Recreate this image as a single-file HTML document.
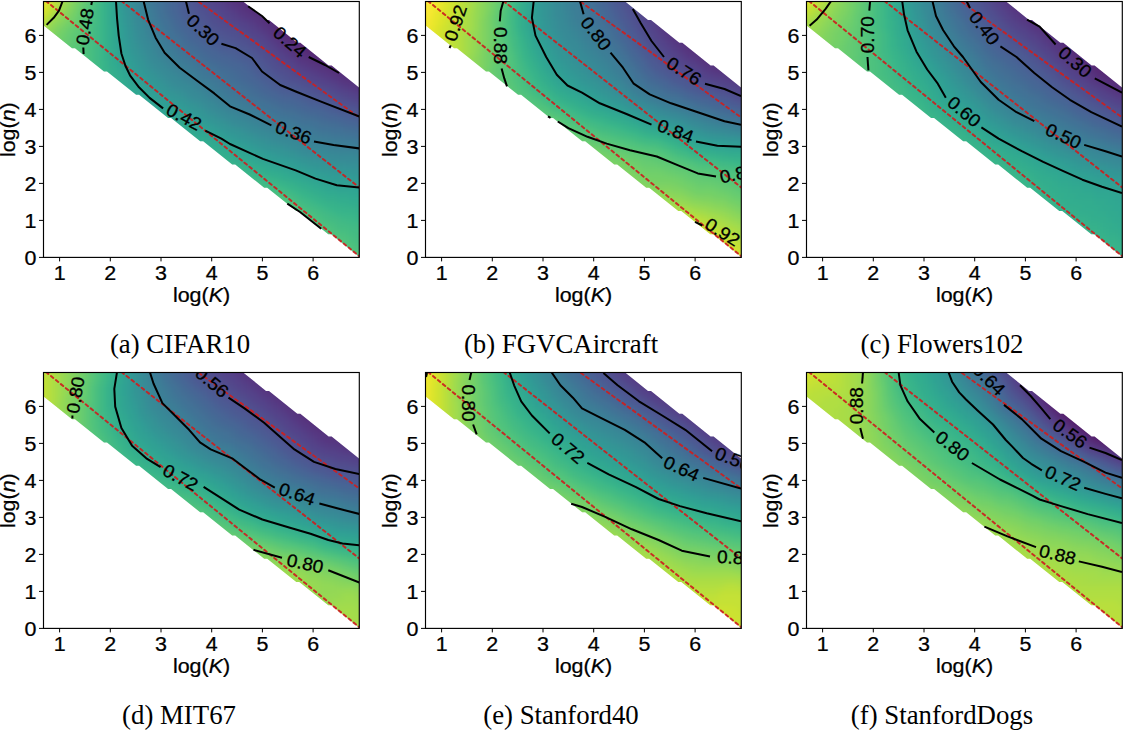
<!DOCTYPE html><html><head><meta charset="utf-8"><style>html,body{margin:0;padding:0;background:#fff;width:1125px;height:730px;overflow:hidden}svg{display:block}text{font-family:"Liberation Sans",sans-serif}.cap{font-family:"Liberation Serif",serif}</style></head><body>
<svg width="1125" height="730" viewBox="0 0 1125 730">
<defs><filter id="bl" x="-5%" y="-5%" width="110%" height="110%" color-interpolation-filters="sRGB"><feGaussianBlur stdDeviation="3.5"/></filter>
<clipPath id="da"><polygon points="43.0,1.0 242.5,1.0 266.0,19.9 269.0,19.9 297.3,42.7 300.3,42.7 328.6,65.5 331.6,65.5 359.0,87.5 359.0,257.0 359.0,256.5 331.3,234.3 328.3,234.3 299.3,211.1 296.3,211.1 267.2,187.8 264.2,187.8 235.2,164.5 232.2,164.5 203.2,141.3 200.2,141.3 171.1,118.0 168.1,118.0 139.1,94.8 136.1,94.8 107.0,71.5 104.0,71.5 75.0,48.2 72.0,48.2 43.0,25.0"/></clipPath>
<clipPath id="ra"><rect x="43" y="1" width="316" height="256"/></clipPath>
<clipPath id="db"><polygon points="425.0,1.0 624.5,1.0 648.0,19.9 651.0,19.9 679.3,42.7 682.3,42.7 710.6,65.5 713.6,65.5 741.0,87.5 741.0,257.0 741.0,256.5 713.3,234.3 710.3,234.3 681.3,211.1 678.3,211.1 649.2,187.8 646.2,187.8 617.2,164.5 614.2,164.5 585.2,141.3 582.2,141.3 553.1,118.0 550.1,118.0 521.1,94.8 518.1,94.8 489.0,71.5 486.0,71.5 457.0,48.2 454.0,48.2 425.0,25.0"/></clipPath>
<clipPath id="rb"><rect x="425" y="1" width="316" height="256"/></clipPath>
<clipPath id="dc"><polygon points="806.0,1.0 1005.5,1.0 1029.0,19.9 1032.0,19.9 1060.3,42.7 1063.3,42.7 1091.6,65.5 1094.6,65.5 1122.0,87.5 1122.0,257.0 1122.0,256.5 1094.3,234.3 1091.3,234.3 1062.3,211.1 1059.3,211.1 1030.2,187.8 1027.2,187.8 998.2,164.5 995.2,164.5 966.2,141.3 963.2,141.3 934.1,118.0 931.1,118.0 902.1,94.8 899.1,94.8 870.0,71.5 867.0,71.5 838.0,48.2 835.0,48.2 806.0,25.0"/></clipPath>
<clipPath id="rc"><rect x="806" y="1" width="316" height="256"/></clipPath>
<clipPath id="dd"><polygon points="43.0,372.0 242.5,372.0 266.0,390.9 269.0,390.9 297.3,413.7 300.3,413.7 328.6,436.5 331.6,436.5 359.0,458.5 359.0,628.0 359.0,627.5 331.3,605.3 328.3,605.3 299.3,582.1 296.3,582.1 267.2,558.8 264.2,558.8 235.2,535.5 232.2,535.5 203.2,512.3 200.2,512.3 171.1,489.0 168.1,489.0 139.1,465.8 136.1,465.8 107.0,442.5 104.0,442.5 75.0,419.2 72.0,419.2 43.0,396.0"/></clipPath>
<clipPath id="rd"><rect x="43" y="372" width="316" height="256"/></clipPath>
<clipPath id="de"><polygon points="425.0,372.0 624.5,372.0 648.0,390.9 651.0,390.9 679.3,413.7 682.3,413.7 710.6,436.5 713.6,436.5 741.0,458.5 741.0,628.0 741.0,627.5 713.3,605.3 710.3,605.3 681.3,582.1 678.3,582.1 649.2,558.8 646.2,558.8 617.2,535.5 614.2,535.5 585.2,512.3 582.2,512.3 553.1,489.0 550.1,489.0 521.1,465.8 518.1,465.8 489.0,442.5 486.0,442.5 457.0,419.2 454.0,419.2 425.0,396.0"/></clipPath>
<clipPath id="re"><rect x="425" y="372" width="316" height="256"/></clipPath>
<clipPath id="df"><polygon points="806.0,372.0 1005.5,372.0 1029.0,390.9 1032.0,390.9 1060.3,413.7 1063.3,413.7 1091.6,436.5 1094.6,436.5 1122.0,458.5 1122.0,628.0 1122.0,627.5 1094.3,605.3 1091.3,605.3 1062.3,582.1 1059.3,582.1 1030.2,558.8 1027.2,558.8 998.2,535.5 995.2,535.5 966.2,512.3 963.2,512.3 934.1,489.0 931.1,489.0 902.1,465.8 899.1,465.8 870.0,442.5 867.0,442.5 838.0,419.2 835.0,419.2 806.0,396.0"/></clipPath>
<clipPath id="rf"><rect x="806" y="372" width="316" height="256"/></clipPath>
</defs><rect width="1125" height="730" fill="#fff"/>
<g clip-path="url(#da)"><g filter="url(#bl)"><path fill="#440154" d="M271 -5h102v6h-102zM277 1h96v6h-96zM283 7h90v6h-90zM289 13h84v6h-84zM295 19h78v6h-78zM301 25h72v6h-72zM313 31h60v6h-60zM319 37h54v6h-54zM331 43h42v6h-42zM337 49h36v6h-36zM349 55h24v6h-24zM361 61h12v6h-12z"/><path fill="#450457" d="M265 -5h6v6h-6zM271 1h6v6h-6zM277 7h6v6h-6zM307 31h6v6h-6zM313 37h6v6h-6zM325 43h6v6h-6zM331 49h6v6h-6zM343 55h6v6h-6zM355 61h6v6h-6z"/><path fill="#46085c" d="M283 13h6v6h-6zM289 19h6v6h-6zM295 25h6v6h-6zM301 31h6v6h-6zM307 37h6v6h-6zM319 43h6v6h-6zM337 55h6v6h-6zM349 61h6v6h-6zM367 67h6v6h-6z"/><path fill="#470d60" d="M259 -5h6v6h-6zM265 1h6v6h-6zM271 7h6v6h-6zM277 13h6v6h-6zM283 19h6v6h-6zM289 25h6v6h-6zM295 31h6v6h-6zM313 43h6v6h-6zM325 49h6v6h-6zM331 55h6v6h-6zM343 61h6v6h-6zM355 67h12v6h-12z"/><path fill="#471063" d="M253 -5h6v6h-6zM259 1h6v6h-6zM265 7h6v6h-6zM301 37h6v6h-6zM307 43h6v6h-6zM319 49h6v6h-6zM337 61h6v6h-6zM349 67h6v6h-6zM367 73h6v6h-6z"/><path fill="#481467" d="M247 -5h6v6h-6zM253 1h6v6h-6zM271 13h6v6h-6zM277 19h6v6h-6zM283 25h6v6h-6zM289 31h6v6h-6zM295 37h6v6h-6zM301 43h6v6h-6zM313 49h6v6h-6zM325 55h6v6h-6zM331 61h6v6h-6zM343 67h6v6h-6zM361 73h6v6h-6z"/><path fill="#48186a" d="M259 7h6v6h-6zM265 13h6v6h-6zM271 19h6v6h-6zM277 25h6v6h-6zM283 31h6v6h-6zM307 49h6v6h-6zM319 55h6v6h-6zM337 67h6v6h-6zM355 73h6v6h-6zM367 79h6v6h-6z"/><path fill="#481b6d" d="M241 -5h6v6h-6zM247 1h6v6h-6zM253 7h6v6h-6zM289 37h6v6h-6zM295 43h6v6h-6zM301 49h6v6h-6zM313 55h6v6h-6zM325 61h6v6h-6zM343 73h12v6h-12zM361 79h6v6h-6z"/><path fill="#481f70" d="M235 -5h6v6h-6zM241 1h6v6h-6zM247 7h6v6h-6zM259 13h6v6h-6zM265 19h6v6h-6zM271 25h6v6h-6zM277 31h6v6h-6zM283 37h6v6h-6zM289 43h6v6h-6zM307 55h6v6h-6zM319 61h6v6h-6zM331 67h6v6h-6zM355 79h6v6h-6z"/><path fill="#482374" d="M229 -5h6v6h-6zM235 1h6v6h-6zM241 7h6v6h-6zM253 13h6v6h-6zM259 19h6v6h-6zM265 25h6v6h-6zM295 49h6v6h-6zM301 55h6v6h-6zM313 61h6v6h-6zM325 67h6v6h-6zM337 73h6v6h-6zM349 79h6v6h-6zM367 85h6v6h-6z"/><path fill="#482576" d="M247 13h6v6h-6zM271 31h6v6h-6zM277 37h6v6h-6zM283 43h6v6h-6zM289 49h6v6h-6zM295 55h6v6h-6zM307 61h6v6h-6zM319 67h6v6h-6zM331 73h6v6h-6zM343 79h6v6h-6zM355 85h12v6h-12z"/><path fill="#482979" d="M223 -5h6v6h-6zM229 1h6v6h-6zM235 7h6v6h-6zM241 13h6v6h-6zM253 19h6v6h-6zM259 25h6v6h-6zM265 31h6v6h-6zM271 37h6v6h-6zM277 43h6v6h-6zM301 61h6v6h-6zM313 67h6v6h-6zM325 73h6v6h-6zM337 79h6v6h-6zM349 85h6v6h-6zM367 91h6v6h-6z"/><path fill="#472d7b" d="M217 -5h6v6h-6zM223 1h6v6h-6zM229 7h6v6h-6zM235 13h6v6h-6zM247 19h6v6h-6zM253 25h6v6h-6zM283 49h6v6h-6zM289 55h6v6h-6zM295 61h6v6h-6zM307 67h6v6h-6zM319 73h6v6h-6zM331 79h6v6h-6zM343 85h6v6h-6zM361 91h6v6h-6z"/><path fill="#46307e" d="M223 7h6v6h-6zM241 19h6v6h-6zM259 31h6v6h-6zM265 37h6v6h-6zM271 43h6v6h-6zM277 49h6v6h-6zM283 55h6v6h-6zM301 67h6v6h-6zM313 73h6v6h-6zM325 79h6v6h-6zM337 85h6v6h-6zM355 91h6v6h-6z"/><path fill="#46337f" d="M211 -5h6v6h-6zM217 1h6v6h-6zM229 13h6v6h-6zM235 19h6v6h-6zM247 25h6v6h-6zM253 31h6v6h-6zM289 61h6v6h-6zM295 67h6v6h-6zM307 73h6v6h-6zM319 79h6v6h-6zM349 91h6v6h-6zM361 97h12v6h-12z"/><path fill="#453781" d="M211 1h6v6h-6zM217 7h6v6h-6zM223 13h6v6h-6zM229 19h6v6h-6zM241 25h6v6h-6zM247 31h6v6h-6zM259 37h6v6h-6zM265 43h6v6h-6zM271 49h6v6h-6zM277 55h6v6h-6zM283 61h6v6h-6zM301 73h6v6h-6zM313 79h6v6h-6zM331 85h6v6h-6zM343 91h6v6h-6zM355 97h6v6h-6z"/><path fill="#443a83" d="M205 -5h6v6h-6zM205 1h6v6h-6zM211 7h6v6h-6zM217 13h6v6h-6zM223 19h6v6h-6zM235 25h6v6h-6zM253 37h6v6h-6zM259 43h6v6h-6zM265 49h6v6h-6zM271 55h6v6h-6zM277 61h6v6h-6zM289 67h6v6h-6zM295 73h6v6h-6zM307 79h6v6h-6zM325 85h6v6h-6zM337 91h6v6h-6zM349 97h6v6h-6zM367 103h6v6h-6z"/><path fill="#433d84" d="M199 -5h6v6h-6zM205 7h6v6h-6zM211 13h6v6h-6zM217 19h6v6h-6zM229 25h6v6h-6zM241 31h6v6h-6zM247 37h6v6h-6zM283 67h6v6h-6zM289 73h6v6h-6zM301 79h6v6h-6zM319 85h6v6h-6zM331 91h6v6h-6zM343 97h6v6h-6zM361 103h6v6h-6z"/><path fill="#424086" d="M199 1h6v6h-6zM211 19h6v6h-6zM223 25h6v6h-6zM235 31h6v6h-6zM253 43h6v6h-6zM259 49h6v6h-6zM265 55h6v6h-6zM271 61h6v6h-6zM277 67h6v6h-6zM313 85h6v6h-6zM325 91h6v6h-6zM337 97h6v6h-6zM355 103h6v6h-6z"/><path fill="#414487" d="M193 -5h6v6h-6zM199 7h6v6h-6zM205 13h6v6h-6zM217 25h6v6h-6zM223 31h12v6h-12zM235 37h12v6h-12zM247 43h6v6h-6zM265 61h6v6h-6zM271 67h6v6h-6zM283 73h6v6h-6zM289 79h12v6h-12zM307 85h6v6h-6zM319 91h6v6h-6zM349 103h6v6h-6zM367 109h6v6h-6z"/><path fill="#404688" d="M193 1h6v6h-6zM193 7h6v6h-6zM199 13h6v6h-6zM205 19h6v6h-6zM211 25h6v6h-6zM217 31h6v6h-6zM229 37h6v6h-6zM241 43h6v6h-6zM253 49h6v6h-6zM259 55h6v6h-6zM277 73h6v6h-6zM283 79h6v6h-6zM301 85h6v6h-6zM313 91h6v6h-6zM331 97h6v6h-6zM343 103h6v6h-6zM361 109h6v6h-6z"/><path fill="#3e4989" d="M187 -5h6v6h-6zM187 1h6v6h-6zM193 13h6v6h-6zM199 19h6v6h-6zM205 25h6v6h-6zM211 31h6v6h-6zM223 37h6v6h-6zM235 43h6v6h-6zM247 49h6v6h-6zM253 55h6v6h-6zM259 61h6v6h-6zM265 67h6v6h-6zM271 73h6v6h-6zM277 79h6v6h-6zM295 85h6v6h-6zM307 91h6v6h-6zM319 97h12v6h-12zM337 103h6v6h-6zM355 109h6v6h-6zM367 115h6v6h-6z"/><path fill="#3d4d8a" d="M187 7h6v6h-6zM187 13h6v6h-6zM193 19h6v6h-6zM199 25h6v6h-6zM205 31h6v6h-6zM217 37h6v6h-6zM223 43h12v6h-12zM241 49h6v6h-6zM253 61h6v6h-6zM259 67h6v6h-6zM265 73h6v6h-6zM283 85h12v6h-12zM301 91h6v6h-6zM313 97h6v6h-6zM331 103h6v6h-6zM343 109h12v6h-12zM361 115h6v6h-6z"/><path fill="#3c4f8a" d="M181 -5h6v6h-6zM181 1h6v6h-6zM181 7h6v6h-6zM193 25h6v6h-6zM199 31h6v6h-6zM211 37h6v6h-6zM217 43h6v6h-6zM235 49h6v6h-6zM241 55h12v6h-12zM253 67h6v6h-6zM259 73h6v6h-6zM271 79h6v6h-6zM277 85h6v6h-6zM295 91h6v6h-6zM307 97h6v6h-6zM325 103h6v6h-6zM337 109h6v6h-6zM355 115h6v6h-6z"/><path fill="#3b528b" d="M175 -5h6v6h-6zM181 13h6v6h-6zM187 19h6v6h-6zM205 37h6v6h-6zM211 43h6v6h-6zM223 49h12v6h-12zM235 55h6v6h-6zM247 61h6v6h-6zM265 79h6v6h-6zM271 85h6v6h-6zM283 91h12v6h-12zM301 97h6v6h-6zM319 103h6v6h-6zM331 109h6v6h-6zM349 115h6v6h-6zM367 121h6v6h-6z"/><path fill="#39558c" d="M175 1h6v6h-6zM175 7h6v6h-6zM181 19h6v6h-6zM187 25h6v6h-6zM193 31h6v6h-6zM199 37h6v6h-6zM205 43h6v6h-6zM217 49h6v6h-6zM229 55h6v6h-6zM241 61h6v6h-6zM247 67h6v6h-6zM253 73h6v6h-6zM259 79h6v6h-6zM265 85h6v6h-6zM277 91h6v6h-6zM295 97h6v6h-6zM307 103h12v6h-12zM325 109h6v6h-6zM343 115h6v6h-6zM361 121h6v6h-6z"/><path fill="#38598c" d="M169 -5h6v6h-6zM175 13h6v6h-6zM181 25h6v6h-6zM187 31h6v6h-6zM193 37h6v6h-6zM199 43h6v6h-6zM211 49h6v6h-6zM217 55h12v6h-12zM229 61h12v6h-12zM241 67h6v6h-6zM247 73h6v6h-6zM253 79h6v6h-6zM259 85h6v6h-6zM271 91h6v6h-6zM283 97h12v6h-12zM301 103h6v6h-6zM319 109h6v6h-6zM337 115h6v6h-6zM355 121h6v6h-6z"/><path fill="#375b8d" d="M169 1h6v6h-6zM169 7h6v6h-6zM175 19h6v6h-6zM187 37h6v6h-6zM205 49h6v6h-6zM211 55h6v6h-6zM223 61h6v6h-6zM235 67h6v6h-6zM241 73h6v6h-6zM247 79h6v6h-6zM265 91h6v6h-6zM277 97h6v6h-6zM295 103h6v6h-6zM307 109h12v6h-12zM325 115h12v6h-12zM343 121h12v6h-12zM367 127h6v6h-6z"/><path fill="#355e8d" d="M163 -5h6v6h-6zM169 13h6v6h-6zM175 25h6v6h-6zM181 31h6v6h-6zM193 43h6v6h-6zM199 49h6v6h-6zM205 55h6v6h-6zM217 61h6v6h-6zM229 67h6v6h-6zM235 73h6v6h-6zM241 79h6v6h-6zM253 85h6v6h-6zM259 91h6v6h-6zM271 97h6v6h-6zM283 103h12v6h-12zM301 109h6v6h-6zM319 115h6v6h-6zM337 121h6v6h-6zM361 127h6v6h-6z"/><path fill="#34618d" d="M163 1h6v6h-6zM163 7h6v6h-6zM169 19h6v6h-6zM175 31h6v6h-6zM181 37h6v6h-6zM187 43h6v6h-6zM193 49h6v6h-6zM199 55h6v6h-6zM211 61h6v6h-6zM217 67h12v6h-12zM229 73h6v6h-6zM235 79h6v6h-6zM247 85h6v6h-6zM253 91h6v6h-6zM265 97h6v6h-6zM277 103h6v6h-6zM295 109h6v6h-6zM313 115h6v6h-6zM325 121h12v6h-12zM349 127h12v6h-12z"/><path fill="#33638d" d="M157 -5h6v6h-6zM163 13h6v6h-6zM169 25h6v6h-6zM181 43h6v6h-6zM187 49h6v6h-6zM205 61h6v6h-6zM223 73h6v6h-6zM229 79h6v6h-6zM241 85h6v6h-6zM247 91h6v6h-6zM259 97h6v6h-6zM271 103h6v6h-6zM283 109h12v6h-12zM301 115h12v6h-12zM319 121h6v6h-6zM343 127h6v6h-6zM367 133h6v6h-6z"/><path fill="#31668e" d="M157 1h6v6h-6zM157 7h6v6h-6zM163 19h6v6h-6zM169 31h6v6h-6zM175 37h6v6h-6zM193 55h6v6h-6zM199 61h6v6h-6zM211 67h6v6h-6zM217 73h6v6h-6zM223 79h6v6h-6zM235 85h6v6h-6zM241 91h6v6h-6zM253 97h6v6h-6zM265 103h6v6h-6zM277 109h6v6h-6zM295 115h6v6h-6zM313 121h6v6h-6zM331 127h12v6h-12zM355 133h12v6h-12z"/><path fill="#30698e" d="M151 -5h6v6h-6zM157 13h6v6h-6zM163 25h6v6h-6zM169 37h6v6h-6zM175 43h6v6h-6zM181 49h6v6h-6zM187 55h6v6h-6zM193 61h6v6h-6zM205 67h6v6h-6zM211 73h6v6h-6zM229 85h6v6h-6zM235 91h6v6h-6zM247 97h6v6h-6zM259 103h6v6h-6zM271 109h6v6h-6zM289 115h6v6h-6zM301 121h12v6h-12zM319 127h12v6h-12zM343 133h12v6h-12z"/><path fill="#2f6b8e" d="M151 1h6v6h-6zM157 19h6v6h-6zM163 31h6v6h-6zM175 49h6v6h-6zM181 55h6v6h-6zM199 67h6v6h-6zM205 73h6v6h-6zM217 79h6v6h-6zM223 85h6v6h-6zM229 91h6v6h-6zM241 97h6v6h-6zM253 103h6v6h-6zM265 109h6v6h-6zM277 115h12v6h-12zM295 121h6v6h-6zM313 127h6v6h-6zM331 133h12v6h-12zM367 139h6v6h-6z"/><path fill="#2e6e8e" d="M151 7h6v6h-6zM151 13h6v6h-6zM157 25h6v6h-6zM163 37h6v6h-6zM169 43h6v6h-6zM187 61h6v6h-6zM193 67h6v6h-6zM199 73h6v6h-6zM211 79h6v6h-6zM217 85h6v6h-6zM223 91h6v6h-6zM235 97h6v6h-6zM247 103h6v6h-6zM259 109h6v6h-6zM271 115h6v6h-6zM289 121h6v6h-6zM301 127h12v6h-12zM319 133h12v6h-12zM355 139h12v6h-12z"/><path fill="#2d718e" d="M145 -5h6v6h-6zM145 1h6v6h-6zM151 19h6v6h-6zM157 31h6v6h-6zM163 43h6v6h-6zM169 49h6v6h-6zM175 55h6v6h-6zM181 61h6v6h-6zM187 67h6v6h-6zM205 79h6v6h-6zM211 85h6v6h-6zM229 97h6v6h-6zM241 103h6v6h-6zM253 109h6v6h-6zM265 115h6v6h-6zM277 121h12v6h-12zM295 127h6v6h-6zM313 133h6v6h-6zM337 139h18v6h-18zM367 145h6v6h-6z"/><path fill="#2c738e" d="M145 7h6v6h-6zM151 25h6v6h-6zM157 37h6v6h-6zM163 49h6v6h-6zM169 55h6v6h-6zM175 61h6v6h-6zM193 73h6v6h-6zM199 79h6v6h-6zM217 91h6v6h-6zM223 97h6v6h-6zM229 103h12v6h-12zM247 109h6v6h-6zM259 115h6v6h-6zM271 121h6v6h-6zM289 127h6v6h-6zM307 133h6v6h-6zM325 139h12v6h-12zM361 145h6v6h-6z"/><path fill="#2b758e" d="M139 -5h6v6h-6zM145 13h6v6h-6zM145 19h6v6h-6zM151 31h6v6h-6zM157 43h6v6h-6zM181 67h6v6h-6zM187 73h6v6h-6zM193 79h6v6h-6zM205 85h6v6h-6zM211 91h6v6h-6zM217 97h6v6h-6zM241 109h6v6h-6zM253 115h6v6h-6zM265 121h6v6h-6zM283 127h6v6h-6zM295 133h12v6h-12zM313 139h12v6h-12zM343 145h18v6h-18z"/><path fill="#2a788e" d="M139 1h6v6h-6zM139 7h6v6h-6zM145 25h6v6h-6zM151 37h6v6h-6zM157 49h6v6h-6zM163 55h6v6h-6zM169 61h6v6h-6zM175 67h6v6h-6zM181 73h6v6h-6zM199 85h6v6h-6zM205 91h6v6h-6zM223 103h6v6h-6zM235 109h6v6h-6zM247 115h6v6h-6zM259 121h6v6h-6zM271 127h12v6h-12zM289 133h6v6h-6zM307 139h6v6h-6zM325 145h18v6h-18zM367 151h6v6h-6z"/><path fill="#297b8e" d="M139 13h6v6h-6zM145 31h6v6h-6zM151 43h6v6h-6zM157 55h6v6h-6zM163 61h6v6h-6zM169 67h6v6h-6zM187 79h6v6h-6zM193 85h6v6h-6zM211 97h6v6h-6zM217 103h6v6h-6zM229 109h6v6h-6zM241 115h6v6h-6zM253 121h6v6h-6zM265 127h6v6h-6zM283 133h6v6h-6zM301 139h6v6h-6zM313 145h12v6h-12zM355 151h12v6h-12z"/><path fill="#287d8e" d="M133 -5h6v6h-6zM139 19h6v6h-6zM145 37h6v6h-6zM151 49h6v6h-6zM175 73h6v6h-6zM181 79h6v6h-6zM199 91h6v6h-6zM205 97h6v6h-6zM223 109h6v6h-6zM235 115h6v6h-6zM247 121h6v6h-6zM259 127h6v6h-6zM277 133h6v6h-6zM295 139h6v6h-6zM307 145h6v6h-6zM331 151h24v6h-24zM367 157h6v6h-6z"/><path fill="#27808e" d="M133 1h6v6h-6zM133 7h6v6h-6zM139 25h6v6h-6zM139 31h6v6h-6zM145 43h6v6h-6zM151 55h6v6h-6zM157 61h6v6h-6zM163 67h6v6h-6zM169 73h6v6h-6zM175 79h6v6h-6zM187 85h6v6h-6zM193 91h6v6h-6zM211 103h6v6h-6zM217 109h6v6h-6zM229 115h6v6h-6zM241 121h6v6h-6zM253 127h6v6h-6zM271 133h6v6h-6zM283 139h12v6h-12zM301 145h6v6h-6zM319 151h12v6h-12zM361 157h6v6h-6z"/><path fill="#26828e" d="M133 13h6v6h-6zM133 19h6v6h-6zM139 37h6v6h-6zM145 49h6v6h-6zM151 61h6v6h-6zM157 67h6v6h-6zM163 73h6v6h-6zM169 79h6v6h-6zM181 85h6v6h-6zM187 91h6v6h-6zM199 97h6v6h-6zM205 103h6v6h-6zM223 115h6v6h-6zM235 121h6v6h-6zM247 127h6v6h-6zM265 133h6v6h-6zM277 139h6v6h-6zM295 145h6v6h-6zM307 151h12v6h-12zM337 157h24v6h-24z"/><path fill="#25848e" d="M133 25h6v6h-6zM139 43h6v6h-6zM145 55h6v6h-6zM175 85h6v6h-6zM193 97h6v6h-6zM211 109h6v6h-6zM229 121h6v6h-6zM259 133h6v6h-6zM271 139h6v6h-6zM289 145h6v6h-6zM301 151h6v6h-6zM325 157h12v6h-12zM361 163h12v6h-12z"/><path fill="#24878e" d="M127 -5h6v6h-6zM127 1h6v6h-6zM127 7h6v6h-6zM133 31h6v6h-6zM133 37h6v6h-6zM139 49h6v6h-6zM145 61h6v6h-6zM151 67h6v6h-6zM157 73h6v6h-6zM163 79h6v6h-6zM169 85h6v6h-6zM181 91h6v6h-6zM187 97h6v6h-6zM199 103h6v6h-6zM205 109h6v6h-6zM217 115h6v6h-6zM241 127h6v6h-6zM253 133h6v6h-6zM265 139h6v6h-6zM283 145h6v6h-6zM295 151h6v6h-6zM313 157h12v6h-12zM343 163h18v6h-18z"/><path fill="#238a8d" d="M127 13h6v6h-6zM127 19h6v6h-6zM133 43h6v6h-6zM139 55h6v6h-6zM145 67h6v6h-6zM151 73h6v6h-6zM157 79h6v6h-6zM163 85h6v6h-6zM175 91h6v6h-6zM193 103h6v6h-6zM211 115h6v6h-6zM223 121h6v6h-6zM235 127h6v6h-6zM247 133h6v6h-6zM259 139h6v6h-6zM271 145h12v6h-12zM289 151h6v6h-6zM307 157h6v6h-6zM325 163h18v6h-18zM367 169h6v6h-6z"/><path fill="#228c8d" d="M127 25h6v6h-6zM127 31h6v6h-6zM133 49h6v6h-6zM139 61h6v6h-6zM169 91h6v6h-6zM181 97h6v6h-6zM187 103h6v6h-6zM199 109h6v6h-6zM205 115h6v6h-6zM217 121h6v6h-6zM229 127h6v6h-6zM241 133h6v6h-6zM253 139h6v6h-6zM265 145h6v6h-6zM283 151h6v6h-6zM301 157h6v6h-6zM319 163h6v6h-6zM349 169h18v6h-18z"/><path fill="#218f8d" d="M121 -5h6v6h-6zM121 1h6v6h-6zM121 7h6v6h-6zM127 37h6v6h-6zM127 43h6v6h-6zM133 55h6v6h-6zM139 67h6v6h-6zM145 73h6v6h-6zM151 79h6v6h-6zM157 85h6v6h-6zM163 91h6v6h-6zM175 97h6v6h-6zM193 109h6v6h-6zM211 121h6v6h-6zM223 127h6v6h-6zM235 133h6v6h-6zM247 139h6v6h-6zM259 145h6v6h-6zM277 151h6v6h-6zM295 157h6v6h-6zM307 163h12v6h-12zM331 169h18v6h-18zM367 175h6v6h-6z"/><path fill="#20928c" d="M121 13h6v6h-6zM121 19h6v6h-6zM127 49h6v6h-6zM133 61h6v6h-6zM139 73h6v6h-6zM145 79h6v6h-6zM151 85h6v6h-6zM157 91h6v6h-6zM169 97h6v6h-6zM181 103h6v6h-6zM199 115h6v6h-6zM217 127h6v6h-6zM229 133h6v6h-6zM241 139h6v6h-6zM253 145h6v6h-6zM271 151h6v6h-6zM289 157h6v6h-6zM301 163h6v6h-6zM319 169h12v6h-12zM355 175h12v6h-12z"/><path fill="#1f948c" d="M121 25h6v6h-6zM121 31h6v6h-6zM121 37h6v6h-6zM127 55h6v6h-6zM133 67h6v6h-6zM145 85h6v6h-6zM163 97h6v6h-6zM175 103h6v6h-6zM187 109h6v6h-6zM193 115h6v6h-6zM205 121h6v6h-6zM223 133h6v6h-6zM235 139h6v6h-6zM265 151h6v6h-6zM277 157h12v6h-12zM295 163h6v6h-6zM313 169h6v6h-6zM331 175h24v6h-24zM367 181h6v6h-6z"/><path fill="#1f968b" d="M115 -5h6v6h-6zM115 1h6v6h-6zM121 43h6v6h-6zM121 49h6v6h-6zM127 61h6v6h-6zM133 73h6v6h-6zM139 79h6v6h-6zM151 91h6v6h-6zM157 97h6v6h-6zM163 103h12v6h-12zM181 109h6v6h-6zM199 121h6v6h-6zM211 127h6v6h-6zM229 139h6v6h-6zM247 145h6v6h-6zM259 151h6v6h-6zM271 157h6v6h-6zM289 163h6v6h-6zM307 169h6v6h-6zM325 175h6v6h-6zM355 181h12v6h-12z"/><path fill="#1f998a" d="M115 7h6v6h-6zM115 13h6v6h-6zM115 19h6v6h-6zM121 55h6v6h-6zM127 67h6v6h-6zM133 79h6v6h-6zM139 85h6v6h-6zM145 91h6v6h-6zM151 97h6v6h-6zM175 109h6v6h-6zM187 115h6v6h-6zM193 121h6v6h-6zM205 127h6v6h-6zM217 133h6v6h-6zM241 145h6v6h-6zM253 151h6v6h-6zM265 157h6v6h-6zM283 163h6v6h-6zM301 169h6v6h-6zM313 175h12v6h-12zM331 181h24v6h-24zM367 187h6v6h-6z"/><path fill="#1e9c89" d="M115 25h6v6h-6zM115 31h6v6h-6zM115 37h6v6h-6zM121 61h6v6h-6zM127 73h6v6h-6zM139 91h6v6h-6zM145 97h6v6h-6zM157 103h6v6h-6zM163 109h12v6h-12zM181 115h6v6h-6zM199 127h6v6h-6zM211 133h6v6h-6zM223 139h6v6h-6zM235 145h6v6h-6zM247 151h6v6h-6zM259 157h6v6h-6zM277 163h6v6h-6zM295 169h6v6h-6zM307 175h6v6h-6zM325 181h6v6h-6zM355 187h12v6h-12z"/><path fill="#1f9e89" d="M115 43h6v6h-6zM115 49h6v6h-6zM115 55h6v6h-6zM121 67h6v6h-6zM127 79h6v6h-6zM133 85h6v6h-6zM151 103h6v6h-6zM157 109h6v6h-6zM169 115h12v6h-12zM187 121h6v6h-6zM193 127h6v6h-6zM205 133h6v6h-6zM217 139h6v6h-6zM229 145h6v6h-6zM241 151h6v6h-6zM253 157h6v6h-6zM271 163h6v6h-6zM289 169h6v6h-6zM301 175h6v6h-6zM319 181h6v6h-6zM337 187h18v6h-18zM367 193h6v6h-6z"/><path fill="#1fa188" d="M109 -5h6v6h-6zM109 1h6v6h-6zM109 7h6v6h-6zM109 13h6v6h-6zM109 19h6v6h-6zM115 61h6v6h-6zM121 73h6v6h-6zM127 85h6v6h-6zM133 91h6v6h-6zM139 97h6v6h-6zM145 103h6v6h-6zM151 109h6v6h-6zM163 115h6v6h-6zM181 121h6v6h-6zM187 127h6v6h-6zM199 133h6v6h-6zM211 139h6v6h-6zM223 145h6v6h-6zM235 151h6v6h-6zM247 157h6v6h-6zM265 163h6v6h-6zM283 169h6v6h-6zM295 175h6v6h-6zM313 181h6v6h-6zM325 187h12v6h-12zM349 193h18v6h-18z"/><path fill="#20a386" d="M109 25h6v6h-6zM109 31h6v6h-6zM109 37h6v6h-6zM109 43h6v6h-6zM115 67h6v6h-6zM121 79h6v6h-6zM133 97h6v6h-6zM139 103h6v6h-6zM157 115h6v6h-6zM169 121h12v6h-12zM193 133h6v6h-6zM205 139h6v6h-6zM217 145h6v6h-6zM229 151h6v6h-6zM241 157h6v6h-6zM259 163h6v6h-6zM271 169h12v6h-12zM289 175h6v6h-6zM307 181h6v6h-6zM319 187h6v6h-6zM337 193h12v6h-12zM361 199h12v6h-12z"/><path fill="#21a585" d="M109 49h6v6h-6zM109 55h6v6h-6zM109 61h6v6h-6zM115 73h6v6h-6zM121 85h6v6h-6zM127 91h6v6h-6zM145 109h6v6h-6zM151 115h6v6h-6zM163 121h6v6h-6zM181 127h6v6h-6zM187 133h6v6h-6zM199 139h6v6h-6zM211 145h6v6h-6zM223 151h6v6h-6zM235 157h6v6h-6zM253 163h6v6h-6zM265 169h6v6h-6zM283 175h6v6h-6zM301 181h6v6h-6zM313 187h6v6h-6zM325 193h12v6h-12zM349 199h12v6h-12zM367 205h6v6h-6z"/><path fill="#22a884" d="M109 67h6v6h-6zM115 79h6v6h-6zM121 91h6v6h-6zM127 97h6v6h-6zM133 103h6v6h-6zM139 109h6v6h-6zM157 121h6v6h-6zM169 127h12v6h-12zM181 133h6v6h-6zM193 139h6v6h-6zM205 145h6v6h-6zM217 151h6v6h-6zM229 157h6v6h-6zM247 163h6v6h-6zM259 169h6v6h-6zM277 175h6v6h-6zM295 181h6v6h-6zM307 187h6v6h-6zM319 193h6v6h-6zM337 199h12v6h-12zM355 205h12v6h-12zM367 211h6v6h-6z"/><path fill="#25ab82" d="M103 -5h6v6h-6zM103 1h6v6h-6zM103 7h6v6h-6zM103 13h6v6h-6zM103 19h6v6h-6zM103 25h6v6h-6zM103 31h6v6h-6zM103 37h6v6h-6zM103 43h6v6h-6zM103 49h6v6h-6zM103 55h6v6h-6zM109 73h6v6h-6zM115 85h6v6h-6zM127 103h6v6h-6zM133 109h6v6h-6zM145 115h6v6h-6zM151 121h6v6h-6zM163 127h6v6h-6zM175 133h6v6h-6zM187 139h6v6h-6zM199 145h6v6h-6zM211 151h6v6h-6zM223 157h6v6h-6zM241 163h6v6h-6zM253 169h6v6h-6zM271 175h6v6h-6zM289 181h6v6h-6zM301 187h6v6h-6zM313 193h6v6h-6zM325 199h12v6h-12zM343 205h12v6h-12zM361 211h6v6h-6z"/><path fill="#26ad81" d="M103 61h6v6h-6zM103 67h6v6h-6zM109 79h6v6h-6zM115 91h6v6h-6zM121 97h6v6h-6zM139 115h6v6h-6zM145 121h6v6h-6zM157 127h6v6h-6zM169 133h6v6h-6zM181 139h6v6h-6zM193 145h6v6h-6zM205 151h6v6h-6zM217 157h6v6h-6zM235 163h6v6h-6zM247 169h6v6h-6zM265 175h6v6h-6zM283 181h6v6h-6zM295 187h6v6h-6zM307 193h6v6h-6zM319 199h6v6h-6zM331 205h12v6h-12zM355 211h6v6h-6zM367 217h6v6h-6z"/><path fill="#29af7f" d="M103 73h6v6h-6zM109 85h6v6h-6zM115 97h6v6h-6zM121 103h6v6h-6zM127 109h6v6h-6zM133 115h6v6h-6zM151 127h6v6h-6zM163 133h6v6h-6zM175 139h6v6h-6zM187 145h6v6h-6zM199 151h6v6h-6zM211 157h6v6h-6zM229 163h6v6h-6zM241 169h6v6h-6zM259 175h6v6h-6zM277 181h6v6h-6zM289 187h6v6h-6zM301 193h6v6h-6zM313 199h6v6h-6zM325 205h6v6h-6zM337 211h18v6h-18zM355 217h12v6h-12zM367 223h6v6h-6z"/><path fill="#2db27d" d="M97 1h6v6h-6zM97 7h6v6h-6zM97 13h6v6h-6zM97 19h6v6h-6zM97 25h6v6h-6zM97 31h6v6h-6zM97 37h6v6h-6zM97 43h6v6h-6zM97 49h6v6h-6zM97 55h6v6h-6zM97 61h6v6h-6zM97 67h6v6h-6zM103 79h6v6h-6zM109 91h6v6h-6zM121 109h6v6h-6zM139 121h6v6h-6zM145 127h6v6h-6zM157 133h6v6h-6zM169 139h6v6h-6zM181 145h6v6h-6zM193 151h6v6h-6zM223 163h6v6h-6zM235 169h6v6h-6zM247 175h12v6h-12zM265 181h12v6h-12zM283 187h6v6h-6zM295 193h6v6h-6zM307 199h6v6h-6zM319 205h6v6h-6zM331 211h6v6h-6zM343 217h12v6h-12zM361 223h6v6h-6zM367 229h6v6h-6z"/><path fill="#31b57b" d="M97 -5h6v6h-6zM97 73h6v6h-6zM103 85h6v6h-6zM109 97h6v6h-6zM115 103h6v6h-6zM127 115h6v6h-6zM133 121h6v6h-6zM139 127h6v6h-6zM151 133h6v6h-6zM163 139h6v6h-6zM175 145h6v6h-6zM187 151h6v6h-6zM199 157h12v6h-12zM217 163h6v6h-6zM229 169h6v6h-6zM241 175h6v6h-6zM259 181h6v6h-6zM277 187h6v6h-6zM301 199h6v6h-6zM313 205h6v6h-6zM325 211h6v6h-6zM337 217h6v6h-6zM349 223h12v6h-12zM361 229h6v6h-6zM367 235h6v6h-6zM367 241h6v6h-6z"/><path fill="#34b679" d="M91 25h6v6h-6zM91 31h6v6h-6zM91 37h6v6h-6zM91 43h6v6h-6zM91 49h6v6h-6zM91 55h6v6h-6zM91 61h6v6h-6zM97 79h6v6h-6zM97 85h6v6h-6zM103 91h6v6h-6zM109 103h6v6h-6zM115 109h6v6h-6zM121 115h6v6h-6zM127 121h6v6h-6zM145 133h6v6h-6zM157 139h6v6h-6zM169 145h6v6h-6zM181 151h6v6h-6zM193 157h6v6h-6zM211 163h6v6h-6zM223 169h6v6h-6zM235 175h6v6h-6zM253 181h6v6h-6zM271 187h6v6h-6zM289 193h6v6h-6zM295 199h6v6h-6zM307 205h6v6h-6zM319 211h6v6h-6zM325 217h12v6h-12zM337 223h12v6h-12zM349 229h12v6h-12zM355 235h12v6h-12zM361 241h6v6h-6zM367 247h6v6h-6z"/><path fill="#38b977" d="M91 7h6v6h-6zM91 13h6v6h-6zM91 19h6v6h-6zM91 67h6v6h-6zM91 73h6v6h-6zM97 91h6v6h-6zM103 97h6v6h-6zM133 127h6v6h-6zM139 133h6v6h-6zM151 139h6v6h-6zM163 145h6v6h-6zM175 151h6v6h-6zM187 157h6v6h-6zM205 163h6v6h-6zM217 169h6v6h-6zM229 175h6v6h-6zM247 181h6v6h-6zM265 187h6v6h-6zM283 193h6v6h-6zM301 205h6v6h-6zM313 211h6v6h-6zM319 217h6v6h-6zM331 223h6v6h-6zM337 229h12v6h-12zM349 235h6v6h-6zM355 241h6v6h-6zM361 247h6v6h-6zM367 253h6v6h-6z"/><path fill="#3dbc74" d="M91 -5h6v6h-6zM91 1h6v6h-6zM85 37h6v6h-6zM85 43h6v6h-6zM85 49h6v6h-6zM85 55h6v6h-6zM85 61h6v6h-6zM85 67h6v6h-6zM91 79h6v6h-6zM91 85h6v6h-6zM103 103h6v6h-6zM109 109h6v6h-6zM115 115h6v6h-6zM121 121h6v6h-6zM127 127h6v6h-6zM145 139h6v6h-6zM157 145h6v6h-6zM169 151h6v6h-6zM181 157h6v6h-6zM193 163h12v6h-12zM211 169h6v6h-6zM223 175h6v6h-6zM235 181h12v6h-12zM253 187h12v6h-12zM271 193h12v6h-12zM289 199h6v6h-6zM295 205h6v6h-6zM307 211h6v6h-6zM313 217h6v6h-6zM319 223h12v6h-12zM331 229h6v6h-6zM343 235h6v6h-6zM349 241h6v6h-6zM355 247h6v6h-6zM361 253h6v6h-6zM367 259h6v6h-6z"/><path fill="#40bd72" d="M85 19h6v6h-6zM85 25h6v6h-6zM85 31h6v6h-6zM79 49h6v6h-6zM85 73h6v6h-6zM85 79h6v6h-6zM91 91h6v6h-6zM97 97h6v6h-6zM103 109h6v6h-6zM109 115h6v6h-6zM115 121h6v6h-6zM121 127h6v6h-6zM133 133h6v6h-6zM139 139h6v6h-6zM151 145h6v6h-6zM163 151h6v6h-6zM175 157h6v6h-6zM187 163h6v6h-6zM205 169h6v6h-6zM217 175h6v6h-6zM229 181h6v6h-6zM247 187h6v6h-6zM265 193h6v6h-6zM283 199h6v6h-6zM301 211h6v6h-6zM307 217h6v6h-6zM325 229h6v6h-6zM331 235h12v6h-12zM343 241h6v6h-6zM349 247h6v6h-6zM355 253h6v6h-6zM361 259h6v6h-6zM367 265h6v6h-6z"/><path fill="#46c06f" d="M85 7h6v6h-6zM85 13h6v6h-6zM79 31h6v6h-6zM79 37h6v6h-6zM79 43h6v6h-6zM79 55h6v6h-6zM79 61h6v6h-6zM79 67h6v6h-6zM85 85h6v6h-6zM91 97h6v6h-6zM97 103h6v6h-6zM127 133h6v6h-6zM133 139h6v6h-6zM145 145h6v6h-6zM157 151h6v6h-6zM169 157h6v6h-6zM181 163h6v6h-6zM193 169h12v6h-12zM211 175h6v6h-6zM223 181h6v6h-6zM241 187h6v6h-6zM259 193h6v6h-6zM277 199h6v6h-6zM289 205h6v6h-6zM295 211h6v6h-6zM301 217h6v6h-6zM313 223h6v6h-6zM319 229h6v6h-6zM325 235h6v6h-6zM337 241h6v6h-6zM343 247h6v6h-6zM349 253h6v6h-6zM355 259h6v6h-6zM361 265h6v6h-6z"/><path fill="#4cc26c" d="M85 -5h6v6h-6zM85 1h6v6h-6zM79 25h6v6h-6zM73 37h6v6h-6zM73 43h6v6h-6zM73 49h6v6h-6zM73 55h6v6h-6zM73 61h6v6h-6zM79 73h6v6h-6zM79 79h6v6h-6zM85 91h6v6h-6zM97 109h6v6h-6zM103 115h6v6h-6zM109 121h6v6h-6zM115 127h6v6h-6zM121 133h6v6h-6zM139 145h6v6h-6zM151 151h6v6h-6zM163 157h6v6h-6zM175 163h6v6h-6zM187 169h6v6h-6zM205 175h6v6h-6zM217 181h6v6h-6zM229 187h12v6h-12zM247 193h12v6h-12zM265 199h12v6h-12zM283 205h6v6h-6zM289 211h6v6h-6zM307 223h6v6h-6zM313 229h6v6h-6zM319 235h6v6h-6zM325 241h12v6h-12zM337 247h6v6h-6zM343 253h6v6h-6zM349 259h6v6h-6zM355 265h6v6h-6z"/><path fill="#50c46a" d="M79 13h6v6h-6zM79 19h6v6h-6zM73 31h6v6h-6zM67 43h6v6h-6zM67 49h6v6h-6zM73 67h6v6h-6zM73 73h6v6h-6zM79 85h6v6h-6zM85 97h6v6h-6zM91 103h6v6h-6zM97 115h6v6h-6zM103 121h6v6h-6zM109 127h6v6h-6zM127 139h6v6h-6zM133 145h6v6h-6zM145 151h6v6h-6zM157 157h6v6h-6zM169 163h6v6h-6zM181 169h6v6h-6zM193 175h12v6h-12zM211 181h6v6h-6zM223 187h6v6h-6zM241 193h6v6h-6zM259 199h6v6h-6zM271 205h12v6h-12zM283 211h6v6h-6zM295 217h6v6h-6zM301 223h6v6h-6zM307 229h6v6h-6zM313 235h6v6h-6zM319 241h6v6h-6zM331 247h6v6h-6zM337 253h6v6h-6zM343 259h6v6h-6zM349 265h6v6h-6z"/><path fill="#56c667" d="M79 7h6v6h-6zM73 25h6v6h-6zM67 31h6v6h-6zM67 37h6v6h-6zM67 55h6v6h-6zM67 61h6v6h-6zM73 79h6v6h-6zM79 91h6v6h-6zM85 103h6v6h-6zM91 109h6v6h-6zM115 133h6v6h-6zM121 139h6v6h-6zM127 145h6v6h-6zM139 151h6v6h-6zM151 157h6v6h-6zM163 163h6v6h-6zM175 169h6v6h-6zM187 175h6v6h-6zM205 181h6v6h-6zM217 187h6v6h-6zM235 193h6v6h-6zM247 199h12v6h-12zM265 205h6v6h-6zM277 211h6v6h-6zM289 217h6v6h-6zM295 223h6v6h-6zM301 229h6v6h-6zM307 235h6v6h-6zM325 247h6v6h-6zM331 253h6v6h-6zM337 259h6v6h-6zM343 265h6v6h-6z"/><path fill="#5cc863" d="M79 1h6v6h-6zM73 19h6v6h-6zM67 25h6v6h-6zM61 37h6v6h-6zM61 43h6v6h-6zM61 49h6v6h-6zM61 55h6v6h-6zM67 67h6v6h-6zM67 73h6v6h-6zM73 85h6v6h-6zM79 97h6v6h-6zM91 115h6v6h-6zM97 121h6v6h-6zM103 127h6v6h-6zM109 133h6v6h-6zM115 139h6v6h-6zM133 151h6v6h-6zM145 157h6v6h-6zM157 163h6v6h-6zM169 169h6v6h-6zM181 175h6v6h-6zM193 181h12v6h-12zM211 187h6v6h-6zM223 193h12v6h-12zM241 199h6v6h-6zM259 205h6v6h-6zM271 211h6v6h-6zM283 217h6v6h-6zM289 223h6v6h-6zM295 229h6v6h-6zM313 241h6v6h-6zM319 247h6v6h-6zM325 253h6v6h-6zM331 259h6v6h-6zM337 265h6v6h-6z"/><path fill="#63cb5f" d="M79 -5h6v6h-6zM73 13h6v6h-6zM61 31h6v6h-6zM61 61h6v6h-6zM61 67h6v6h-6zM67 79h6v6h-6zM73 91h6v6h-6zM79 103h6v6h-6zM85 109h6v6h-6zM97 127h6v6h-6zM103 133h6v6h-6zM121 145h6v6h-6zM127 151h6v6h-6zM139 157h6v6h-6zM151 163h6v6h-6zM163 169h6v6h-6zM175 175h6v6h-6zM187 181h6v6h-6zM205 187h6v6h-6zM217 193h6v6h-6zM235 199h6v6h-6zM247 205h12v6h-12zM265 211h6v6h-6zM277 217h6v6h-6zM283 223h6v6h-6zM301 235h6v6h-6zM307 241h6v6h-6zM313 247h6v6h-6zM319 253h6v6h-6zM325 259h6v6h-6zM331 265h6v6h-6z"/><path fill="#67cc5c" d="M73 7h6v6h-6zM67 19h6v6h-6zM61 25h6v6h-6zM55 31h6v6h-6zM55 37h6v6h-6zM55 43h6v6h-6zM55 49h6v6h-6zM55 55h6v6h-6zM61 73h6v6h-6zM67 85h6v6h-6zM73 97h6v6h-6zM79 109h6v6h-6zM85 115h6v6h-6zM91 121h6v6h-6zM109 139h6v6h-6zM115 145h6v6h-6zM133 157h6v6h-6zM145 163h6v6h-6zM157 169h6v6h-6zM169 175h6v6h-6zM181 181h6v6h-6zM193 187h12v6h-12zM211 193h6v6h-6zM223 199h12v6h-12zM241 205h6v6h-6zM253 211h12v6h-12zM271 217h6v6h-6zM277 223h6v6h-6zM289 229h6v6h-6zM295 235h6v6h-6zM301 241h6v6h-6zM307 247h6v6h-6zM313 253h6v6h-6zM319 259h6v6h-6zM325 265h6v6h-6z"/><path fill="#6ece58" d="M73 1h6v6h-6zM67 13h6v6h-6zM55 61h6v6h-6zM55 67h6v6h-6zM61 79h6v6h-6zM67 91h6v6h-6zM73 103h6v6h-6zM85 121h6v6h-6zM91 127h6v6h-6zM97 133h6v6h-6zM103 139h6v6h-6zM109 145h6v6h-6zM121 151h6v6h-6zM127 157h6v6h-6zM139 163h6v6h-6zM151 169h6v6h-6zM163 175h6v6h-6zM175 181h6v6h-6zM187 187h6v6h-6zM199 193h12v6h-12zM217 199h6v6h-6zM229 205h12v6h-12zM247 211h6v6h-6zM259 217h12v6h-12zM271 223h6v6h-6zM283 229h6v6h-6zM289 235h6v6h-6zM295 241h6v6h-6zM301 247h6v6h-6zM307 253h6v6h-6zM313 259h6v6h-6zM319 265h6v6h-6z"/><path fill="#75d054" d="M73 -5h6v6h-6zM61 19h6v6h-6zM55 25h6v6h-6zM49 37h6v6h-6zM49 43h6v6h-6zM49 49h6v6h-6zM55 73h6v6h-6zM61 85h6v6h-6zM67 97h6v6h-6zM73 109h6v6h-6zM79 115h6v6h-6zM115 151h6v6h-6zM121 157h6v6h-6zM133 163h6v6h-6zM145 169h6v6h-6zM157 175h6v6h-6zM169 181h6v6h-6zM181 187h6v6h-6zM193 193h6v6h-6zM211 199h6v6h-6zM223 205h6v6h-6zM241 211h6v6h-6zM253 217h6v6h-6zM265 223h6v6h-6zM277 229h6v6h-6zM283 235h6v6h-6zM289 241h6v6h-6zM295 247h6v6h-6zM301 253h6v6h-6zM307 259h6v6h-6zM313 265h6v6h-6z"/><path fill="#7ad151" d="M67 7h6v6h-6zM49 31h6v6h-6zM49 55h6v6h-6zM49 61h6v6h-6zM55 79h6v6h-6zM61 91h6v6h-6zM67 103h6v6h-6zM79 121h6v6h-6zM85 127h6v6h-6zM91 133h6v6h-6zM97 139h6v6h-6zM103 145h6v6h-6zM109 151h6v6h-6zM127 163h6v6h-6zM139 169h6v6h-6zM151 175h6v6h-6zM163 181h6v6h-6zM175 187h6v6h-6zM187 193h6v6h-6zM199 199h12v6h-12zM217 205h6v6h-6zM229 211h12v6h-12zM247 217h6v6h-6zM259 223h6v6h-6zM271 229h6v6h-6zM277 235h6v6h-6zM283 241h6v6h-6zM289 247h6v6h-6z"/><path fill="#81d34d" d="M67 1h6v6h-6zM61 13h6v6h-6zM55 19h6v6h-6zM49 25h6v6h-6zM49 67h6v6h-6zM55 85h6v6h-6zM61 97h6v6h-6zM67 109h6v6h-6zM73 115h6v6h-6zM85 133h6v6h-6zM91 139h6v6h-6zM97 145h6v6h-6zM115 157h6v6h-6zM121 163h6v6h-6zM133 169h6v6h-6zM145 175h6v6h-6zM157 181h6v6h-6zM169 187h6v6h-6zM181 193h6v6h-6zM193 199h6v6h-6zM205 205h12v6h-12zM223 211h6v6h-6zM235 217h12v6h-12zM253 223h6v6h-6zM265 229h6v6h-6zM271 235h6v6h-6zM277 241h6v6h-6zM295 253h6v6h-6zM301 259h6v6h-6zM307 265h6v6h-6z"/><path fill="#89d548" d="M67 -5h6v6h-6zM61 7h6v6h-6zM43 37h6v6h-6zM43 43h6v6h-6zM43 49h6v6h-6zM43 55h6v6h-6zM49 73h6v6h-6zM49 79h6v6h-6zM55 91h6v6h-6zM61 103h6v6h-6zM73 121h6v6h-6zM79 127h6v6h-6zM103 151h6v6h-6zM109 157h6v6h-6zM127 169h6v6h-6zM139 175h6v6h-6zM151 181h6v6h-6zM163 187h6v6h-6zM175 193h6v6h-6zM187 199h6v6h-6zM199 205h6v6h-6zM217 211h6v6h-6zM229 217h6v6h-6zM241 223h12v6h-12zM253 229h12v6h-12zM265 235h6v6h-6zM271 241h6v6h-6zM283 247h6v6h-6zM289 253h6v6h-6zM295 259h6v6h-6zM301 265h6v6h-6z"/><path fill="#8ed645" d="M55 13h6v6h-6zM49 19h6v6h-6zM43 31h6v6h-6zM43 61h6v6h-6zM43 67h6v6h-6zM49 85h6v6h-6zM55 97h6v6h-6zM61 109h6v6h-6zM67 115h6v6h-6zM73 127h6v6h-6zM79 133h6v6h-6zM85 139h6v6h-6zM91 145h6v6h-6zM97 151h6v6h-6zM103 157h6v6h-6zM115 163h6v6h-6zM121 169h6v6h-6zM133 175h6v6h-6zM145 181h6v6h-6zM151 187h12v6h-12zM169 193h6v6h-6zM181 199h6v6h-6zM193 205h6v6h-6zM205 211h12v6h-12zM223 217h6v6h-6zM235 223h6v6h-6zM247 229h6v6h-6zM259 235h6v6h-6zM265 241h6v6h-6zM277 247h6v6h-6zM283 253h6v6h-6zM289 259h6v6h-6zM295 265h6v6h-6z"/><path fill="#95d840" d="M61 1h6v6h-6zM43 25h6v6h-6zM43 73h6v6h-6zM49 91h6v6h-6zM55 103h6v6h-6zM67 121h6v6h-6zM109 163h6v6h-6zM115 169h6v6h-6zM127 175h6v6h-6zM139 181h6v6h-6zM145 187h6v6h-6zM157 193h12v6h-12zM175 199h6v6h-6zM187 205h6v6h-6zM199 211h6v6h-6zM211 217h12v6h-12zM229 223h6v6h-6zM241 229h6v6h-6zM253 235h6v6h-6zM259 241h6v6h-6zM271 247h6v6h-6zM277 253h6v6h-6zM283 259h6v6h-6zM289 265h6v6h-6z"/><path fill="#9dd93b" d="M61 -5h6v6h-6zM37 43h6v6h-6zM37 49h6v6h-6zM37 55h6v6h-6zM43 79h6v6h-6zM49 97h6v6h-6zM55 109h6v6h-6zM61 115h6v6h-6zM67 127h6v6h-6zM73 133h6v6h-6zM79 139h6v6h-6zM85 145h6v6h-6zM91 151h6v6h-6zM97 157h6v6h-6zM103 163h6v6h-6zM121 175h6v6h-6zM133 181h6v6h-6zM139 187h6v6h-6zM151 193h6v6h-6zM163 199h12v6h-12zM181 205h6v6h-6zM193 211h6v6h-6zM205 217h6v6h-6zM217 223h12v6h-12zM229 229h12v6h-12zM241 235h12v6h-12zM253 241h6v6h-6zM265 247h6v6h-6zM271 253h6v6h-6zM277 259h6v6h-6zM283 265h6v6h-6z"/><path fill="#a2da37" d="M55 7h6v6h-6zM37 37h6v6h-6zM37 61h6v6h-6zM37 67h6v6h-6zM43 85h6v6h-6zM49 103h6v6h-6zM61 121h6v6h-6zM73 139h6v6h-6zM79 145h6v6h-6zM85 151h6v6h-6zM91 157h6v6h-6zM109 169h6v6h-6zM115 175h6v6h-6zM127 181h6v6h-6zM133 187h6v6h-6zM145 193h6v6h-6zM157 199h6v6h-6zM169 205h12v6h-12zM187 211h6v6h-6zM199 217h6v6h-6zM211 223h6v6h-6zM223 229h6v6h-6zM235 235h6v6h-6zM247 241h6v6h-6zM259 247h6v6h-6zM265 253h6v6h-6zM271 259h6v6h-6zM277 265h6v6h-6z"/><path fill="#aadc32" d="M55 1h6v6h-6zM49 13h6v6h-6zM43 19h6v6h-6zM37 31h6v6h-6zM37 73h6v6h-6zM37 79h6v6h-6zM43 91h6v6h-6zM55 115h6v6h-6zM61 127h6v6h-6zM67 133h6v6h-6zM97 163h6v6h-6zM103 169h6v6h-6zM109 175h6v6h-6zM121 181h6v6h-6zM139 193h6v6h-6zM151 199h6v6h-6zM163 205h6v6h-6zM175 211h12v6h-12zM187 217h12v6h-12zM205 223h6v6h-6zM217 229h6v6h-6zM229 235h6v6h-6zM241 241h6v6h-6zM253 247h6v6h-6zM259 253h6v6h-6zM265 259h6v6h-6z"/><path fill="#b2dd2d" d="M55 -5h6v6h-6zM37 85h6v6h-6zM43 97h6v6h-6zM49 109h6v6h-6zM55 121h6v6h-6zM67 139h6v6h-6zM73 145h6v6h-6zM79 151h6v6h-6zM85 157h6v6h-6zM91 163h6v6h-6zM97 169h6v6h-6zM115 181h6v6h-6zM127 187h6v6h-6zM133 193h6v6h-6zM145 199h6v6h-6zM157 205h6v6h-6zM169 211h6v6h-6zM181 217h6v6h-6zM193 223h12v6h-12zM211 229h6v6h-6zM223 235h6v6h-6zM235 241h6v6h-6zM241 247h12v6h-12zM253 253h6v6h-6zM259 259h6v6h-6zM271 265h6v6h-6z"/><path fill="#bade28" d="M49 7h6v6h-6zM37 25h6v6h-6zM37 91h6v6h-6zM43 103h6v6h-6zM49 115h6v6h-6zM55 127h6v6h-6zM61 133h6v6h-6zM103 175h6v6h-6zM109 181h6v6h-6zM121 187h6v6h-6zM127 193h6v6h-6zM139 199h6v6h-6zM151 205h6v6h-6zM163 211h6v6h-6zM175 217h6v6h-6zM187 223h6v6h-6zM199 229h12v6h-12zM211 235h12v6h-12zM223 241h12v6h-12zM235 247h6v6h-6zM247 253h6v6h-6zM253 259h6v6h-6zM265 265h6v6h-6z"/><path fill="#c0df25" d="M49 1h6v6h-6zM43 13h6v6h-6zM37 97h6v6h-6zM43 109h6v6h-6zM49 121h6v6h-6zM61 139h6v6h-6zM67 145h6v6h-6zM73 151h6v6h-6zM79 157h6v6h-6zM85 163h6v6h-6zM91 169h6v6h-6zM97 175h6v6h-6zM115 187h6v6h-6zM133 199h6v6h-6zM145 205h6v6h-6zM157 211h6v6h-6zM169 217h6v6h-6zM181 223h6v6h-6zM193 229h6v6h-6zM205 235h6v6h-6zM217 241h6v6h-6zM229 247h6v6h-6zM241 253h6v6h-6zM247 259h6v6h-6zM259 265h6v6h-6z"/><path fill="#c8e020" d="M49 -5h6v6h-6zM37 103h6v6h-6zM43 115h6v6h-6zM49 127h6v6h-6zM55 133h6v6h-6zM67 151h6v6h-6zM73 157h6v6h-6zM79 163h6v6h-6zM85 169h6v6h-6zM103 181h6v6h-6zM109 187h6v6h-6zM121 193h6v6h-6zM127 199h6v6h-6zM139 205h6v6h-6zM151 211h6v6h-6zM163 217h6v6h-6zM175 223h6v6h-6zM187 229h6v6h-6zM199 235h6v6h-6zM211 241h6v6h-6zM223 247h6v6h-6zM235 253h6v6h-6zM241 259h6v6h-6zM253 265h6v6h-6z"/><path fill="#d0e11c" d="M43 7h6v6h-6zM37 19h6v6h-6zM37 109h6v6h-6zM43 121h6v6h-6zM55 139h6v6h-6zM61 145h6v6h-6zM91 175h6v6h-6zM97 181h6v6h-6zM103 187h6v6h-6zM115 193h6v6h-6zM121 199h6v6h-6zM133 205h6v6h-6zM145 211h6v6h-6zM157 217h6v6h-6zM169 223h6v6h-6zM181 229h6v6h-6zM193 235h6v6h-6zM205 241h6v6h-6zM217 247h6v6h-6zM223 253h12v6h-12zM235 259h6v6h-6zM247 265h6v6h-6z"/><path fill="#d5e21a" d="M37 115h6v6h-6zM49 133h6v6h-6zM61 151h6v6h-6zM67 157h6v6h-6zM73 163h6v6h-6zM79 169h6v6h-6zM85 175h6v6h-6zM91 181h6v6h-6zM109 193h6v6h-6zM127 205h6v6h-6zM139 211h6v6h-6zM151 217h6v6h-6zM163 223h6v6h-6zM175 229h6v6h-6zM187 235h6v6h-6zM199 241h6v6h-6zM205 247h12v6h-12zM217 253h6v6h-6zM229 259h6v6h-6zM241 265h6v6h-6z"/><path fill="#dde318" d="M43 1h6v6h-6zM37 13h6v6h-6zM37 121h6v6h-6zM43 127h6v6h-6zM49 139h6v6h-6zM55 145h6v6h-6zM97 187h6v6h-6zM103 193h6v6h-6zM115 199h6v6h-6zM121 205h6v6h-6zM133 211h6v6h-6zM145 217h6v6h-6zM151 223h12v6h-12zM163 229h12v6h-12zM175 235h12v6h-12zM187 241h12v6h-12zM199 247h6v6h-6zM211 253h6v6h-6zM223 259h6v6h-6zM229 265h12v6h-12z"/><path fill="#e5e419" d="M43 -5h6v6h-6zM43 133h6v6h-6zM55 151h6v6h-6zM61 157h6v6h-6zM67 163h6v6h-6zM73 169h6v6h-6zM79 175h6v6h-6zM85 181h6v6h-6zM91 187h6v6h-6zM109 199h6v6h-6zM115 205h6v6h-6zM127 211h6v6h-6zM139 217h6v6h-6zM145 223h6v6h-6zM157 229h6v6h-6zM169 235h6v6h-6zM181 241h6v6h-6zM193 247h6v6h-6zM205 253h6v6h-6zM217 259h6v6h-6zM223 265h6v6h-6z"/><path fill="#eae51a" d="M37 7h6v6h-6zM37 127h6v6h-6zM43 139h6v6h-6zM49 145h6v6h-6zM61 163h6v6h-6zM67 169h6v6h-6zM73 175h6v6h-6zM79 181h6v6h-6zM97 193h6v6h-6zM103 199h6v6h-6zM121 211h6v6h-6zM133 217h6v6h-6zM139 223h6v6h-6zM151 229h6v6h-6zM163 235h6v6h-6zM175 241h6v6h-6zM187 247h6v6h-6zM199 253h6v6h-6zM211 259h6v6h-6zM217 265h6v6h-6z"/><path fill="#f1e51d" d="M37 1h6v6h-6zM37 133h6v6h-6zM49 151h6v6h-6zM55 157h6v6h-6zM85 187h6v6h-6zM91 193h6v6h-6zM97 199h6v6h-6zM109 205h6v6h-6zM115 211h6v6h-6zM127 217h6v6h-6zM133 223h6v6h-6zM145 229h6v6h-6zM157 235h6v6h-6zM169 241h6v6h-6zM181 247h6v6h-6zM193 253h6v6h-6zM199 259h12v6h-12zM211 265h6v6h-6z"/><path fill="#f8e621" d="M37 -5h6v6h-6zM37 139h6v6h-6zM43 145h6v6h-6zM55 163h6v6h-6zM61 169h6v6h-6zM67 175h6v6h-6zM73 181h6v6h-6zM79 187h6v6h-6zM85 193h6v6h-6zM103 205h6v6h-6zM109 211h6v6h-6zM121 217h6v6h-6zM139 229h6v6h-6zM151 235h6v6h-6zM163 241h6v6h-6zM175 247h6v6h-6zM181 253h12v6h-12zM193 259h6v6h-6zM205 265h6v6h-6z"/><path fill="#fde725" d="M37 145h6v6h-6zM37 151h12v6h-12zM37 157h18v6h-18zM37 163h18v6h-18zM37 169h24v6h-24zM37 175h30v6h-30zM37 181h36v6h-36zM37 187h42v6h-42zM37 193h48v6h-48zM37 199h60v6h-60zM37 205h66v6h-66zM37 211h72v6h-72zM37 217h84v6h-84zM37 223h96v6h-96zM37 229h102v6h-102zM37 235h114v6h-114zM37 241h126v6h-126zM37 247h138v6h-138zM37 253h144v6h-144zM37 259h156v6h-156zM37 265h168v6h-168z"/></g><rect x="43" y="1" width="316" height="256" fill="#fff" opacity="0.08"/></g>
<g clip-path="url(#ra)"><line x1="46.0" y1="1.0" x2="359.0" y2="256.0" stroke="#cc2020" stroke-width="2" stroke-dasharray="3.0 3.4" stroke-linecap="round" opacity="0.92"/><line x1="121.5" y1="1.0" x2="360.0" y2="188.0" stroke="#cc2020" stroke-width="2" stroke-dasharray="3.0 3.4" stroke-linecap="round" opacity="0.92"/><line x1="199.0" y1="2.0" x2="360.0" y2="118.0" stroke="#cc2020" stroke-width="2" stroke-dasharray="3.0 3.4" stroke-linecap="round" opacity="0.92"/><polyline points="62.6,1.2 59.0,10.7 53.7,17.8 46.6,24.9" fill="none" stroke="#000" stroke-width="2" stroke-linejoin="round" stroke-linecap="butt"/><polyline points="92.0,1.2 91.3,5.0" fill="none" stroke="#000" stroke-width="2" stroke-linejoin="round" stroke-linecap="butt"/><polyline points="83.3,47.5 83.6,54.0" fill="none" stroke="#000" stroke-width="2" stroke-linejoin="round" stroke-linecap="butt"/><polyline points="116.0,1.2 117.0,17.8 118.7,35.6 121.4,53.5 125.5,66.0 130.0,75.3 139.0,87.3 149.6,97.9 163.1,108.4" fill="none" stroke="#000" stroke-width="2" stroke-linejoin="round" stroke-linecap="butt"/><polyline points="205.3,130.7 221.4,138.7 230.0,144.0 262.9,158.9 295.7,170.4 315.5,178.6 336.8,185.2 360.0,187.7" fill="none" stroke="#000" stroke-width="2" stroke-linejoin="round" stroke-linecap="butt"/><polyline points="287.3,203.7 300.0,212.0 321.2,228.7" fill="none" stroke="#000" stroke-width="2" stroke-linejoin="round" stroke-linecap="butt"/><polyline points="143.6,1.2 148.1,19.6 155.6,37.7 164.6,52.7 179.7,67.8 197.8,81.3 214.3,93.4 230.0,106.3 249.7,114.5 269.4,124.4 271.4,125.3" fill="none" stroke="#000" stroke-width="2" stroke-linejoin="round" stroke-linecap="butt"/><polyline points="314.0,141.4 333.6,145.0 360.0,148.5" fill="none" stroke="#000" stroke-width="2" stroke-linejoin="round" stroke-linecap="butt"/><polyline points="185.9,1.2 189.0,13.7" fill="none" stroke="#000" stroke-width="2" stroke-linejoin="round" stroke-linecap="butt"/><polyline points="221.4,43.7 235.6,48.1 252.0,58.0 262.0,71.5 280.2,85.0 295.7,91.5 320.4,101.4 360.0,116.8" fill="none" stroke="#000" stroke-width="2" stroke-linejoin="round" stroke-linecap="butt"/><polyline points="248.1,6.2 262.0,16.0 269.5,23.2" fill="none" stroke="#000" stroke-width="2" stroke-linejoin="round" stroke-linecap="butt"/><polyline points="308.7,57.0 325.0,65.0 339.0,73.0" fill="none" stroke="#000" stroke-width="2" stroke-linejoin="round" stroke-linecap="butt"/><text x="0" y="0" font-size="18" text-anchor="middle" dominant-baseline="central" stroke="#000" stroke-width="0.3" transform="translate(84.9 26.7) rotate(-81) scale(1.06 1)">0.48</text><text x="0" y="0" font-size="18" text-anchor="middle" dominant-baseline="central" stroke="#000" stroke-width="0.3" transform="translate(184 117) rotate(28) scale(1.06 1)">0.42</text><text x="0" y="0" font-size="18" text-anchor="middle" dominant-baseline="central" stroke="#000" stroke-width="0.3" transform="translate(293.5 132.3) rotate(20) scale(1.06 1)">0.36</text><text x="0" y="0" font-size="18" text-anchor="middle" dominant-baseline="central" stroke="#000" stroke-width="0.3" transform="translate(203 30) rotate(43) scale(1.06 1)">0.30</text><text x="0" y="0" font-size="18" text-anchor="middle" dominant-baseline="central" stroke="#000" stroke-width="0.3" transform="translate(290 41.9) rotate(41) scale(1.06 1)">0.24</text></g>
<rect x="43.5" y="1.5" width="315.8" height="255.9" fill="none" stroke="#000" stroke-width="1.15"/>
<line x1="59.6" y1="257.4" x2="59.6" y2="261.4" stroke="#000" stroke-width="1"/><text x="0" y="0" font-size="19.5" text-anchor="middle" stroke="#000" stroke-width="0.25" transform="translate(59.6 280.4) scale(1.1 1)">1</text><line x1="110.3" y1="257.4" x2="110.3" y2="261.4" stroke="#000" stroke-width="1"/><text x="0" y="0" font-size="19.5" text-anchor="middle" stroke="#000" stroke-width="0.25" transform="translate(110.3 280.4) scale(1.1 1)">2</text><line x1="161.0" y1="257.4" x2="161.0" y2="261.4" stroke="#000" stroke-width="1"/><text x="0" y="0" font-size="19.5" text-anchor="middle" stroke="#000" stroke-width="0.25" transform="translate(161.0 280.4) scale(1.1 1)">3</text><line x1="211.7" y1="257.4" x2="211.7" y2="261.4" stroke="#000" stroke-width="1"/><text x="0" y="0" font-size="19.5" text-anchor="middle" stroke="#000" stroke-width="0.25" transform="translate(211.7 280.4) scale(1.1 1)">4</text><line x1="262.4" y1="257.4" x2="262.4" y2="261.4" stroke="#000" stroke-width="1"/><text x="0" y="0" font-size="19.5" text-anchor="middle" stroke="#000" stroke-width="0.25" transform="translate(262.4 280.4) scale(1.1 1)">5</text><line x1="313.1" y1="257.4" x2="313.1" y2="261.4" stroke="#000" stroke-width="1"/><text x="0" y="0" font-size="19.5" text-anchor="middle" stroke="#000" stroke-width="0.25" transform="translate(313.1 280.4) scale(1.1 1)">6</text><line x1="39" y1="257.4" x2="43" y2="257.4" stroke="#000" stroke-width="1"/><text x="0" y="0" font-size="19.5" text-anchor="end" stroke="#000" stroke-width="0.25" transform="translate(36.4 264.8) scale(1.1 1)">0</text><line x1="39" y1="220.4" x2="43" y2="220.4" stroke="#000" stroke-width="1"/><text x="0" y="0" font-size="19.5" text-anchor="end" stroke="#000" stroke-width="0.25" transform="translate(36.4 227.8) scale(1.1 1)">1</text><line x1="39" y1="183.4" x2="43" y2="183.4" stroke="#000" stroke-width="1"/><text x="0" y="0" font-size="19.5" text-anchor="end" stroke="#000" stroke-width="0.25" transform="translate(36.4 190.8) scale(1.1 1)">2</text><line x1="39" y1="146.4" x2="43" y2="146.4" stroke="#000" stroke-width="1"/><text x="0" y="0" font-size="19.5" text-anchor="end" stroke="#000" stroke-width="0.25" transform="translate(36.4 153.8) scale(1.1 1)">3</text><line x1="39" y1="109.4" x2="43" y2="109.4" stroke="#000" stroke-width="1"/><text x="0" y="0" font-size="19.5" text-anchor="end" stroke="#000" stroke-width="0.25" transform="translate(36.4 116.8) scale(1.1 1)">4</text><line x1="39" y1="72.4" x2="43" y2="72.4" stroke="#000" stroke-width="1"/><text x="0" y="0" font-size="19.5" text-anchor="end" stroke="#000" stroke-width="0.25" transform="translate(36.4 79.8) scale(1.1 1)">5</text><line x1="39" y1="35.4" x2="43" y2="35.4" stroke="#000" stroke-width="1"/><text x="0" y="0" font-size="19.5" text-anchor="end" stroke="#000" stroke-width="0.25" transform="translate(36.4 42.8) scale(1.1 1)">6</text><text x="0" y="0" font-size="19.5" text-anchor="middle" stroke="#000" stroke-width="0.25" transform="translate(201.5 302.0) scale(1.1 1)">log(<tspan font-style="italic">K</tspan>)</text><text x="0" y="0" font-size="19.5" text-anchor="middle" stroke="#000" stroke-width="0.25" transform="translate(14.5 129.7) rotate(-90) scale(1.1 1)">log(<tspan font-style="italic">n</tspan>)</text><text class="cap" x="180" y="353" font-size="26.8" text-anchor="middle">(a) CIFAR10</text>
<g clip-path="url(#db)"><g filter="url(#bl)"><path fill="#440154" d="M677 -5h78v6h-78zM683 1h72v6h-72zM683 7h72v6h-72zM689 13h66v6h-66zM695 19h60v6h-60zM701 25h54v6h-54zM707 31h48v6h-48zM713 37h42v6h-42zM725 43h30v6h-30zM737 49h18v6h-18zM749 55h6v6h-6z"/><path fill="#450457" d="M677 1h6v6h-6zM689 19h6v6h-6zM695 25h6v6h-6zM701 31h6v6h-6zM719 43h6v6h-6zM731 49h6v6h-6zM743 55h6v6h-6z"/><path fill="#46085c" d="M671 -5h6v6h-6zM677 7h6v6h-6zM683 13h6v6h-6zM707 37h6v6h-6zM713 43h6v6h-6zM725 49h6v6h-6zM737 55h6v6h-6zM749 61h6v6h-6z"/><path fill="#470d60" d="M665 -5h6v6h-6zM671 1h6v6h-6zM677 13h6v6h-6zM683 19h6v6h-6zM689 25h6v6h-6zM695 31h6v6h-6zM701 37h6v6h-6zM707 43h6v6h-6zM719 49h6v6h-6zM731 55h6v6h-6zM743 61h6v6h-6z"/><path fill="#471063" d="M665 1h6v6h-6zM671 7h6v6h-6zM677 19h6v6h-6zM683 25h6v6h-6zM689 31h6v6h-6zM695 37h6v6h-6zM713 49h6v6h-6zM725 55h6v6h-6zM737 61h6v6h-6zM749 67h6v6h-6z"/><path fill="#481467" d="M659 -5h6v6h-6zM671 13h6v6h-6zM701 43h6v6h-6zM707 49h6v6h-6zM719 55h6v6h-6zM731 61h6v6h-6zM743 67h6v6h-6z"/><path fill="#48186a" d="M659 1h6v6h-6zM665 7h6v6h-6zM671 19h6v6h-6zM677 25h6v6h-6zM683 31h6v6h-6zM689 37h6v6h-6zM695 43h6v6h-6zM701 49h6v6h-6zM713 55h6v6h-6zM725 61h6v6h-6zM737 67h6v6h-6z"/><path fill="#481b6d" d="M653 -5h6v6h-6zM659 7h6v6h-6zM665 13h6v6h-6zM671 25h6v6h-6zM677 31h6v6h-6zM683 37h6v6h-6zM689 43h6v6h-6zM707 55h6v6h-6zM719 61h6v6h-6zM731 67h6v6h-6zM743 73h12v6h-12z"/><path fill="#481f70" d="M653 1h6v6h-6zM665 19h6v6h-6zM695 49h6v6h-6zM701 55h6v6h-6zM713 61h6v6h-6zM725 67h6v6h-6zM737 73h6v6h-6z"/><path fill="#482374" d="M647 -5h6v6h-6zM653 7h6v6h-6zM659 13h6v6h-6zM665 25h6v6h-6zM671 31h6v6h-6zM677 37h6v6h-6zM683 43h6v6h-6zM689 49h6v6h-6zM707 61h6v6h-6zM719 67h6v6h-6zM749 79h6v6h-6z"/><path fill="#482576" d="M647 1h6v6h-6zM659 19h6v6h-6zM665 31h6v6h-6zM671 37h6v6h-6zM677 43h6v6h-6zM683 49h6v6h-6zM695 55h6v6h-6zM701 61h6v6h-6zM713 67h6v6h-6zM731 73h6v6h-6zM743 79h6v6h-6z"/><path fill="#482979" d="M641 -5h6v6h-6zM647 7h6v6h-6zM653 13h6v6h-6zM659 25h6v6h-6zM689 55h6v6h-6zM707 67h6v6h-6zM725 73h6v6h-6zM737 79h6v6h-6z"/><path fill="#472d7b" d="M641 1h6v6h-6zM653 19h6v6h-6zM659 31h6v6h-6zM665 37h6v6h-6zM671 43h6v6h-6zM677 49h6v6h-6zM683 55h6v6h-6zM695 61h6v6h-6zM701 67h6v6h-6zM713 73h12v6h-12zM731 79h6v6h-6zM749 85h6v6h-6z"/><path fill="#46307e" d="M635 -5h6v6h-6zM641 7h6v6h-6zM647 13h6v6h-6zM653 25h6v6h-6zM665 43h6v6h-6zM671 49h6v6h-6zM689 61h6v6h-6zM707 73h6v6h-6zM725 79h6v6h-6zM743 85h6v6h-6z"/><path fill="#46337f" d="M635 1h6v6h-6zM647 19h6v6h-6zM653 31h6v6h-6zM659 37h6v6h-6zM677 55h6v6h-6zM683 61h6v6h-6zM695 67h6v6h-6zM701 73h6v6h-6zM719 79h6v6h-6zM737 85h6v6h-6zM749 91h6v6h-6z"/><path fill="#453781" d="M641 13h6v6h-6zM647 25h6v6h-6zM653 37h6v6h-6zM659 43h6v6h-6zM665 49h6v6h-6zM671 55h6v6h-6zM689 67h6v6h-6zM713 79h6v6h-6zM731 85h6v6h-6zM743 91h6v6h-6z"/><path fill="#443a83" d="M629 -5h6v6h-6zM635 7h6v6h-6zM641 19h6v6h-6zM647 31h6v6h-6zM677 61h6v6h-6zM683 67h6v6h-6zM695 73h6v6h-6zM707 79h6v6h-6zM725 85h6v6h-6zM737 91h6v6h-6z"/><path fill="#433d84" d="M629 1h6v6h-6zM635 13h6v6h-6zM641 25h6v6h-6zM647 37h6v6h-6zM653 43h6v6h-6zM659 49h6v6h-6zM665 55h6v6h-6zM671 61h6v6h-6zM689 73h6v6h-6zM701 79h6v6h-6zM719 85h6v6h-6z"/><path fill="#424086" d="M623 -5h6v6h-6zM629 7h6v6h-6zM635 19h6v6h-6zM641 31h6v6h-6zM653 49h6v6h-6zM659 55h6v6h-6zM665 61h6v6h-6zM677 67h6v6h-6zM695 79h6v6h-6zM713 85h6v6h-6zM731 91h6v6h-6zM743 97h12v6h-12z"/><path fill="#414487" d="M623 1h6v6h-6zM629 13h6v6h-6zM635 25h6v6h-6zM647 43h6v6h-6zM671 67h6v6h-6zM683 73h6v6h-6zM701 85h12v6h-12zM725 91h6v6h-6zM737 97h6v6h-6z"/><path fill="#404688" d="M617 -5h6v6h-6zM623 7h6v6h-6zM629 19h6v6h-6zM635 31h6v6h-6zM641 37h6v6h-6zM647 49h6v6h-6zM653 55h6v6h-6zM659 61h6v6h-6zM665 67h6v6h-6zM677 73h6v6h-6zM689 79h6v6h-6zM719 91h6v6h-6zM731 97h6v6h-6z"/><path fill="#3e4989" d="M617 1h6v6h-6zM623 13h6v6h-6zM629 25h6v6h-6zM641 43h6v6h-6zM671 73h6v6h-6zM683 79h6v6h-6zM695 85h6v6h-6zM713 91h6v6h-6zM749 103h6v6h-6z"/><path fill="#3d4d8a" d="M611 -5h6v6h-6zM617 7h6v6h-6zM623 19h6v6h-6zM635 37h6v6h-6zM641 49h6v6h-6zM647 55h6v6h-6zM653 61h6v6h-6zM659 67h6v6h-6zM677 79h6v6h-6zM689 85h6v6h-6zM707 91h6v6h-6zM725 97h6v6h-6zM743 103h6v6h-6z"/><path fill="#3c4f8a" d="M611 1h6v6h-6zM617 13h6v6h-6zM623 25h6v6h-6zM629 31h6v6h-6zM635 43h6v6h-6zM647 61h6v6h-6zM653 67h6v6h-6zM665 73h6v6h-6zM671 79h6v6h-6zM683 85h6v6h-6zM701 91h6v6h-6zM719 97h6v6h-6zM737 103h6v6h-6z"/><path fill="#3b528b" d="M605 -5h6v6h-6zM611 7h6v6h-6zM617 19h6v6h-6zM629 37h6v6h-6zM641 55h6v6h-6zM659 73h6v6h-6zM695 91h6v6h-6zM713 97h6v6h-6zM731 103h6v6h-6z"/><path fill="#39558c" d="M605 1h6v6h-6zM611 13h6v6h-6zM623 31h6v6h-6zM629 43h6v6h-6zM635 49h6v6h-6zM647 67h6v6h-6zM653 73h6v6h-6zM665 79h6v6h-6zM677 85h6v6h-6zM689 91h6v6h-6zM707 97h6v6h-6zM725 103h6v6h-6zM743 109h12v6h-12z"/><path fill="#38598c" d="M599 -5h6v6h-6zM605 7h6v6h-6zM611 19h6v6h-6zM617 25h6v6h-6zM623 37h6v6h-6zM635 55h6v6h-6zM641 61h6v6h-6zM659 79h6v6h-6zM671 85h6v6h-6zM683 91h6v6h-6zM701 97h6v6h-6zM719 103h6v6h-6zM737 109h6v6h-6z"/><path fill="#375b8d" d="M599 1h6v6h-6zM605 13h6v6h-6zM617 31h6v6h-6zM629 49h6v6h-6zM641 67h6v6h-6zM647 73h6v6h-6zM665 85h6v6h-6zM695 97h6v6h-6zM713 103h6v6h-6zM731 109h6v6h-6z"/><path fill="#355e8d" d="M599 7h6v6h-6zM605 19h6v6h-6zM611 25h6v6h-6zM617 37h6v6h-6zM623 43h6v6h-6zM629 55h6v6h-6zM635 61h6v6h-6zM653 79h6v6h-6zM677 91h6v6h-6zM689 97h6v6h-6zM707 103h6v6h-6zM725 109h6v6h-6zM749 115h6v6h-6z"/><path fill="#34618d" d="M593 -5h6v6h-6zM593 1h6v6h-6zM599 13h6v6h-6zM611 31h6v6h-6zM623 49h6v6h-6zM635 67h6v6h-6zM641 73h6v6h-6zM647 79h6v6h-6zM659 85h6v6h-6zM671 91h6v6h-6zM683 97h6v6h-6zM701 103h6v6h-6zM719 109h6v6h-6zM743 115h6v6h-6z"/><path fill="#33638d" d="M593 7h6v6h-6zM599 19h6v6h-6zM605 25h6v6h-6zM611 37h6v6h-6zM617 43h6v6h-6zM629 61h6v6h-6zM653 85h6v6h-6zM665 91h6v6h-6zM695 103h6v6h-6zM713 109h6v6h-6zM737 115h6v6h-6z"/><path fill="#31668e" d="M587 -5h6v6h-6zM587 1h6v6h-6zM593 13h6v6h-6zM605 31h6v6h-6zM617 49h6v6h-6zM623 55h6v6h-6zM635 73h6v6h-6zM641 79h6v6h-6zM647 85h6v6h-6zM659 91h6v6h-6zM677 97h6v6h-6zM731 115h6v6h-6z"/><path fill="#30698e" d="M587 7h6v6h-6zM593 19h6v6h-6zM599 25h6v6h-6zM605 37h6v6h-6zM611 43h6v6h-6zM623 61h6v6h-6zM629 67h6v6h-6zM671 97h6v6h-6zM689 103h6v6h-6zM707 109h6v6h-6zM725 115h6v6h-6z"/><path fill="#2f6b8e" d="M581 -5h6v6h-6zM581 1h6v6h-6zM587 13h6v6h-6zM593 25h6v6h-6zM599 31h6v6h-6zM611 49h6v6h-6zM617 55h6v6h-6zM629 73h6v6h-6zM635 79h6v6h-6zM641 85h6v6h-6zM653 91h6v6h-6zM665 97h6v6h-6zM683 103h6v6h-6zM701 109h6v6h-6zM719 115h6v6h-6zM743 121h12v6h-12z"/><path fill="#2e6e8e" d="M581 7h6v6h-6zM581 13h6v6h-6zM587 19h6v6h-6zM593 31h6v6h-6zM599 37h6v6h-6zM605 43h6v6h-6zM617 61h6v6h-6zM623 67h6v6h-6zM629 79h6v6h-6zM647 91h6v6h-6zM659 97h6v6h-6zM677 103h6v6h-6zM695 109h6v6h-6zM713 115h6v6h-6zM737 121h6v6h-6z"/><path fill="#2d718e" d="M575 -5h6v6h-6zM575 1h6v6h-6zM581 19h6v6h-6zM587 25h6v6h-6zM593 37h6v6h-6zM599 43h6v6h-6zM605 49h6v6h-6zM611 55h6v6h-6zM623 73h6v6h-6zM635 85h6v6h-6zM671 103h6v6h-6zM689 109h6v6h-6zM707 115h6v6h-6zM731 121h6v6h-6z"/><path fill="#2c738e" d="M575 7h6v6h-6zM575 13h6v6h-6zM581 25h6v6h-6zM587 31h6v6h-6zM599 49h6v6h-6zM605 55h6v6h-6zM611 61h6v6h-6zM617 67h6v6h-6zM629 85h6v6h-6zM641 91h6v6h-6zM653 97h6v6h-6zM701 115h6v6h-6zM725 121h6v6h-6z"/><path fill="#2b758e" d="M569 -5h6v6h-6zM569 1h6v6h-6zM569 7h6v6h-6zM575 19h6v6h-6zM581 31h6v6h-6zM587 37h6v6h-6zM593 43h6v6h-6zM611 67h6v6h-6zM617 73h6v6h-6zM623 79h6v6h-6zM635 91h6v6h-6zM647 97h6v6h-6zM665 103h6v6h-6zM683 109h6v6h-6zM719 121h6v6h-6zM749 127h6v6h-6z"/><path fill="#2a788e" d="M569 13h6v6h-6zM569 19h6v6h-6zM575 25h6v6h-6zM581 37h6v6h-6zM587 43h6v6h-6zM593 49h6v6h-6zM599 55h6v6h-6zM605 61h6v6h-6zM659 103h6v6h-6zM677 109h6v6h-6zM695 115h6v6h-6zM713 121h6v6h-6zM737 127h12v6h-12z"/><path fill="#297b8e" d="M563 -5h6v6h-6zM563 1h6v6h-6zM563 7h6v6h-6zM569 25h6v6h-6zM575 31h6v6h-6zM581 43h6v6h-6zM587 49h6v6h-6zM593 55h6v6h-6zM599 61h6v6h-6zM605 67h6v6h-6zM611 73h6v6h-6zM617 79h6v6h-6zM623 85h6v6h-6zM629 91h6v6h-6zM641 97h6v6h-6zM653 103h6v6h-6zM671 109h6v6h-6zM689 115h6v6h-6zM707 121h6v6h-6zM731 127h6v6h-6z"/><path fill="#287d8e" d="M563 13h6v6h-6zM563 19h6v6h-6zM569 31h6v6h-6zM575 37h6v6h-6zM581 49h6v6h-6zM587 55h6v6h-6zM593 61h6v6h-6zM599 67h6v6h-6zM605 73h6v6h-6zM611 79h6v6h-6zM635 97h6v6h-6zM665 109h6v6h-6zM683 115h6v6h-6zM701 121h6v6h-6zM725 127h6v6h-6z"/><path fill="#27808e" d="M557 -5h6v6h-6zM557 1h6v6h-6zM557 7h6v6h-6zM557 13h6v6h-6zM563 25h6v6h-6zM569 37h6v6h-6zM575 43h6v6h-6zM617 85h6v6h-6zM623 91h6v6h-6zM647 103h6v6h-6zM659 109h6v6h-6zM695 121h6v6h-6zM713 127h12v6h-12z"/><path fill="#26828e" d="M557 19h6v6h-6zM557 25h6v6h-6zM563 31h6v6h-6zM563 37h6v6h-6zM569 43h6v6h-6zM575 49h6v6h-6zM581 55h6v6h-6zM587 61h6v6h-6zM593 67h6v6h-6zM599 73h6v6h-6zM605 79h6v6h-6zM611 85h6v6h-6zM629 97h6v6h-6zM641 103h6v6h-6zM677 115h6v6h-6zM689 121h6v6h-6zM707 127h6v6h-6zM749 133h6v6h-6z"/><path fill="#25848e" d="M551 -5h6v6h-6zM551 1h6v6h-6zM551 7h6v6h-6zM551 13h6v6h-6zM557 31h6v6h-6zM563 43h6v6h-6zM569 49h6v6h-6zM575 55h6v6h-6zM581 61h6v6h-6zM587 67h6v6h-6zM593 73h6v6h-6zM599 79h6v6h-6zM617 91h6v6h-6zM653 109h6v6h-6zM671 115h6v6h-6zM701 127h6v6h-6zM737 133h12v6h-12z"/><path fill="#24878e" d="M551 19h6v6h-6zM551 25h6v6h-6zM557 37h6v6h-6zM569 55h6v6h-6zM575 61h6v6h-6zM581 67h6v6h-6zM587 73h6v6h-6zM605 85h6v6h-6zM611 91h6v6h-6zM623 97h6v6h-6zM635 103h6v6h-6zM647 109h6v6h-6zM665 115h6v6h-6zM683 121h6v6h-6zM725 133h12v6h-12z"/><path fill="#238a8d" d="M545 -5h6v6h-6zM545 1h6v6h-6zM545 7h6v6h-6zM545 13h6v6h-6zM545 19h6v6h-6zM551 31h6v6h-6zM557 43h6v6h-6zM563 49h6v6h-6zM569 61h6v6h-6zM575 67h6v6h-6zM593 79h6v6h-6zM599 85h6v6h-6zM629 103h6v6h-6zM659 115h6v6h-6zM695 127h6v6h-6zM713 133h12v6h-12z"/><path fill="#228c8d" d="M545 25h6v6h-6zM551 37h6v6h-6zM557 49h6v6h-6zM563 55h6v6h-6zM581 73h6v6h-6zM587 79h6v6h-6zM605 91h6v6h-6zM617 97h6v6h-6zM641 109h6v6h-6zM653 115h6v6h-6zM677 121h6v6h-6zM689 127h6v6h-6zM707 133h6v6h-6zM749 139h6v6h-6z"/><path fill="#218f8d" d="M539 1h6v6h-6zM539 7h6v6h-6zM539 13h6v6h-6zM545 31h6v6h-6zM551 43h6v6h-6zM557 55h6v6h-6zM563 61h6v6h-6zM569 67h6v6h-6zM575 73h6v6h-6zM581 79h6v6h-6zM593 85h6v6h-6zM599 91h6v6h-6zM611 97h6v6h-6zM623 103h6v6h-6zM635 109h6v6h-6zM671 121h6v6h-6zM701 133h6v6h-6zM743 139h6v6h-6z"/><path fill="#20928c" d="M539 -5h6v6h-6zM539 19h6v6h-6zM539 25h6v6h-6zM545 37h6v6h-6zM551 49h6v6h-6zM557 61h6v6h-6zM563 67h6v6h-6zM569 73h6v6h-6zM575 79h6v6h-6zM587 85h6v6h-6zM605 97h6v6h-6zM647 115h6v6h-6zM665 121h6v6h-6zM683 127h6v6h-6zM695 133h6v6h-6zM725 139h18v6h-18z"/><path fill="#1f948c" d="M539 31h6v6h-6zM545 43h6v6h-6zM551 55h6v6h-6zM563 73h6v6h-6zM581 85h6v6h-6zM593 91h6v6h-6zM617 103h6v6h-6zM629 109h6v6h-6zM641 115h6v6h-6zM659 121h6v6h-6zM677 127h6v6h-6zM689 133h6v6h-6zM713 139h12v6h-12z"/><path fill="#1f968b" d="M533 -5h6v6h-6zM533 1h6v6h-6zM533 7h6v6h-6zM533 13h6v6h-6zM533 19h6v6h-6zM533 25h6v6h-6zM539 37h6v6h-6zM545 49h6v6h-6zM551 61h6v6h-6zM557 67h6v6h-6zM569 79h6v6h-6zM575 85h6v6h-6zM587 91h6v6h-6zM599 97h6v6h-6zM611 103h6v6h-6zM623 109h6v6h-6zM653 121h6v6h-6zM707 139h6v6h-6zM749 145h6v6h-6z"/><path fill="#1f998a" d="M533 31h6v6h-6zM539 43h6v6h-6zM545 55h6v6h-6zM551 67h6v6h-6zM557 73h6v6h-6zM563 79h6v6h-6zM569 85h6v6h-6zM581 91h6v6h-6zM593 97h6v6h-6zM605 103h6v6h-6zM635 115h6v6h-6zM647 121h6v6h-6zM671 127h6v6h-6zM683 133h6v6h-6zM695 139h12v6h-12zM743 145h6v6h-6z"/><path fill="#1e9c89" d="M527 13h6v6h-6zM533 37h6v6h-6zM539 49h6v6h-6zM545 61h6v6h-6zM557 79h6v6h-6zM587 97h6v6h-6zM599 103h6v6h-6zM617 109h6v6h-6zM629 115h6v6h-6zM665 127h6v6h-6zM731 145h12v6h-12z"/><path fill="#1f9e89" d="M527 -5h6v6h-6zM527 1h6v6h-6zM527 7h6v6h-6zM527 19h6v6h-6zM527 25h6v6h-6zM533 43h6v6h-6zM539 55h6v6h-6zM545 67h6v6h-6zM551 73h6v6h-6zM563 85h6v6h-6zM575 91h6v6h-6zM593 103h6v6h-6zM611 109h6v6h-6zM641 121h6v6h-6zM659 127h6v6h-6zM677 133h6v6h-6zM689 139h6v6h-6zM713 145h18v6h-18z"/><path fill="#1fa188" d="M527 31h6v6h-6zM533 49h6v6h-6zM539 61h6v6h-6zM551 79h6v6h-6zM557 85h6v6h-6zM569 91h6v6h-6zM581 97h6v6h-6zM605 109h6v6h-6zM623 115h6v6h-6zM635 121h6v6h-6zM653 127h6v6h-6zM707 145h6v6h-6zM749 151h6v6h-6z"/><path fill="#20a386" d="M527 37h6v6h-6zM533 55h6v6h-6zM539 67h6v6h-6zM545 73h6v6h-6zM563 91h6v6h-6zM575 97h6v6h-6zM587 103h6v6h-6zM599 109h6v6h-6zM617 115h6v6h-6zM647 127h6v6h-6zM671 133h6v6h-6zM683 139h6v6h-6zM695 145h12v6h-12zM743 151h6v6h-6z"/><path fill="#21a585" d="M521 1h6v6h-6zM521 7h6v6h-6zM521 13h6v6h-6zM521 19h6v6h-6zM521 25h6v6h-6zM527 43h6v6h-6zM545 79h6v6h-6zM551 85h6v6h-6zM557 91h6v6h-6zM569 97h6v6h-6zM581 103h6v6h-6zM593 109h6v6h-6zM611 115h6v6h-6zM629 121h6v6h-6zM641 127h6v6h-6zM665 133h6v6h-6zM677 139h6v6h-6zM725 151h18v6h-18zM749 157h6v6h-6z"/><path fill="#22a884" d="M521 -5h6v6h-6zM521 31h6v6h-6zM527 49h6v6h-6zM533 61h6v6h-6zM539 73h6v6h-6zM563 97h6v6h-6zM575 103h6v6h-6zM587 109h6v6h-6zM605 115h6v6h-6zM623 121h6v6h-6zM659 133h6v6h-6zM689 145h6v6h-6zM713 151h12v6h-12z"/><path fill="#25ab82" d="M521 37h6v6h-6zM527 55h6v6h-6zM533 67h6v6h-6zM539 79h6v6h-6zM545 85h6v6h-6zM551 91h6v6h-6zM599 115h6v6h-6zM617 121h6v6h-6zM635 127h6v6h-6zM653 133h6v6h-6zM671 139h6v6h-6zM683 145h6v6h-6zM701 151h12v6h-12zM743 157h6v6h-6z"/><path fill="#26ad81" d="M515 7h6v6h-6zM515 13h6v6h-6zM515 19h6v6h-6zM515 25h6v6h-6zM521 43h6v6h-6zM527 61h6v6h-6zM533 73h6v6h-6zM557 97h6v6h-6zM569 103h6v6h-6zM581 109h6v6h-6zM593 115h6v6h-6zM611 121h6v6h-6zM629 127h6v6h-6zM647 133h6v6h-6zM665 139h6v6h-6zM695 151h6v6h-6zM731 157h12v6h-12zM749 163h6v6h-6z"/><path fill="#29af7f" d="M515 -5h6v6h-6zM515 1h6v6h-6zM515 31h6v6h-6zM521 49h6v6h-6zM521 55h6v6h-6zM527 67h6v6h-6zM533 79h6v6h-6zM539 85h6v6h-6zM545 91h6v6h-6zM551 97h6v6h-6zM563 103h6v6h-6zM575 109h6v6h-6zM587 115h6v6h-6zM605 121h6v6h-6zM623 127h6v6h-6zM641 133h6v6h-6zM677 145h6v6h-6zM689 151h6v6h-6zM719 157h12v6h-12zM743 163h6v6h-6z"/><path fill="#2db27d" d="M515 37h6v6h-6zM515 43h6v6h-6zM521 61h6v6h-6zM527 73h6v6h-6zM533 85h6v6h-6zM539 91h6v6h-6zM557 103h6v6h-6zM569 109h6v6h-6zM581 115h6v6h-6zM599 121h6v6h-6zM617 127h6v6h-6zM635 133h6v6h-6zM659 139h6v6h-6zM671 145h6v6h-6zM707 157h12v6h-12zM737 163h6v6h-6zM749 169h6v6h-6z"/><path fill="#31b57b" d="M509 13h6v6h-6zM509 19h6v6h-6zM515 49h6v6h-6zM521 67h6v6h-6zM527 79h6v6h-6zM545 97h6v6h-6zM575 115h6v6h-6zM593 121h6v6h-6zM611 127h6v6h-6zM629 133h6v6h-6zM647 139h12v6h-12zM683 151h6v6h-6zM701 157h6v6h-6zM731 163h6v6h-6z"/><path fill="#34b679" d="M509 1h6v6h-6zM509 7h6v6h-6zM509 25h6v6h-6zM509 31h6v6h-6zM515 55h6v6h-6zM521 73h6v6h-6zM527 85h6v6h-6zM533 91h6v6h-6zM551 103h6v6h-6zM563 109h6v6h-6zM587 121h6v6h-6zM599 127h12v6h-12zM623 133h6v6h-6zM641 139h6v6h-6zM665 145h6v6h-6zM677 151h6v6h-6zM695 157h6v6h-6zM719 163h12v6h-12zM743 169h6v6h-6zM749 175h6v6h-6z"/><path fill="#38b977" d="M509 -5h6v6h-6zM509 37h6v6h-6zM509 43h6v6h-6zM515 61h6v6h-6zM515 67h6v6h-6zM521 79h6v6h-6zM539 97h6v6h-6zM545 103h6v6h-6zM557 109h6v6h-6zM569 115h6v6h-6zM581 121h6v6h-6zM593 127h6v6h-6zM611 133h12v6h-12zM635 139h6v6h-6zM659 145h6v6h-6zM671 151h6v6h-6zM689 157h6v6h-6zM713 163h6v6h-6zM737 169h6v6h-6z"/><path fill="#3dbc74" d="M503 19h6v6h-6zM509 49h6v6h-6zM515 73h6v6h-6zM515 79h6v6h-6zM521 85h6v6h-6zM527 91h6v6h-6zM533 97h6v6h-6zM551 109h6v6h-6zM563 115h6v6h-6zM575 121h6v6h-6zM587 127h6v6h-6zM605 133h6v6h-6zM629 139h6v6h-6zM653 145h6v6h-6zM683 157h6v6h-6zM701 163h12v6h-12zM725 169h12v6h-12zM743 175h6v6h-6zM749 181h6v6h-6z"/><path fill="#40bd72" d="M503 7h6v6h-6zM503 13h6v6h-6zM503 25h6v6h-6zM503 31h6v6h-6zM503 37h6v6h-6zM509 55h6v6h-6zM509 61h6v6h-6zM509 67h6v6h-6zM515 85h6v6h-6zM521 91h6v6h-6zM527 97h6v6h-6zM539 103h6v6h-6zM569 121h6v6h-6zM581 127h6v6h-6zM599 133h6v6h-6zM617 139h12v6h-12zM641 145h12v6h-12zM665 151h6v6h-6zM677 157h6v6h-6zM695 163h6v6h-6zM719 169h6v6h-6zM737 175h6v6h-6zM743 181h6v6h-6z"/><path fill="#46c06f" d="M503 -5h6v6h-6zM503 1h6v6h-6zM503 43h6v6h-6zM503 49h6v6h-6zM509 73h6v6h-6zM509 79h6v6h-6zM515 91h6v6h-6zM533 103h6v6h-6zM545 109h6v6h-6zM557 115h6v6h-6zM563 121h6v6h-6zM575 127h6v6h-6zM593 133h6v6h-6zM611 139h6v6h-6zM629 145h12v6h-12zM659 151h6v6h-6zM671 157h6v6h-6zM689 163h6v6h-6zM707 169h12v6h-12zM725 175h12v6h-12zM737 181h6v6h-6zM749 187h6v6h-6z"/><path fill="#4cc26c" d="M497 19h6v6h-6zM503 55h6v6h-6zM503 61h6v6h-6zM503 67h6v6h-6zM503 73h6v6h-6zM503 79h6v6h-6zM509 85h6v6h-6zM521 97h6v6h-6zM527 103h6v6h-6zM539 109h6v6h-6zM551 115h6v6h-6zM587 133h6v6h-6zM599 139h12v6h-12zM623 145h6v6h-6zM647 151h12v6h-12zM665 157h6v6h-6zM677 163h12v6h-12zM695 169h12v6h-12zM719 175h6v6h-6zM731 181h6v6h-6zM743 187h6v6h-6z"/><path fill="#50c46a" d="M497 7h6v6h-6zM497 13h6v6h-6zM497 25h6v6h-6zM497 31h6v6h-6zM497 37h6v6h-6zM497 43h6v6h-6zM497 49h6v6h-6zM497 55h6v6h-6zM497 61h6v6h-6zM497 67h6v6h-6zM497 73h6v6h-6zM503 85h6v6h-6zM509 91h6v6h-6zM515 97h6v6h-6zM521 103h6v6h-6zM533 109h6v6h-6zM545 115h6v6h-6zM557 121h6v6h-6zM569 127h6v6h-6zM581 133h6v6h-6zM593 139h6v6h-6zM611 145h12v6h-12zM635 151h12v6h-12zM653 157h12v6h-12zM671 163h6v6h-6zM689 169h6v6h-6zM701 175h18v6h-18zM725 181h6v6h-6zM737 187h6v6h-6zM749 193h6v6h-6z"/><path fill="#56c667" d="M497 -5h6v6h-6zM497 1h6v6h-6zM491 67h6v6h-6zM497 79h6v6h-6zM497 85h6v6h-6zM503 91h6v6h-6zM509 97h6v6h-6zM515 103h6v6h-6zM527 109h6v6h-6zM539 115h6v6h-6zM551 121h6v6h-6zM563 127h6v6h-6zM575 133h6v6h-6zM587 139h6v6h-6zM605 145h6v6h-6zM623 151h12v6h-12zM641 157h12v6h-12zM659 163h12v6h-12zM677 169h12v6h-12zM689 175h12v6h-12zM713 181h12v6h-12zM731 187h6v6h-6zM743 193h6v6h-6zM749 199h6v6h-6z"/><path fill="#5cc863" d="M491 13h6v6h-6zM491 19h6v6h-6zM491 25h6v6h-6zM491 31h6v6h-6zM491 37h6v6h-6zM491 43h6v6h-6zM491 49h6v6h-6zM491 55h6v6h-6zM491 61h6v6h-6zM491 73h6v6h-6zM491 79h6v6h-6zM497 91h6v6h-6zM503 97h6v6h-6zM521 109h6v6h-6zM533 115h6v6h-6zM545 121h6v6h-6zM557 127h6v6h-6zM569 133h6v6h-6zM581 139h6v6h-6zM599 145h6v6h-6zM611 151h12v6h-12zM629 157h12v6h-12zM641 163h18v6h-18zM665 169h12v6h-12zM683 175h6v6h-6zM695 181h18v6h-18zM719 187h12v6h-12zM731 193h12v6h-12zM743 199h6v6h-6z"/><path fill="#63cb5f" d="M491 1h6v6h-6zM491 7h6v6h-6zM485 67h6v6h-6zM491 85h6v6h-6zM509 103h6v6h-6zM515 109h6v6h-6zM527 115h6v6h-6zM539 121h6v6h-6zM551 127h6v6h-6zM563 133h6v6h-6zM575 139h6v6h-6zM587 145h12v6h-12zM605 151h6v6h-6zM623 157h6v6h-6zM635 163h6v6h-6zM641 169h24v6h-24zM671 175h12v6h-12zM683 181h12v6h-12zM695 187h24v6h-24zM725 193h6v6h-6zM737 199h6v6h-6zM749 205h6v6h-6z"/><path fill="#67cc5c" d="M491 -5h6v6h-6zM485 49h6v6h-6zM485 55h6v6h-6zM485 61h6v6h-6zM485 73h6v6h-6zM485 79h6v6h-6zM491 91h6v6h-6zM497 97h6v6h-6zM503 103h6v6h-6zM509 109h6v6h-6zM521 115h6v6h-6zM533 121h6v6h-6zM545 127h6v6h-6zM557 133h6v6h-6zM569 139h6v6h-6zM581 145h6v6h-6zM599 151h6v6h-6zM611 157h12v6h-12zM629 163h6v6h-6zM635 169h6v6h-6zM647 175h24v6h-24zM677 181h6v6h-6zM689 187h6v6h-6zM713 193h12v6h-12zM731 199h6v6h-6zM743 205h6v6h-6z"/><path fill="#6ece58" d="M485 13h6v6h-6zM485 19h6v6h-6zM485 25h6v6h-6zM485 31h6v6h-6zM485 37h6v6h-6zM485 43h6v6h-6zM485 85h6v6h-6zM491 97h6v6h-6zM497 103h6v6h-6zM515 115h6v6h-6zM527 121h6v6h-6zM539 127h6v6h-6zM551 133h6v6h-6zM563 139h6v6h-6zM575 145h6v6h-6zM593 151h6v6h-6zM605 157h6v6h-6zM617 163h12v6h-12zM629 169h6v6h-6zM641 175h6v6h-6zM653 181h24v6h-24zM683 187h6v6h-6zM695 193h18v6h-18zM725 199h6v6h-6zM737 205h6v6h-6zM749 211h6v6h-6z"/><path fill="#75d054" d="M485 -5h6v6h-6zM485 1h6v6h-6zM485 7h6v6h-6zM479 49h6v6h-6zM479 55h6v6h-6zM479 61h6v6h-6zM479 67h6v6h-6zM479 73h6v6h-6zM479 79h6v6h-6zM485 91h6v6h-6zM503 109h6v6h-6zM509 115h6v6h-6zM521 121h6v6h-6zM533 127h6v6h-6zM545 133h6v6h-6zM557 139h6v6h-6zM569 145h6v6h-6zM581 151h12v6h-12zM599 157h6v6h-6zM611 163h6v6h-6zM623 169h6v6h-6zM635 175h6v6h-6zM641 181h12v6h-12zM671 187h12v6h-12zM689 193h6v6h-6zM713 199h12v6h-12zM731 205h6v6h-6zM743 211h6v6h-6z"/><path fill="#7ad151" d="M479 19h6v6h-6zM479 25h6v6h-6zM479 31h6v6h-6zM479 37h6v6h-6zM479 43h6v6h-6zM479 85h6v6h-6zM485 97h6v6h-6zM491 103h6v6h-6zM497 109h6v6h-6zM503 115h6v6h-6zM515 121h6v6h-6zM527 127h6v6h-6zM539 133h6v6h-6zM551 139h6v6h-6zM563 145h6v6h-6zM575 151h6v6h-6zM593 157h6v6h-6zM605 163h6v6h-6zM617 169h6v6h-6zM629 175h6v6h-6zM635 181h6v6h-6zM653 187h18v6h-18zM683 193h6v6h-6zM701 199h12v6h-12zM725 205h6v6h-6zM737 211h6v6h-6zM749 217h6v6h-6z"/><path fill="#81d34d" d="M479 1h6v6h-6zM479 7h6v6h-6zM479 13h6v6h-6zM473 55h6v6h-6zM473 61h6v6h-6zM473 67h6v6h-6zM473 73h6v6h-6zM473 79h6v6h-6zM479 91h6v6h-6zM485 103h6v6h-6zM491 109h6v6h-6zM509 121h6v6h-6zM521 127h6v6h-6zM533 133h6v6h-6zM545 139h6v6h-6zM557 145h6v6h-6zM569 151h6v6h-6zM581 157h12v6h-12zM599 163h6v6h-6zM611 169h6v6h-6zM623 175h6v6h-6zM629 181h6v6h-6zM641 187h12v6h-12zM671 193h12v6h-12zM689 199h12v6h-12zM713 205h12v6h-12zM731 211h6v6h-6zM743 217h6v6h-6z"/><path fill="#89d548" d="M479 -5h6v6h-6zM473 31h6v6h-6zM473 37h6v6h-6zM473 43h6v6h-6zM473 49h6v6h-6zM473 85h6v6h-6zM473 91h6v6h-6zM479 97h6v6h-6zM497 115h6v6h-6zM503 121h6v6h-6zM515 127h6v6h-6zM527 133h6v6h-6zM539 139h6v6h-6zM551 145h6v6h-6zM563 151h6v6h-6zM575 157h6v6h-6zM587 163h12v6h-12zM605 169h6v6h-6zM617 175h6v6h-6zM623 181h6v6h-6zM635 187h6v6h-6zM653 193h18v6h-18zM683 199h6v6h-6zM707 205h6v6h-6zM725 211h6v6h-6zM737 217h6v6h-6zM749 223h6v6h-6z"/><path fill="#8ed645" d="M473 7h6v6h-6zM473 13h6v6h-6zM473 19h6v6h-6zM473 25h6v6h-6zM467 55h6v6h-6zM467 61h6v6h-6zM467 67h6v6h-6zM467 73h6v6h-6zM467 79h6v6h-6zM473 97h6v6h-6zM479 103h6v6h-6zM485 109h6v6h-6zM491 115h6v6h-6zM497 121h6v6h-6zM509 127h6v6h-6zM521 133h6v6h-6zM533 139h6v6h-6zM545 145h6v6h-6zM557 151h6v6h-6zM569 157h6v6h-6zM581 163h6v6h-6zM593 169h12v6h-12zM605 175h12v6h-12zM617 181h6v6h-6zM629 187h6v6h-6zM641 193h12v6h-12zM671 199h12v6h-12zM695 205h12v6h-12zM719 211h6v6h-6zM731 217h6v6h-6zM743 223h6v6h-6zM749 229h6v6h-6z"/><path fill="#95d840" d="M473 -5h6v6h-6zM473 1h6v6h-6zM467 31h6v6h-6zM467 37h6v6h-6zM467 43h6v6h-6zM467 49h6v6h-6zM467 85h6v6h-6zM467 91h6v6h-6zM479 109h6v6h-6zM485 115h6v6h-6zM503 127h6v6h-6zM515 133h6v6h-6zM527 139h6v6h-6zM539 145h6v6h-6zM551 151h6v6h-6zM563 157h6v6h-6zM575 163h6v6h-6zM587 169h6v6h-6zM599 175h6v6h-6zM611 181h6v6h-6zM623 187h6v6h-6zM635 193h6v6h-6zM659 199h12v6h-12zM689 205h6v6h-6zM707 211h12v6h-12zM725 217h6v6h-6zM737 223h6v6h-6zM743 229h6v6h-6z"/><path fill="#9dd93b" d="M467 13h6v6h-6zM467 19h6v6h-6zM467 25h6v6h-6zM461 55h6v6h-6zM461 61h6v6h-6zM461 67h6v6h-6zM461 73h6v6h-6zM461 79h6v6h-6zM467 97h6v6h-6zM473 103h6v6h-6zM491 121h6v6h-6zM497 127h6v6h-6zM509 133h6v6h-6zM521 139h6v6h-6zM533 145h6v6h-6zM545 151h6v6h-6zM557 157h6v6h-6zM569 163h6v6h-6zM581 169h6v6h-6zM593 175h6v6h-6zM605 181h6v6h-6zM617 187h6v6h-6zM629 193h6v6h-6zM647 199h12v6h-12zM677 205h12v6h-12zM701 211h6v6h-6zM719 217h6v6h-6zM731 223h6v6h-6zM749 235h6v6h-6z"/><path fill="#a2da37" d="M467 -5h6v6h-6zM467 1h6v6h-6zM467 7h6v6h-6zM461 31h6v6h-6zM461 37h6v6h-6zM461 43h6v6h-6zM461 49h6v6h-6zM461 85h6v6h-6zM461 91h6v6h-6zM467 103h6v6h-6zM473 109h6v6h-6zM479 115h6v6h-6zM485 121h6v6h-6zM491 127h6v6h-6zM503 133h6v6h-6zM515 139h6v6h-6zM527 145h6v6h-6zM539 151h6v6h-6zM551 157h6v6h-6zM563 163h6v6h-6zM575 169h6v6h-6zM587 175h6v6h-6zM599 181h6v6h-6zM611 187h6v6h-6zM623 193h6v6h-6zM635 199h12v6h-12zM659 205h18v6h-18zM695 211h6v6h-6zM713 217h6v6h-6zM725 223h6v6h-6zM737 229h6v6h-6zM743 235h6v6h-6z"/><path fill="#aadc32" d="M461 13h6v6h-6zM461 19h6v6h-6zM461 25h6v6h-6zM455 55h6v6h-6zM455 61h6v6h-6zM455 67h6v6h-6zM455 73h6v6h-6zM455 79h6v6h-6zM461 97h6v6h-6zM473 115h6v6h-6zM479 121h6v6h-6zM497 133h6v6h-6zM509 139h6v6h-6zM521 145h6v6h-6zM533 151h6v6h-6zM545 157h6v6h-6zM557 163h6v6h-6zM569 169h6v6h-6zM581 175h6v6h-6zM593 181h6v6h-6zM605 187h6v6h-6zM617 193h6v6h-6zM629 199h6v6h-6zM647 205h12v6h-12zM683 211h12v6h-12zM707 217h6v6h-6zM719 223h6v6h-6zM731 229h6v6h-6zM737 235h6v6h-6zM749 241h6v6h-6z"/><path fill="#b2dd2d" d="M461 -5h6v6h-6zM461 1h6v6h-6zM461 7h6v6h-6zM455 25h6v6h-6zM455 31h6v6h-6zM455 37h6v6h-6zM455 43h6v6h-6zM455 49h6v6h-6zM455 85h6v6h-6zM455 91h6v6h-6zM461 103h6v6h-6zM467 109h6v6h-6zM485 127h6v6h-6zM491 133h6v6h-6zM503 139h6v6h-6zM515 145h6v6h-6zM527 151h6v6h-6zM539 157h6v6h-6zM551 163h6v6h-6zM563 169h6v6h-6zM575 175h6v6h-6zM587 181h6v6h-6zM599 187h6v6h-6zM611 193h6v6h-6zM623 199h6v6h-6zM635 205h12v6h-12zM665 211h18v6h-18zM701 217h6v6h-6zM713 223h6v6h-6zM725 229h6v6h-6zM731 235h6v6h-6zM743 241h6v6h-6zM749 247h6v6h-6z"/><path fill="#bade28" d="M455 13h6v6h-6zM455 19h6v6h-6zM449 37h6v6h-6zM449 43h6v6h-6zM449 49h6v6h-6zM449 55h6v6h-6zM449 61h6v6h-6zM449 67h6v6h-6zM449 73h6v6h-6zM449 79h6v6h-6zM455 97h6v6h-6zM461 109h6v6h-6zM467 115h6v6h-6zM473 121h6v6h-6zM479 127h6v6h-6zM485 133h6v6h-6zM497 139h6v6h-6zM509 145h6v6h-6zM515 151h12v6h-12zM533 157h6v6h-6zM545 163h6v6h-6zM557 169h6v6h-6zM569 175h6v6h-6zM581 181h6v6h-6zM593 187h6v6h-6zM605 193h6v6h-6zM617 199h6v6h-6zM629 205h6v6h-6zM647 211h18v6h-18zM689 217h12v6h-12zM701 223h12v6h-12zM719 229h6v6h-6zM725 235h6v6h-6zM737 241h6v6h-6z"/><path fill="#c0df25" d="M455 -5h6v6h-6zM455 1h6v6h-6zM455 7h6v6h-6zM449 19h6v6h-6zM449 25h6v6h-6zM449 31h6v6h-6zM443 37h6v6h-6zM443 43h6v6h-6zM443 49h6v6h-6zM443 55h6v6h-6zM443 61h6v6h-6zM443 67h6v6h-6zM449 85h6v6h-6zM449 91h6v6h-6zM455 103h6v6h-6zM467 121h6v6h-6zM473 127h6v6h-6zM491 139h6v6h-6zM503 145h6v6h-6zM509 151h6v6h-6zM521 157h12v6h-12zM533 163h12v6h-12zM551 169h6v6h-6zM563 175h6v6h-6zM575 181h6v6h-6zM587 187h6v6h-6zM599 193h6v6h-6zM611 199h6v6h-6zM623 205h6v6h-6zM641 211h6v6h-6zM665 217h24v6h-24zM695 223h6v6h-6zM707 229h12v6h-12zM731 241h6v6h-6zM743 247h6v6h-6zM749 253h6v6h-6z"/><path fill="#c8e020" d="M449 7h6v6h-6zM449 13h6v6h-6zM443 25h6v6h-6zM443 31h6v6h-6zM443 73h6v6h-6zM443 79h6v6h-6zM449 97h6v6h-6zM455 109h6v6h-6zM461 115h6v6h-6zM479 133h6v6h-6zM485 139h6v6h-6zM497 145h6v6h-6zM503 151h6v6h-6zM515 157h6v6h-6zM527 163h6v6h-6zM539 169h12v6h-12zM551 175h12v6h-12zM569 181h6v6h-6zM581 187h6v6h-6zM593 193h6v6h-6zM605 199h6v6h-6zM617 205h6v6h-6zM629 211h12v6h-12zM653 217h12v6h-12zM689 223h6v6h-6zM701 229h6v6h-6zM713 235h12v6h-12zM725 241h6v6h-6zM737 247h6v6h-6zM743 253h6v6h-6z"/><path fill="#d0e11c" d="M449 -5h6v6h-6zM449 1h6v6h-6zM443 19h6v6h-6zM437 31h6v6h-6zM437 37h6v6h-6zM437 43h6v6h-6zM437 49h6v6h-6zM437 55h6v6h-6zM437 61h6v6h-6zM437 67h6v6h-6zM443 85h6v6h-6zM443 91h6v6h-6zM449 103h6v6h-6zM455 115h6v6h-6zM461 121h6v6h-6zM467 127h6v6h-6zM473 133h6v6h-6zM479 139h6v6h-6zM491 145h6v6h-6zM497 151h6v6h-6zM509 157h6v6h-6zM521 163h6v6h-6zM533 169h6v6h-6zM545 175h6v6h-6zM557 181h12v6h-12zM569 187h12v6h-12zM581 193h12v6h-12zM593 199h12v6h-12zM605 205h12v6h-12zM623 211h6v6h-6zM641 217h12v6h-12zM671 223h18v6h-18zM695 229h6v6h-6zM707 235h6v6h-6zM719 241h6v6h-6zM731 247h6v6h-6zM737 253h6v6h-6zM749 259h6v6h-6z"/><path fill="#d5e21a" d="M443 7h6v6h-6zM443 13h6v6h-6zM437 25h6v6h-6zM431 49h6v6h-6zM437 73h6v6h-6zM437 79h6v6h-6zM437 85h6v6h-6zM443 97h6v6h-6zM449 109h6v6h-6zM485 145h6v6h-6zM503 157h6v6h-6zM515 163h6v6h-6zM527 169h6v6h-6zM539 175h6v6h-6zM551 181h6v6h-6zM563 187h6v6h-6zM575 193h6v6h-6zM587 199h6v6h-6zM599 205h6v6h-6zM617 211h6v6h-6zM629 217h12v6h-12zM653 223h18v6h-18zM683 229h12v6h-12zM701 235h6v6h-6zM713 241h6v6h-6zM725 247h6v6h-6zM731 253h6v6h-6zM743 259h6v6h-6zM749 265h6v6h-6z"/><path fill="#dde318" d="M443 -5h6v6h-6zM443 1h6v6h-6zM437 13h6v6h-6zM437 19h6v6h-6zM431 31h6v6h-6zM431 37h6v6h-6zM431 43h6v6h-6zM431 55h6v6h-6zM431 61h6v6h-6zM431 67h6v6h-6zM431 73h6v6h-6zM437 91h6v6h-6zM443 103h6v6h-6zM449 115h6v6h-6zM455 121h6v6h-6zM461 127h6v6h-6zM467 133h6v6h-6zM473 139h6v6h-6zM479 145h6v6h-6zM491 151h6v6h-6zM497 157h6v6h-6zM509 163h6v6h-6zM521 169h6v6h-6zM533 175h6v6h-6zM545 181h6v6h-6zM557 187h6v6h-6zM569 193h6v6h-6zM581 199h6v6h-6zM593 205h6v6h-6zM605 211h12v6h-12zM623 217h6v6h-6zM641 223h12v6h-12zM671 229h12v6h-12zM689 235h12v6h-12zM707 241h6v6h-6zM719 247h6v6h-6zM725 253h6v6h-6zM737 259h6v6h-6z"/><path fill="#e5e419" d="M437 7h6v6h-6zM431 25h6v6h-6zM425 43h6v6h-6zM425 49h6v6h-6zM425 55h6v6h-6zM431 79h6v6h-6zM431 85h6v6h-6zM437 97h6v6h-6zM443 109h6v6h-6zM455 127h6v6h-6zM461 133h6v6h-6zM467 139h6v6h-6zM473 145h6v6h-6zM485 151h6v6h-6zM491 157h6v6h-6zM503 163h6v6h-6zM515 169h6v6h-6zM527 175h6v6h-6zM539 181h6v6h-6zM551 187h6v6h-6zM563 193h6v6h-6zM575 199h6v6h-6zM587 205h6v6h-6zM599 211h6v6h-6zM617 217h6v6h-6zM629 223h12v6h-12zM653 229h18v6h-18zM683 235h6v6h-6zM695 241h12v6h-12zM713 247h6v6h-6zM719 253h6v6h-6zM731 259h6v6h-6zM743 265h6v6h-6z"/><path fill="#eae51a" d="M437 -5h6v6h-6zM437 1h6v6h-6zM431 13h6v6h-6zM431 19h6v6h-6zM425 31h6v6h-6zM425 37h6v6h-6zM425 61h6v6h-6zM425 67h6v6h-6zM425 73h6v6h-6zM431 91h6v6h-6zM437 103h6v6h-6zM443 115h6v6h-6zM449 121h6v6h-6zM479 151h6v6h-6zM497 163h6v6h-6zM509 169h6v6h-6zM521 175h6v6h-6zM533 181h6v6h-6zM545 187h6v6h-6zM557 193h6v6h-6zM569 199h6v6h-6zM581 205h6v6h-6zM593 211h6v6h-6zM605 217h12v6h-12zM623 223h6v6h-6zM641 229h12v6h-12zM671 235h12v6h-12zM689 241h6v6h-6zM701 247h12v6h-12zM713 253h6v6h-6zM725 259h6v6h-6zM737 265h6v6h-6z"/><path fill="#f1e51d" d="M431 1h6v6h-6zM431 7h6v6h-6zM425 19h6v6h-6zM425 25h6v6h-6zM419 49h6v6h-6zM419 55h6v6h-6zM425 79h6v6h-6zM425 85h6v6h-6zM431 97h6v6h-6zM437 109h6v6h-6zM443 121h6v6h-6zM449 127h6v6h-6zM455 133h6v6h-6zM461 139h6v6h-6zM467 145h6v6h-6zM473 151h6v6h-6zM485 157h6v6h-6zM491 163h6v6h-6zM503 169h6v6h-6zM515 175h6v6h-6zM527 181h6v6h-6zM539 187h6v6h-6zM551 193h6v6h-6zM563 199h6v6h-6zM575 205h6v6h-6zM587 211h6v6h-6zM599 217h6v6h-6zM617 223h6v6h-6zM629 229h12v6h-12zM653 235h18v6h-18zM677 241h12v6h-12zM695 247h6v6h-6zM707 253h6v6h-6zM719 259h6v6h-6zM731 265h6v6h-6z"/><path fill="#f8e621" d="M431 -5h6v6h-6zM425 13h6v6h-6zM419 31h6v6h-6zM419 37h6v6h-6zM419 43h6v6h-6zM419 61h6v6h-6zM419 67h6v6h-6zM419 73h6v6h-6zM425 91h6v6h-6zM431 103h6v6h-6zM437 115h6v6h-6zM449 133h6v6h-6zM455 139h6v6h-6zM461 145h6v6h-6zM479 157h6v6h-6zM485 163h6v6h-6zM497 169h6v6h-6zM509 175h6v6h-6zM521 181h6v6h-6zM533 187h6v6h-6zM545 193h6v6h-6zM557 199h6v6h-6zM569 205h6v6h-6zM581 211h6v6h-6zM593 217h6v6h-6zM605 223h12v6h-12zM623 229h6v6h-6zM641 235h12v6h-12zM665 241h12v6h-12zM689 247h6v6h-6zM701 253h6v6h-6zM713 259h6v6h-6zM725 265h6v6h-6z"/><path fill="#fde725" d="M419 -5h12v6h-12zM419 1h12v6h-12zM419 7h12v6h-12zM419 13h6v6h-6zM419 19h6v6h-6zM419 25h6v6h-6zM419 79h6v6h-6zM419 85h6v6h-6zM419 91h6v6h-6zM419 97h12v6h-12zM419 103h12v6h-12zM419 109h18v6h-18zM419 115h18v6h-18zM419 121h24v6h-24zM419 127h30v6h-30zM419 133h30v6h-30zM419 139h36v6h-36zM419 145h42v6h-42zM419 151h54v6h-54zM419 157h60v6h-60zM419 163h66v6h-66zM419 169h78v6h-78zM419 175h90v6h-90zM419 181h102v6h-102zM419 187h114v6h-114zM419 193h126v6h-126zM419 199h138v6h-138zM419 205h150v6h-150zM419 211h162v6h-162zM419 217h174v6h-174zM419 223h186v6h-186zM419 229h204v6h-204zM419 235h222v6h-222zM419 241h246v6h-246zM419 247h270v6h-270zM419 253h282v6h-282zM419 259h294v6h-294zM419 265h306v6h-306z"/></g><rect x="425" y="1" width="316" height="256" fill="#fff" opacity="0.08"/></g>
<g clip-path="url(#rb)"><line x1="428.0" y1="1.0" x2="741.0" y2="256.0" stroke="#cc2020" stroke-width="2" stroke-dasharray="3.0 3.4" stroke-linecap="round" opacity="0.92"/><line x1="503.5" y1="1.0" x2="742.0" y2="188.0" stroke="#cc2020" stroke-width="2" stroke-dasharray="3.0 3.4" stroke-linecap="round" opacity="0.92"/><line x1="581.0" y1="2.0" x2="742.0" y2="118.0" stroke="#cc2020" stroke-width="2" stroke-dasharray="3.0 3.4" stroke-linecap="round" opacity="0.92"/><polyline points="450.8,45.4 449.5,48.0" fill="none" stroke="#000" stroke-width="2" stroke-linejoin="round" stroke-linecap="butt"/><polyline points="503.4,1.2 500.7,10.7 499.8,21.4" fill="none" stroke="#000" stroke-width="2" stroke-linejoin="round" stroke-linecap="butt"/><polyline points="501.6,68.6 504.3,78.4 507.0,86.4" fill="none" stroke="#000" stroke-width="2" stroke-linejoin="round" stroke-linecap="butt"/><polyline points="533.7,1.2 531.9,17.8 535.5,35.6 546.2,57.0 556.8,74.8 567.5,85.5 582.0,92.7 599.8,103.3 626.5,114.0 651.5,124.7" fill="none" stroke="#000" stroke-width="2" stroke-linejoin="round" stroke-linecap="butt"/><polyline points="696.0,141.4 717.4,145.8 741.0,146.7" fill="none" stroke="#000" stroke-width="2" stroke-linejoin="round" stroke-linecap="butt"/><polyline points="580.0,1.2 583.6,14.3" fill="none" stroke="#000" stroke-width="2" stroke-linejoin="round" stroke-linecap="butt"/><polyline points="610.5,52.6 623.0,67.7 633.7,83.7 649.7,94.4 671.1,103.3 697.8,112.2 724.5,121.2 741.0,124.7" fill="none" stroke="#000" stroke-width="2" stroke-linejoin="round" stroke-linecap="butt"/><polyline points="632.8,8.9 640.8,23.2 651.5,41.0 664.0,57.0" fill="none" stroke="#000" stroke-width="2" stroke-linejoin="round" stroke-linecap="butt"/><polyline points="705.0,83.7 724.5,89.0 741.0,96.2" fill="none" stroke="#000" stroke-width="2" stroke-linejoin="round" stroke-linecap="butt"/><polyline points="548.0,116.3 550.5,117.8" fill="none" stroke="#000" stroke-width="2" stroke-linejoin="round" stroke-linecap="butt"/><polyline points="557.8,121.5 568.4,128.2 587.5,136.8 606.7,143.6 630.0,150.3 656.8,156.5 678.2,165.4 697.8,173.4 716.0,176.5" fill="none" stroke="#000" stroke-width="2" stroke-linejoin="round" stroke-linecap="butt"/><polyline points="695.0,221.8 702.3,225.5" fill="none" stroke="#000" stroke-width="2" stroke-linejoin="round" stroke-linecap="butt"/><text x="0" y="0" font-size="18" text-anchor="middle" dominant-baseline="central" stroke="#000" stroke-width="0.3" transform="translate(455.5 23) rotate(-72) scale(1.06 1)">0.92</text><text x="0" y="0" font-size="18" text-anchor="middle" dominant-baseline="central" stroke="#000" stroke-width="0.3" transform="translate(500.7 45.5) rotate(90) scale(1.06 1)">0.88</text><text x="0" y="0" font-size="18" text-anchor="middle" dominant-baseline="central" stroke="#000" stroke-width="0.3" transform="translate(675.5 131) rotate(21) scale(1.06 1)">0.84</text><text x="0" y="0" font-size="18" text-anchor="middle" dominant-baseline="central" stroke="#000" stroke-width="0.3" transform="translate(596 33.5) rotate(52) scale(1.06 1)">0.80</text><text x="0" y="0" font-size="18" text-anchor="middle" dominant-baseline="central" stroke="#000" stroke-width="0.3" transform="translate(684 71) rotate(33) scale(1.06 1)">0.76</text><text x="0" y="0" font-size="18" text-anchor="middle" dominant-baseline="central" stroke="#000" stroke-width="0.3" transform="translate(738 173.5) rotate(-12) scale(1.06 1)">0.88</text><text x="0" y="0" font-size="18" text-anchor="middle" dominant-baseline="central" stroke="#000" stroke-width="0.3" transform="translate(722.5 232) rotate(32) scale(1.06 1)">0.92</text></g>
<rect x="425.5" y="1.5" width="315.8" height="255.9" fill="none" stroke="#000" stroke-width="1.15"/>
<line x1="441.6" y1="257.4" x2="441.6" y2="261.4" stroke="#000" stroke-width="1"/><text x="0" y="0" font-size="19.5" text-anchor="middle" stroke="#000" stroke-width="0.25" transform="translate(441.6 280.4) scale(1.1 1)">1</text><line x1="492.3" y1="257.4" x2="492.3" y2="261.4" stroke="#000" stroke-width="1"/><text x="0" y="0" font-size="19.5" text-anchor="middle" stroke="#000" stroke-width="0.25" transform="translate(492.3 280.4) scale(1.1 1)">2</text><line x1="543.0" y1="257.4" x2="543.0" y2="261.4" stroke="#000" stroke-width="1"/><text x="0" y="0" font-size="19.5" text-anchor="middle" stroke="#000" stroke-width="0.25" transform="translate(543.0 280.4) scale(1.1 1)">3</text><line x1="593.7" y1="257.4" x2="593.7" y2="261.4" stroke="#000" stroke-width="1"/><text x="0" y="0" font-size="19.5" text-anchor="middle" stroke="#000" stroke-width="0.25" transform="translate(593.7 280.4) scale(1.1 1)">4</text><line x1="644.4" y1="257.4" x2="644.4" y2="261.4" stroke="#000" stroke-width="1"/><text x="0" y="0" font-size="19.5" text-anchor="middle" stroke="#000" stroke-width="0.25" transform="translate(644.4 280.4) scale(1.1 1)">5</text><line x1="695.1" y1="257.4" x2="695.1" y2="261.4" stroke="#000" stroke-width="1"/><text x="0" y="0" font-size="19.5" text-anchor="middle" stroke="#000" stroke-width="0.25" transform="translate(695.1 280.4) scale(1.1 1)">6</text><line x1="421" y1="257.4" x2="425" y2="257.4" stroke="#000" stroke-width="1"/><text x="0" y="0" font-size="19.5" text-anchor="end" stroke="#000" stroke-width="0.25" transform="translate(418.4 264.8) scale(1.1 1)">0</text><line x1="421" y1="220.4" x2="425" y2="220.4" stroke="#000" stroke-width="1"/><text x="0" y="0" font-size="19.5" text-anchor="end" stroke="#000" stroke-width="0.25" transform="translate(418.4 227.8) scale(1.1 1)">1</text><line x1="421" y1="183.4" x2="425" y2="183.4" stroke="#000" stroke-width="1"/><text x="0" y="0" font-size="19.5" text-anchor="end" stroke="#000" stroke-width="0.25" transform="translate(418.4 190.8) scale(1.1 1)">2</text><line x1="421" y1="146.4" x2="425" y2="146.4" stroke="#000" stroke-width="1"/><text x="0" y="0" font-size="19.5" text-anchor="end" stroke="#000" stroke-width="0.25" transform="translate(418.4 153.8) scale(1.1 1)">3</text><line x1="421" y1="109.4" x2="425" y2="109.4" stroke="#000" stroke-width="1"/><text x="0" y="0" font-size="19.5" text-anchor="end" stroke="#000" stroke-width="0.25" transform="translate(418.4 116.8) scale(1.1 1)">4</text><line x1="421" y1="72.4" x2="425" y2="72.4" stroke="#000" stroke-width="1"/><text x="0" y="0" font-size="19.5" text-anchor="end" stroke="#000" stroke-width="0.25" transform="translate(418.4 79.8) scale(1.1 1)">5</text><line x1="421" y1="35.4" x2="425" y2="35.4" stroke="#000" stroke-width="1"/><text x="0" y="0" font-size="19.5" text-anchor="end" stroke="#000" stroke-width="0.25" transform="translate(418.4 42.8) scale(1.1 1)">6</text><text x="0" y="0" font-size="19.5" text-anchor="middle" stroke="#000" stroke-width="0.25" transform="translate(583.5 302.0) scale(1.1 1)">log(<tspan font-style="italic">K</tspan>)</text><text x="0" y="0" font-size="19.5" text-anchor="middle" stroke="#000" stroke-width="0.25" transform="translate(396.5 129.7) rotate(-90) scale(1.1 1)">log(<tspan font-style="italic">n</tspan>)</text><text class="cap" x="561" y="353" font-size="26.8" text-anchor="middle">(b) FGVCAircraft</text>
<g clip-path="url(#dc)"><g filter="url(#bl)"><path fill="#440154" d="M1046 -5h90v6h-90zM1052 1h84v6h-84zM1058 7h78v6h-78zM1064 13h72v6h-72zM1070 19h66v6h-66zM1076 25h60v6h-60zM1082 31h54v6h-54zM1088 37h48v6h-48zM1094 43h42v6h-42zM1100 49h36v6h-36zM1106 55h30v6h-30zM1118 61h18v6h-18zM1130 67h6v6h-6z"/><path fill="#450457" d="M1040 -5h6v6h-6zM1046 1h6v6h-6zM1052 7h6v6h-6zM1058 13h6v6h-6zM1064 19h6v6h-6zM1070 25h6v6h-6zM1076 31h6v6h-6zM1082 37h6v6h-6zM1088 43h6v6h-6zM1094 49h6v6h-6zM1100 55h6v6h-6zM1112 61h6v6h-6zM1124 67h6v6h-6z"/><path fill="#46085c" d="M1034 -5h6v6h-6zM1040 1h6v6h-6zM1046 7h6v6h-6zM1058 19h6v6h-6zM1064 25h6v6h-6zM1070 31h6v6h-6zM1076 37h6v6h-6zM1082 43h6v6h-6zM1106 61h6v6h-6zM1118 67h6v6h-6zM1130 73h6v6h-6z"/><path fill="#470d60" d="M1052 13h6v6h-6zM1088 49h6v6h-6zM1094 55h6v6h-6zM1100 61h6v6h-6zM1112 67h6v6h-6zM1124 73h6v6h-6z"/><path fill="#471063" d="M1028 -5h6v6h-6zM1034 1h6v6h-6zM1040 7h6v6h-6zM1046 13h6v6h-6zM1052 19h6v6h-6zM1058 25h6v6h-6zM1064 31h6v6h-6zM1070 37h6v6h-6zM1076 43h6v6h-6zM1082 49h6v6h-6zM1088 55h6v6h-6zM1106 67h6v6h-6zM1118 73h6v6h-6zM1130 79h6v6h-6z"/><path fill="#481467" d="M1022 -5h6v6h-6zM1028 1h6v6h-6zM1034 7h6v6h-6zM1058 31h6v6h-6zM1064 37h6v6h-6zM1070 43h6v6h-6zM1094 61h6v6h-6zM1100 67h6v6h-6zM1112 73h6v6h-6zM1124 79h6v6h-6z"/><path fill="#48186a" d="M1022 1h6v6h-6zM1028 7h6v6h-6zM1040 13h6v6h-6zM1046 19h6v6h-6zM1052 25h6v6h-6zM1076 49h6v6h-6zM1082 55h6v6h-6zM1088 61h6v6h-6zM1094 67h6v6h-6zM1106 73h6v6h-6zM1118 79h6v6h-6zM1130 85h6v6h-6z"/><path fill="#481b6d" d="M1016 -5h6v6h-6zM1034 13h6v6h-6zM1040 19h6v6h-6zM1046 25h6v6h-6zM1052 31h6v6h-6zM1058 37h6v6h-6zM1064 43h6v6h-6zM1070 49h6v6h-6zM1076 55h6v6h-6zM1100 73h6v6h-6zM1112 79h6v6h-6zM1124 85h6v6h-6z"/><path fill="#481f70" d="M1010 -5h6v6h-6zM1016 1h6v6h-6zM1022 7h6v6h-6zM1028 13h6v6h-6zM1082 61h6v6h-6zM1088 67h6v6h-6zM1094 73h6v6h-6zM1106 79h6v6h-6zM1118 85h6v6h-6zM1130 91h6v6h-6z"/><path fill="#482374" d="M1010 1h6v6h-6zM1016 7h6v6h-6zM1022 13h6v6h-6zM1034 19h6v6h-6zM1040 25h6v6h-6zM1046 31h6v6h-6zM1052 37h6v6h-6zM1058 43h6v6h-6zM1064 49h6v6h-6zM1070 55h6v6h-6zM1076 61h6v6h-6zM1082 67h6v6h-6zM1100 79h6v6h-6zM1112 85h6v6h-6zM1124 91h6v6h-6z"/><path fill="#482576" d="M1004 -5h6v6h-6zM1028 19h6v6h-6zM1034 25h6v6h-6zM1040 31h6v6h-6zM1046 37h6v6h-6zM1052 43h6v6h-6zM1058 49h6v6h-6zM1088 73h6v6h-6zM1094 79h6v6h-6zM1106 85h6v6h-6zM1118 91h6v6h-6zM1130 97h6v6h-6z"/><path fill="#482979" d="M1004 1h6v6h-6zM1010 7h6v6h-6zM1016 13h6v6h-6zM1022 19h6v6h-6zM1028 25h6v6h-6zM1064 55h6v6h-6zM1070 61h6v6h-6zM1076 67h6v6h-6zM1082 73h6v6h-6zM1112 91h6v6h-6z"/><path fill="#472d7b" d="M998 -5h6v6h-6zM1004 7h6v6h-6zM1010 13h6v6h-6zM1016 19h6v6h-6zM1034 31h6v6h-6zM1040 37h6v6h-6zM1046 43h6v6h-6zM1052 49h6v6h-6zM1058 55h6v6h-6zM1064 61h6v6h-6zM1088 79h6v6h-6zM1100 85h6v6h-6zM1124 97h6v6h-6z"/><path fill="#46307e" d="M998 1h6v6h-6zM1022 25h6v6h-6zM1028 31h6v6h-6zM1070 67h6v6h-6zM1076 73h6v6h-6zM1094 85h6v6h-6zM1106 91h6v6h-6zM1118 97h6v6h-6zM1130 103h6v6h-6z"/><path fill="#46337f" d="M992 -5h6v6h-6zM998 7h6v6h-6zM1004 13h6v6h-6zM1010 19h6v6h-6zM1016 25h6v6h-6zM1034 37h6v6h-6zM1040 43h6v6h-6zM1046 49h6v6h-6zM1052 55h6v6h-6zM1058 61h6v6h-6zM1064 67h6v6h-6zM1082 79h6v6h-6zM1088 85h6v6h-6zM1100 91h6v6h-6zM1112 97h6v6h-6zM1124 103h6v6h-6z"/><path fill="#453781" d="M992 1h6v6h-6zM1004 19h6v6h-6zM1022 31h6v6h-6zM1028 37h6v6h-6zM1034 43h6v6h-6zM1040 49h6v6h-6zM1070 73h6v6h-6zM1076 79h6v6h-6zM1094 91h6v6h-6zM1106 97h6v6h-6zM1118 103h6v6h-6zM1130 109h6v6h-6z"/><path fill="#443a83" d="M986 -5h6v6h-6zM992 7h6v6h-6zM998 13h6v6h-6zM1010 25h6v6h-6zM1016 31h6v6h-6zM1022 37h6v6h-6zM1046 55h6v6h-6zM1052 61h6v6h-6zM1058 67h6v6h-6zM1064 73h6v6h-6zM1082 85h6v6h-6zM1100 97h6v6h-6zM1112 103h6v6h-6z"/><path fill="#433d84" d="M986 1h6v6h-6zM998 19h6v6h-6zM1004 25h6v6h-6zM1010 31h6v6h-6zM1028 43h6v6h-6zM1034 49h6v6h-6zM1040 55h6v6h-6zM1046 61h6v6h-6zM1070 79h6v6h-6zM1076 85h6v6h-6zM1088 91h6v6h-6zM1124 109h6v6h-6z"/><path fill="#424086" d="M980 -5h6v6h-6zM986 7h6v6h-6zM992 13h6v6h-6zM1016 37h6v6h-6zM1022 43h6v6h-6zM1052 67h6v6h-6zM1058 73h6v6h-6zM1064 79h6v6h-6zM1082 91h6v6h-6zM1094 97h6v6h-6zM1106 103h6v6h-6zM1118 109h6v6h-6zM1130 115h6v6h-6z"/><path fill="#414487" d="M980 1h6v6h-6zM986 13h6v6h-6zM992 19h6v6h-6zM998 25h6v6h-6zM1004 31h6v6h-6zM1010 37h6v6h-6zM1028 49h6v6h-6zM1034 55h6v6h-6zM1040 61h6v6h-6zM1046 67h6v6h-6zM1070 85h6v6h-6zM1088 97h6v6h-6zM1100 103h6v6h-6zM1112 109h6v6h-6zM1124 115h6v6h-6z"/><path fill="#404688" d="M974 -5h6v6h-6zM980 7h6v6h-6zM998 31h6v6h-6zM1016 43h6v6h-6zM1022 49h6v6h-6zM1028 55h6v6h-6zM1052 73h6v6h-6zM1058 79h6v6h-6zM1064 85h6v6h-6zM1076 91h6v6h-6zM1082 97h6v6h-6zM1094 103h6v6h-6zM1106 109h6v6h-6zM1118 115h6v6h-6z"/><path fill="#3e4989" d="M974 1h6v6h-6zM980 13h6v6h-6zM986 19h6v6h-6zM992 25h6v6h-6zM1004 37h6v6h-6zM1010 43h6v6h-6zM1034 61h6v6h-6zM1040 67h6v6h-6zM1046 73h6v6h-6zM1052 79h6v6h-6zM1070 91h6v6h-6zM1088 103h6v6h-6zM1100 109h6v6h-6zM1130 121h6v6h-6z"/><path fill="#3d4d8a" d="M968 -5h6v6h-6zM974 7h6v6h-6zM986 25h6v6h-6zM992 31h6v6h-6zM998 37h6v6h-6zM1004 43h6v6h-6zM1016 49h6v6h-6zM1022 55h6v6h-6zM1028 61h6v6h-6zM1034 67h6v6h-6zM1058 85h6v6h-6zM1076 97h6v6h-6zM1112 115h6v6h-6zM1124 121h6v6h-6z"/><path fill="#3c4f8a" d="M968 1h6v6h-6zM974 13h6v6h-6zM980 19h6v6h-6zM1010 49h6v6h-6zM1016 55h6v6h-6zM1040 73h6v6h-6zM1046 79h6v6h-6zM1052 85h6v6h-6zM1064 91h6v6h-6zM1070 97h6v6h-6zM1082 103h6v6h-6zM1094 109h6v6h-6zM1106 115h6v6h-6zM1118 121h6v6h-6zM1130 127h6v6h-6z"/><path fill="#3b528b" d="M962 -5h6v6h-6zM968 7h6v6h-6zM980 25h6v6h-6zM986 31h6v6h-6zM992 37h6v6h-6zM998 43h6v6h-6zM1004 49h6v6h-6zM1022 61h6v6h-6zM1028 67h6v6h-6zM1034 73h6v6h-6zM1040 79h6v6h-6zM1058 91h6v6h-6zM1076 103h6v6h-6zM1088 109h6v6h-6zM1100 115h6v6h-6zM1112 121h6v6h-6zM1124 127h6v6h-6z"/><path fill="#39558c" d="M962 1h6v6h-6zM968 13h6v6h-6zM974 19h6v6h-6zM986 37h6v6h-6zM992 43h6v6h-6zM998 49h6v6h-6zM1010 55h6v6h-6zM1016 61h6v6h-6zM1022 67h6v6h-6zM1028 73h6v6h-6zM1046 85h6v6h-6zM1052 91h6v6h-6zM1064 97h6v6h-6zM1070 103h6v6h-6zM1082 109h6v6h-6zM1094 115h6v6h-6zM1106 121h6v6h-6z"/><path fill="#38598c" d="M956 -5h6v6h-6zM962 7h6v6h-6zM974 25h6v6h-6zM980 31h6v6h-6zM1004 55h6v6h-6zM1010 61h6v6h-6zM1016 67h6v6h-6zM1034 79h6v6h-6zM1040 85h6v6h-6zM1046 91h6v6h-6zM1058 97h6v6h-6zM1076 109h6v6h-6zM1088 115h6v6h-6zM1100 121h6v6h-6zM1118 127h6v6h-6zM1130 133h6v6h-6z"/><path fill="#375b8d" d="M956 1h6v6h-6zM962 13h6v6h-6zM968 19h6v6h-6zM980 37h6v6h-6zM986 43h6v6h-6zM992 49h6v6h-6zM998 55h6v6h-6zM1004 61h6v6h-6zM1022 73h6v6h-6zM1028 79h6v6h-6zM1034 85h6v6h-6zM1052 97h6v6h-6zM1064 103h6v6h-6zM1070 109h6v6h-6zM1082 115h6v6h-6zM1094 121h6v6h-6zM1112 127h6v6h-6zM1124 133h6v6h-6z"/><path fill="#355e8d" d="M956 7h6v6h-6zM968 25h6v6h-6zM974 31h6v6h-6zM986 49h6v6h-6zM992 55h6v6h-6zM1010 67h6v6h-6zM1016 73h6v6h-6zM1022 79h6v6h-6zM1028 85h6v6h-6zM1040 91h6v6h-6zM1046 97h6v6h-6zM1058 103h6v6h-6zM1076 115h6v6h-6zM1088 121h6v6h-6zM1106 127h6v6h-6zM1118 133h6v6h-6z"/><path fill="#34618d" d="M950 -5h6v6h-6zM950 1h6v6h-6zM956 13h6v6h-6zM962 19h6v6h-6zM968 31h6v6h-6zM974 37h6v6h-6zM980 43h6v6h-6zM998 61h6v6h-6zM1004 67h6v6h-6zM1010 73h6v6h-6zM1016 79h6v6h-6zM1034 91h6v6h-6zM1040 97h6v6h-6zM1052 103h6v6h-6zM1064 109h6v6h-6zM1100 127h6v6h-6zM1112 133h6v6h-6zM1130 139h6v6h-6z"/><path fill="#33638d" d="M950 7h6v6h-6zM962 25h6v6h-6zM980 49h6v6h-6zM986 55h6v6h-6zM992 61h6v6h-6zM998 67h6v6h-6zM1004 73h6v6h-6zM1010 79h6v6h-6zM1022 85h6v6h-6zM1028 91h6v6h-6zM1046 103h6v6h-6zM1058 109h6v6h-6zM1070 115h6v6h-6zM1082 121h6v6h-6zM1094 127h6v6h-6zM1106 133h6v6h-6zM1124 139h6v6h-6z"/><path fill="#31668e" d="M944 -5h6v6h-6zM956 19h6v6h-6zM962 31h6v6h-6zM968 37h6v6h-6zM974 43h6v6h-6zM986 61h6v6h-6zM992 67h6v6h-6zM998 73h6v6h-6zM1016 85h6v6h-6zM1022 91h6v6h-6zM1034 97h6v6h-6zM1040 103h6v6h-6zM1052 109h6v6h-6zM1064 115h6v6h-6zM1076 121h6v6h-6zM1088 127h6v6h-6zM1100 133h6v6h-6zM1118 139h6v6h-6z"/><path fill="#30698e" d="M944 1h6v6h-6zM950 13h6v6h-6zM956 25h6v6h-6zM974 49h6v6h-6zM980 55h6v6h-6zM1004 79h6v6h-6zM1010 85h6v6h-6zM1016 91h6v6h-6zM1028 97h6v6h-6zM1034 103h6v6h-6zM1046 109h6v6h-6zM1058 115h6v6h-6zM1070 121h6v6h-6zM1082 127h6v6h-6zM1094 133h6v6h-6zM1112 139h6v6h-6zM1130 145h6v6h-6z"/><path fill="#2f6b8e" d="M944 7h6v6h-6zM950 19h6v6h-6zM956 31h6v6h-6zM962 37h6v6h-6zM968 43h6v6h-6zM980 61h6v6h-6zM986 67h6v6h-6zM992 73h6v6h-6zM998 79h6v6h-6zM1004 85h6v6h-6zM1010 91h6v6h-6zM1022 97h6v6h-6zM1028 103h6v6h-6zM1040 109h6v6h-6zM1052 115h6v6h-6zM1064 121h6v6h-6zM1076 127h6v6h-6zM1088 133h6v6h-6zM1106 139h6v6h-6zM1124 145h6v6h-6z"/><path fill="#2e6e8e" d="M938 -5h6v6h-6zM944 13h6v6h-6zM950 25h6v6h-6zM962 43h6v6h-6zM968 49h6v6h-6zM974 55h6v6h-6zM986 73h6v6h-6zM992 79h6v6h-6zM998 85h6v6h-6zM1016 97h6v6h-6zM1022 103h6v6h-6zM1034 109h6v6h-6zM1046 115h6v6h-6zM1058 121h6v6h-6zM1070 127h6v6h-6zM1082 133h6v6h-6zM1100 139h6v6h-6zM1118 145h6v6h-6z"/><path fill="#2d718e" d="M938 1h6v6h-6zM938 7h6v6h-6zM944 19h6v6h-6zM950 31h6v6h-6zM956 37h6v6h-6zM974 61h6v6h-6zM980 67h6v6h-6zM1004 91h6v6h-6zM1010 97h6v6h-6zM1028 109h6v6h-6zM1040 115h6v6h-6zM1052 121h6v6h-6zM1064 127h6v6h-6zM1076 133h6v6h-6zM1094 139h6v6h-6zM1112 145h6v6h-6zM1130 151h6v6h-6z"/><path fill="#2c738e" d="M938 13h6v6h-6zM944 25h6v6h-6zM956 43h6v6h-6zM962 49h6v6h-6zM968 55h6v6h-6zM974 67h6v6h-6zM980 73h6v6h-6zM986 79h6v6h-6zM992 85h6v6h-6zM998 91h6v6h-6zM1004 97h6v6h-6zM1016 103h6v6h-6zM1022 109h6v6h-6zM1034 115h6v6h-6zM1046 121h6v6h-6zM1058 127h6v6h-6zM1070 133h6v6h-6zM1088 139h6v6h-6zM1106 145h6v6h-6zM1124 151h6v6h-6z"/><path fill="#2b758e" d="M932 -5h6v6h-6zM932 1h6v6h-6zM938 19h6v6h-6zM950 37h6v6h-6zM968 61h6v6h-6zM980 79h6v6h-6zM986 85h6v6h-6zM992 91h6v6h-6zM1010 103h6v6h-6zM1016 109h6v6h-6zM1028 115h6v6h-6zM1040 121h6v6h-6zM1052 127h6v6h-6zM1064 133h6v6h-6zM1082 139h6v6h-6zM1100 145h6v6h-6zM1118 151h6v6h-6z"/><path fill="#2a788e" d="M932 7h6v6h-6zM932 13h6v6h-6zM938 25h6v6h-6zM944 31h6v6h-6zM950 43h6v6h-6zM956 49h6v6h-6zM962 55h6v6h-6zM968 67h6v6h-6zM974 73h6v6h-6zM998 97h6v6h-6zM1004 103h6v6h-6zM1046 127h6v6h-6zM1058 133h6v6h-6zM1076 139h6v6h-6zM1094 145h6v6h-6zM1112 151h6v6h-6zM1130 157h6v6h-6z"/><path fill="#297b8e" d="M926 -5h6v6h-6zM944 37h6v6h-6zM962 61h6v6h-6zM974 79h6v6h-6zM980 85h6v6h-6zM986 91h6v6h-6zM992 97h6v6h-6zM1010 109h6v6h-6zM1022 115h6v6h-6zM1034 121h6v6h-6zM1070 139h6v6h-6zM1082 145h12v6h-12zM1106 151h6v6h-6zM1124 157h6v6h-6z"/><path fill="#287d8e" d="M926 1h6v6h-6zM932 19h6v6h-6zM938 31h6v6h-6zM944 43h6v6h-6zM950 49h6v6h-6zM956 55h6v6h-6zM962 67h6v6h-6zM968 73h6v6h-6zM998 103h6v6h-6zM1004 109h6v6h-6zM1016 115h6v6h-6zM1028 121h6v6h-6zM1040 127h6v6h-6zM1052 133h6v6h-6zM1064 139h6v6h-6zM1076 145h6v6h-6zM1094 151h12v6h-12zM1118 157h6v6h-6z"/><path fill="#27808e" d="M926 7h6v6h-6zM926 13h6v6h-6zM932 25h6v6h-6zM938 37h6v6h-6zM950 55h6v6h-6zM956 61h6v6h-6zM968 79h6v6h-6zM974 85h6v6h-6zM980 91h6v6h-6zM986 97h6v6h-6zM992 103h6v6h-6zM1010 115h6v6h-6zM1022 121h6v6h-6zM1034 127h6v6h-6zM1046 133h6v6h-6zM1058 139h6v6h-6zM1070 145h6v6h-6zM1088 151h6v6h-6zM1112 157h6v6h-6zM1130 163h6v6h-6z"/><path fill="#26828e" d="M920 -5h6v6h-6zM926 19h6v6h-6zM932 31h6v6h-6zM944 49h6v6h-6zM956 67h6v6h-6zM962 73h6v6h-6zM998 109h6v6h-6zM1004 115h6v6h-6zM1016 121h6v6h-6zM1028 127h6v6h-6zM1040 133h6v6h-6zM1052 139h6v6h-6zM1064 145h6v6h-6zM1082 151h6v6h-6zM1100 157h12v6h-12zM1124 163h6v6h-6z"/><path fill="#25848e" d="M920 1h6v6h-6zM920 7h6v6h-6zM926 25h6v6h-6zM932 37h6v6h-6zM938 43h6v6h-6zM944 55h6v6h-6zM950 61h6v6h-6zM962 79h6v6h-6zM968 85h6v6h-6zM974 91h6v6h-6zM980 97h6v6h-6zM986 103h6v6h-6zM992 109h6v6h-6zM1010 121h6v6h-6zM1022 127h6v6h-6zM1034 133h6v6h-6zM1046 139h6v6h-6zM1076 151h6v6h-6zM1094 157h6v6h-6zM1112 163h12v6h-12zM1130 169h6v6h-6z"/><path fill="#24878e" d="M920 13h6v6h-6zM926 31h6v6h-6zM938 49h6v6h-6zM950 67h6v6h-6zM956 73h6v6h-6zM998 115h6v6h-6zM1058 145h6v6h-6zM1070 151h6v6h-6zM1088 157h6v6h-6zM1106 163h6v6h-6zM1124 169h6v6h-6z"/><path fill="#238a8d" d="M914 -5h6v6h-6zM914 1h6v6h-6zM920 19h6v6h-6zM932 43h6v6h-6zM938 55h6v6h-6zM944 61h6v6h-6zM956 79h6v6h-6zM962 85h6v6h-6zM968 91h6v6h-6zM974 97h6v6h-6zM980 103h6v6h-6zM986 109h6v6h-6zM1004 121h6v6h-6zM1016 127h6v6h-6zM1028 133h6v6h-6zM1040 139h6v6h-6zM1052 145h6v6h-6zM1064 151h6v6h-6zM1082 157h6v6h-6zM1100 163h6v6h-6zM1118 169h6v6h-6z"/><path fill="#228c8d" d="M914 7h6v6h-6zM920 25h6v6h-6zM926 37h6v6h-6zM932 49h6v6h-6zM944 67h6v6h-6zM950 73h6v6h-6zM992 115h6v6h-6zM998 121h6v6h-6zM1010 127h6v6h-6zM1022 133h6v6h-6zM1034 139h6v6h-6zM1046 145h6v6h-6zM1058 151h6v6h-6zM1076 157h6v6h-6zM1094 163h6v6h-6zM1112 169h6v6h-6zM1130 175h6v6h-6z"/><path fill="#218f8d" d="M914 13h6v6h-6zM914 19h6v6h-6zM920 31h6v6h-6zM926 43h6v6h-6zM932 55h6v6h-6zM938 61h6v6h-6zM950 79h6v6h-6zM956 85h6v6h-6zM962 91h6v6h-6zM968 97h6v6h-6zM974 103h6v6h-6zM980 109h6v6h-6zM986 115h6v6h-6zM1004 127h6v6h-6zM1016 133h6v6h-6zM1028 139h6v6h-6zM1040 145h6v6h-6zM1052 151h6v6h-6zM1070 157h6v6h-6zM1082 163h12v6h-12zM1106 169h6v6h-6zM1124 175h6v6h-6z"/><path fill="#20928c" d="M908 -5h6v6h-6zM908 1h6v6h-6zM914 25h6v6h-6zM920 37h6v6h-6zM926 49h6v6h-6zM938 67h6v6h-6zM944 73h6v6h-6zM956 91h6v6h-6zM962 97h6v6h-6zM992 121h6v6h-6zM1010 133h6v6h-6zM1022 139h6v6h-6zM1034 145h6v6h-6zM1046 151h6v6h-6zM1064 157h6v6h-6zM1076 163h6v6h-6zM1094 169h12v6h-12zM1112 175h12v6h-12zM1130 181h6v6h-6z"/><path fill="#1f948c" d="M908 7h6v6h-6zM908 13h6v6h-6zM914 31h6v6h-6zM920 43h6v6h-6zM926 55h6v6h-6zM932 61h6v6h-6zM944 79h6v6h-6zM950 85h6v6h-6zM968 103h6v6h-6zM974 109h6v6h-6zM980 115h6v6h-6zM986 121h6v6h-6zM998 127h6v6h-6zM1016 139h6v6h-6zM1028 145h6v6h-6zM1040 151h6v6h-6zM1058 157h6v6h-6zM1070 163h6v6h-6zM1088 169h6v6h-6zM1106 175h6v6h-6zM1124 181h6v6h-6zM1130 187h6v6h-6z"/><path fill="#1f968b" d="M908 19h6v6h-6zM914 37h6v6h-6zM920 49h6v6h-6zM932 67h6v6h-6zM938 73h6v6h-6zM944 85h6v6h-6zM950 91h6v6h-6zM956 97h6v6h-6zM962 103h6v6h-6zM992 127h6v6h-6zM1004 133h6v6h-6zM1052 157h6v6h-6zM1064 163h6v6h-6zM1076 169h12v6h-12zM1094 175h12v6h-12zM1112 181h12v6h-12z"/><path fill="#1f998a" d="M902 -5h6v6h-6zM902 1h6v6h-6zM908 25h6v6h-6zM914 43h6v6h-6zM920 55h6v6h-6zM926 61h6v6h-6zM932 73h6v6h-6zM938 79h6v6h-6zM944 91h6v6h-6zM950 97h6v6h-6zM968 109h6v6h-6zM974 115h6v6h-6zM980 121h6v6h-6zM986 127h6v6h-6zM998 133h6v6h-6zM1010 139h6v6h-6zM1022 145h6v6h-6zM1034 151h6v6h-6zM1046 157h6v6h-6zM1058 163h6v6h-6zM1070 169h6v6h-6zM1088 175h6v6h-6zM1100 181h12v6h-12zM1124 187h6v6h-6zM1130 193h6v6h-6z"/><path fill="#1e9c89" d="M902 7h6v6h-6zM902 13h6v6h-6zM908 31h6v6h-6zM914 49h6v6h-6zM926 67h6v6h-6zM938 85h6v6h-6zM956 103h6v6h-6zM962 109h6v6h-6zM968 115h6v6h-6zM974 121h6v6h-6zM992 133h6v6h-6zM1004 139h6v6h-6zM1016 145h6v6h-6zM1028 151h6v6h-6zM1040 157h6v6h-6zM1052 163h6v6h-6zM1064 169h6v6h-6zM1076 175h12v6h-12zM1094 181h6v6h-6zM1112 187h12v6h-12zM1124 193h6v6h-6zM1130 199h6v6h-6zM1130 205h6v6h-6z"/><path fill="#1f9e89" d="M902 19h6v6h-6zM902 25h6v6h-6zM908 37h6v6h-6zM908 43h6v6h-6zM914 55h6v6h-6zM920 61h6v6h-6zM926 73h6v6h-6zM932 79h6v6h-6zM938 91h6v6h-6zM944 97h6v6h-6zM950 103h6v6h-6zM980 127h6v6h-6zM986 133h6v6h-6zM998 139h6v6h-6zM1010 145h6v6h-6zM1022 151h6v6h-6zM1034 157h6v6h-6zM1046 163h6v6h-6zM1058 169h6v6h-6zM1070 175h6v6h-6zM1082 181h12v6h-12zM1094 187h18v6h-18zM1112 193h12v6h-12zM1118 199h12v6h-12zM1124 205h6v6h-6zM1124 211h12v6h-12zM1130 217h6v6h-6z"/><path fill="#1fa188" d="M896 -5h6v6h-6zM896 1h6v6h-6zM896 7h6v6h-6zM902 31h6v6h-6zM908 49h6v6h-6zM914 61h6v6h-6zM920 67h6v6h-6zM926 79h6v6h-6zM932 85h6v6h-6zM938 97h6v6h-6zM944 103h6v6h-6zM956 109h6v6h-6zM962 115h6v6h-6zM968 121h6v6h-6zM974 127h6v6h-6zM992 139h6v6h-6zM1004 145h6v6h-6zM1016 151h6v6h-6zM1028 157h6v6h-6zM1034 163h12v6h-12zM1046 169h12v6h-12zM1058 175h12v6h-12zM1070 181h12v6h-12zM1082 187h12v6h-12zM1094 193h18v6h-18zM1106 199h12v6h-12zM1112 205h12v6h-12zM1118 211h6v6h-6zM1124 217h6v6h-6zM1130 223h6v6h-6z"/><path fill="#20a386" d="M896 13h6v6h-6zM896 19h6v6h-6zM902 37h6v6h-6zM902 43h6v6h-6zM908 55h6v6h-6zM914 67h6v6h-6zM920 73h6v6h-6zM926 85h6v6h-6zM932 91h6v6h-6zM938 103h6v6h-6zM950 109h6v6h-6zM956 115h6v6h-6zM962 121h6v6h-6zM980 133h6v6h-6zM986 139h6v6h-6zM998 145h6v6h-6zM1010 151h6v6h-6zM1022 157h6v6h-6zM1028 163h6v6h-6zM1040 169h6v6h-6zM1052 175h6v6h-6zM1058 181h12v6h-12zM1070 187h12v6h-12zM1076 193h18v6h-18zM1094 199h12v6h-12zM1100 205h12v6h-12zM1106 211h12v6h-12zM1112 217h12v6h-12zM1118 223h12v6h-12zM1130 229h6v6h-6z"/><path fill="#21a585" d="M890 -5h6v6h-6zM896 25h6v6h-6zM896 31h6v6h-6zM902 49h6v6h-6zM908 61h6v6h-6zM914 73h6v6h-6zM920 79h6v6h-6zM926 91h6v6h-6zM932 97h6v6h-6zM944 109h6v6h-6zM950 115h6v6h-6zM968 127h6v6h-6zM974 133h6v6h-6zM992 145h6v6h-6zM1004 151h6v6h-6zM1010 157h12v6h-12zM1022 163h6v6h-6zM1034 169h6v6h-6zM1040 175h12v6h-12zM1052 181h6v6h-6zM1058 187h12v6h-12zM1064 193h12v6h-12zM1070 199h24v6h-24zM1082 205h18v6h-18zM1094 211h12v6h-12zM1106 217h6v6h-6zM1112 223h6v6h-6zM1118 229h12v6h-12zM1124 235h12v6h-12z"/><path fill="#22a884" d="M890 1h6v6h-6zM890 7h6v6h-6zM890 13h6v6h-6zM896 37h6v6h-6zM896 43h6v6h-6zM902 55h6v6h-6zM908 67h6v6h-6zM914 79h6v6h-6zM920 85h6v6h-6zM926 97h6v6h-6zM932 103h6v6h-6zM938 109h6v6h-6zM944 115h6v6h-6zM956 121h6v6h-6zM962 127h6v6h-6zM968 133h6v6h-6zM980 139h6v6h-6zM986 145h6v6h-6zM998 151h6v6h-6zM1004 157h6v6h-6zM1016 163h6v6h-6zM1028 169h6v6h-6zM1034 175h6v6h-6zM1040 181h12v6h-12zM1046 187h12v6h-12zM1052 193h12v6h-12zM1058 199h12v6h-12zM1064 205h18v6h-18zM1076 211h18v6h-18zM1088 217h18v6h-18zM1100 223h12v6h-12zM1106 229h12v6h-12zM1118 235h6v6h-6zM1124 241h12v6h-12z"/><path fill="#25ab82" d="M890 19h6v6h-6zM890 25h6v6h-6zM890 31h6v6h-6zM896 49h6v6h-6zM902 61h6v6h-6zM902 67h6v6h-6zM908 73h6v6h-6zM908 79h6v6h-6zM914 85h6v6h-6zM920 91h6v6h-6zM926 103h6v6h-6zM932 109h6v6h-6zM938 115h6v6h-6zM950 121h6v6h-6zM956 127h6v6h-6zM962 133h6v6h-6zM974 139h6v6h-6zM980 145h6v6h-6zM992 151h6v6h-6zM998 157h6v6h-6zM1010 163h6v6h-6zM1022 169h6v6h-6zM1028 175h6v6h-6zM1034 181h6v6h-6zM1040 187h6v6h-6zM1046 193h6v6h-6zM1052 199h6v6h-6zM1052 205h12v6h-12zM1058 211h18v6h-18zM1070 217h18v6h-18zM1088 223h12v6h-12zM1094 229h12v6h-12zM1106 235h12v6h-12zM1118 241h6v6h-6zM1124 247h12v6h-12z"/><path fill="#26ad81" d="M884 -5h6v6h-6zM884 1h6v6h-6zM890 37h6v6h-6zM890 43h6v6h-6zM896 55h6v6h-6zM896 61h6v6h-6zM902 73h6v6h-6zM908 85h6v6h-6zM914 91h6v6h-6zM920 97h6v6h-6zM926 109h6v6h-6zM944 121h6v6h-6zM950 127h6v6h-6zM968 139h6v6h-6zM974 145h6v6h-6zM986 151h6v6h-6zM992 157h6v6h-6zM1004 163h6v6h-6zM1010 169h12v6h-12zM1022 175h6v6h-6zM1028 181h6v6h-6zM1034 187h6v6h-6zM1040 193h6v6h-6zM1046 199h6v6h-6zM1046 205h6v6h-6zM1052 211h6v6h-6zM1058 217h12v6h-12zM1070 223h18v6h-18zM1082 229h12v6h-12zM1094 235h12v6h-12zM1106 241h12v6h-12zM1118 247h6v6h-6zM1124 253h12v6h-12zM1130 259h6v6h-6z"/><path fill="#29af7f" d="M884 7h6v6h-6zM884 13h6v6h-6zM884 19h6v6h-6zM884 25h6v6h-6zM890 49h6v6h-6zM890 55h6v6h-6zM896 67h6v6h-6zM896 73h6v6h-6zM902 79h6v6h-6zM908 91h6v6h-6zM914 97h6v6h-6zM920 103h6v6h-6zM932 115h6v6h-6zM938 121h6v6h-6zM944 127h6v6h-6zM956 133h6v6h-6zM962 139h6v6h-6zM968 145h6v6h-6zM980 151h6v6h-6zM986 157h6v6h-6zM998 163h6v6h-6zM1004 169h6v6h-6zM1016 175h6v6h-6zM1022 181h6v6h-6zM1028 187h6v6h-6zM1034 193h6v6h-6zM1040 199h6v6h-6zM1040 205h6v6h-6zM1046 211h6v6h-6zM1052 217h6v6h-6zM1058 223h12v6h-12zM1070 229h12v6h-12zM1082 235h12v6h-12zM1094 241h12v6h-12zM1106 247h12v6h-12zM1118 253h6v6h-6zM1124 259h6v6h-6zM1130 265h6v6h-6z"/><path fill="#2db27d" d="M884 31h6v6h-6zM884 37h6v6h-6zM884 43h6v6h-6zM884 49h6v6h-6zM890 61h6v6h-6zM890 67h6v6h-6zM896 79h6v6h-6zM902 85h6v6h-6zM902 91h6v6h-6zM908 97h6v6h-6zM914 103h6v6h-6zM920 109h6v6h-6zM926 115h6v6h-6zM932 121h6v6h-6zM938 127h6v6h-6zM950 133h6v6h-6zM956 139h6v6h-6zM962 145h6v6h-6zM974 151h6v6h-6zM980 157h6v6h-6zM992 163h6v6h-6zM998 169h6v6h-6zM1010 175h6v6h-6zM1016 181h6v6h-6zM1022 187h6v6h-6zM1028 193h6v6h-6zM1028 199h12v6h-12zM1034 205h6v6h-6zM1040 211h6v6h-6zM1046 217h6v6h-6zM1052 223h6v6h-6zM1058 229h12v6h-12zM1070 235h12v6h-12zM1082 241h12v6h-12zM1094 247h12v6h-12zM1106 253h12v6h-12zM1118 259h6v6h-6zM1124 265h6v6h-6z"/><path fill="#31b57b" d="M878 -5h6v6h-6zM878 1h6v6h-6zM878 7h6v6h-6zM878 13h6v6h-6zM878 19h6v6h-6zM878 25h6v6h-6zM884 55h6v6h-6zM884 61h6v6h-6zM890 73h6v6h-6zM890 79h6v6h-6zM896 85h6v6h-6zM902 97h6v6h-6zM908 103h6v6h-6zM914 109h6v6h-6zM920 115h6v6h-6zM926 121h6v6h-6zM932 127h6v6h-6zM944 133h6v6h-6zM950 139h6v6h-6zM956 145h6v6h-6zM968 151h6v6h-6zM974 157h6v6h-6zM986 163h6v6h-6zM992 169h6v6h-6zM998 175h12v6h-12zM1010 181h6v6h-6zM1016 187h6v6h-6zM1022 193h6v6h-6zM1022 199h6v6h-6zM1028 205h6v6h-6zM1034 211h6v6h-6zM1040 217h6v6h-6zM1046 223h6v6h-6zM1052 229h6v6h-6zM1058 235h12v6h-12zM1070 241h12v6h-12zM1082 247h12v6h-12zM1094 253h12v6h-12zM1106 259h12v6h-12zM1112 265h12v6h-12z"/><path fill="#34b679" d="M878 31h6v6h-6zM878 37h6v6h-6zM878 43h6v6h-6zM878 49h6v6h-6zM878 55h6v6h-6zM884 67h6v6h-6zM884 73h6v6h-6zM890 85h6v6h-6zM896 91h6v6h-6zM896 97h6v6h-6zM902 103h6v6h-6zM908 109h6v6h-6zM914 115h6v6h-6zM920 121h6v6h-6zM926 127h6v6h-6zM938 133h6v6h-6zM944 139h6v6h-6zM950 145h6v6h-6zM962 151h6v6h-6zM968 157h6v6h-6zM980 163h6v6h-6zM986 169h6v6h-6zM992 175h6v6h-6zM998 181h12v6h-12zM1010 187h6v6h-6zM1016 193h6v6h-6zM1016 199h6v6h-6zM1022 205h6v6h-6zM1028 211h6v6h-6zM1034 217h6v6h-6zM1040 223h6v6h-6zM1046 229h6v6h-6zM1052 235h6v6h-6zM1058 241h12v6h-12zM1070 247h12v6h-12zM1082 253h12v6h-12zM1094 259h12v6h-12zM1106 265h6v6h-6z"/><path fill="#38b977" d="M872 1h6v6h-6zM872 7h6v6h-6zM872 13h6v6h-6zM872 19h6v6h-6zM872 25h6v6h-6zM878 61h6v6h-6zM878 67h6v6h-6zM878 73h6v6h-6zM884 79h6v6h-6zM884 85h6v6h-6zM890 91h6v6h-6zM896 103h6v6h-6zM902 109h6v6h-6zM908 115h6v6h-6zM914 121h6v6h-6zM920 127h6v6h-6zM932 133h6v6h-6zM938 139h6v6h-6zM944 145h6v6h-6zM956 151h6v6h-6zM962 157h6v6h-6zM968 163h12v6h-12zM980 169h6v6h-6zM986 175h6v6h-6zM992 181h6v6h-6zM998 187h12v6h-12zM1010 193h6v6h-6zM1010 199h6v6h-6zM1016 205h6v6h-6zM1022 211h6v6h-6zM1028 217h6v6h-6zM1034 223h6v6h-6zM1040 229h6v6h-6zM1046 235h6v6h-6zM1052 241h6v6h-6zM1058 247h12v6h-12zM1070 253h12v6h-12zM1082 259h12v6h-12zM1094 265h12v6h-12z"/><path fill="#3dbc74" d="M872 -5h6v6h-6zM872 31h6v6h-6zM872 37h6v6h-6zM872 43h6v6h-6zM872 49h6v6h-6zM872 55h6v6h-6zM872 61h6v6h-6zM872 67h6v6h-6zM872 73h6v6h-6zM878 79h6v6h-6zM878 85h6v6h-6zM884 91h6v6h-6zM890 97h6v6h-6zM890 103h6v6h-6zM896 109h6v6h-6zM902 115h6v6h-6zM908 121h6v6h-6zM914 127h6v6h-6zM920 133h12v6h-12zM932 139h6v6h-6zM938 145h6v6h-6zM950 151h6v6h-6zM956 157h6v6h-6zM962 163h6v6h-6zM974 169h6v6h-6zM980 175h6v6h-6zM986 181h6v6h-6zM992 187h6v6h-6zM998 193h12v6h-12zM1004 199h6v6h-6zM1010 205h6v6h-6zM1016 211h6v6h-6zM1022 217h6v6h-6zM1028 223h6v6h-6zM1034 229h6v6h-6zM1040 235h6v6h-6zM1046 241h6v6h-6zM1052 247h6v6h-6zM1064 253h6v6h-6zM1070 259h12v6h-12zM1082 265h12v6h-12z"/><path fill="#40bd72" d="M866 19h6v6h-6zM866 25h6v6h-6zM866 31h6v6h-6zM866 37h6v6h-6zM866 43h6v6h-6zM866 49h6v6h-6zM866 55h6v6h-6zM866 61h6v6h-6zM866 67h6v6h-6zM872 79h6v6h-6zM878 91h6v6h-6zM884 97h6v6h-6zM890 109h6v6h-6zM896 115h6v6h-6zM902 121h6v6h-6zM908 127h6v6h-6zM914 133h6v6h-6zM926 139h6v6h-6zM932 145h6v6h-6zM938 151h12v6h-12zM950 157h6v6h-6zM956 163h6v6h-6zM968 169h6v6h-6zM974 175h6v6h-6zM980 181h6v6h-6zM986 187h6v6h-6zM992 193h6v6h-6zM998 199h6v6h-6zM1004 205h6v6h-6zM1010 211h6v6h-6zM1016 217h6v6h-6zM1022 223h6v6h-6zM1028 229h6v6h-6zM1034 235h6v6h-6zM1040 241h6v6h-6zM1046 247h6v6h-6zM1052 253h12v6h-12zM1064 259h6v6h-6zM1070 265h12v6h-12z"/><path fill="#46c06f" d="M866 -5h6v6h-6zM866 1h6v6h-6zM866 7h6v6h-6zM866 13h6v6h-6zM860 55h6v6h-6zM866 73h6v6h-6zM866 79h6v6h-6zM872 85h6v6h-6zM872 91h6v6h-6zM878 97h6v6h-6zM884 103h6v6h-6zM884 109h6v6h-6zM890 115h6v6h-6zM896 121h6v6h-6zM902 127h6v6h-6zM908 133h6v6h-6zM920 139h6v6h-6zM926 145h6v6h-6zM932 151h6v6h-6zM944 157h6v6h-6zM950 163h6v6h-6zM956 169h12v6h-12zM968 175h6v6h-6zM974 181h6v6h-6zM980 187h6v6h-6zM986 193h6v6h-6zM992 199h6v6h-6zM998 205h6v6h-6zM1004 211h6v6h-6zM1010 217h6v6h-6zM1016 223h6v6h-6zM1022 229h6v6h-6zM1028 235h6v6h-6zM1034 241h6v6h-6zM1040 247h6v6h-6zM1046 253h6v6h-6zM1052 259h12v6h-12zM1064 265h6v6h-6z"/><path fill="#4cc26c" d="M860 19h6v6h-6zM860 25h6v6h-6zM860 31h6v6h-6zM860 37h6v6h-6zM860 43h6v6h-6zM860 49h6v6h-6zM860 61h6v6h-6zM860 67h6v6h-6zM860 73h6v6h-6zM860 79h6v6h-6zM866 85h6v6h-6zM866 91h6v6h-6zM872 97h6v6h-6zM878 103h6v6h-6zM878 109h6v6h-6zM884 115h6v6h-6zM890 121h6v6h-6zM896 127h6v6h-6zM902 133h6v6h-6zM914 139h6v6h-6zM920 145h6v6h-6zM926 151h6v6h-6zM938 157h6v6h-6zM944 163h6v6h-6zM950 169h6v6h-6zM962 175h6v6h-6zM968 181h6v6h-6zM974 187h6v6h-6zM980 193h6v6h-6zM986 199h6v6h-6zM992 205h6v6h-6zM998 211h6v6h-6zM1004 217h6v6h-6zM1010 223h6v6h-6zM1016 229h6v6h-6zM1022 235h6v6h-6zM1022 241h12v6h-12zM1034 247h6v6h-6zM1040 253h6v6h-6zM1046 259h6v6h-6zM1052 265h12v6h-12z"/><path fill="#50c46a" d="M860 -5h6v6h-6zM860 1h6v6h-6zM860 7h6v6h-6zM860 13h6v6h-6zM854 31h6v6h-6zM854 37h6v6h-6zM854 43h6v6h-6zM854 49h6v6h-6zM854 55h6v6h-6zM854 61h6v6h-6zM854 67h6v6h-6zM854 73h6v6h-6zM854 79h6v6h-6zM860 85h6v6h-6zM860 91h6v6h-6zM866 97h6v6h-6zM872 103h6v6h-6zM872 109h6v6h-6zM878 115h6v6h-6zM884 121h6v6h-6zM890 127h6v6h-6zM896 133h6v6h-6zM902 139h12v6h-12zM914 145h6v6h-6zM920 151h6v6h-6zM926 157h12v6h-12zM938 163h6v6h-6zM944 169h6v6h-6zM950 175h12v6h-12zM962 181h6v6h-6zM968 187h6v6h-6zM974 193h6v6h-6zM980 199h6v6h-6zM986 205h6v6h-6zM992 211h6v6h-6zM998 217h6v6h-6zM1004 223h6v6h-6zM1010 229h6v6h-6zM1016 235h6v6h-6zM1016 241h6v6h-6zM1022 247h12v6h-12zM1034 253h6v6h-6zM1040 259h6v6h-6zM1046 265h6v6h-6z"/><path fill="#56c667" d="M854 13h6v6h-6zM854 19h6v6h-6zM854 25h6v6h-6zM848 37h6v6h-6zM848 43h6v6h-6zM848 49h6v6h-6zM848 55h6v6h-6zM848 61h6v6h-6zM848 67h6v6h-6zM848 73h6v6h-6zM854 85h6v6h-6zM854 91h6v6h-6zM860 97h6v6h-6zM866 103h6v6h-6zM872 115h6v6h-6zM878 121h6v6h-6zM884 127h6v6h-6zM890 133h6v6h-6zM896 139h6v6h-6zM908 145h6v6h-6zM914 151h6v6h-6zM920 157h6v6h-6zM932 163h6v6h-6zM938 169h6v6h-6zM944 175h6v6h-6zM950 181h12v6h-12zM962 187h6v6h-6zM968 193h6v6h-6zM974 199h6v6h-6zM980 205h6v6h-6zM986 211h6v6h-6zM992 217h6v6h-6zM998 223h6v6h-6zM1004 229h6v6h-6zM1010 235h6v6h-6zM1010 241h6v6h-6zM1016 247h6v6h-6zM1028 253h6v6h-6zM1034 259h6v6h-6zM1040 265h6v6h-6z"/><path fill="#5cc863" d="M854 1h6v6h-6zM854 7h6v6h-6zM848 25h6v6h-6zM848 31h6v6h-6zM842 43h6v6h-6zM842 49h6v6h-6zM842 55h6v6h-6zM842 61h6v6h-6zM842 67h6v6h-6zM842 73h6v6h-6zM848 79h6v6h-6zM848 85h6v6h-6zM854 97h6v6h-6zM860 103h6v6h-6zM866 109h6v6h-6zM866 115h6v6h-6zM872 121h6v6h-6zM878 127h6v6h-6zM884 133h6v6h-6zM890 139h6v6h-6zM902 145h6v6h-6zM908 151h6v6h-6zM914 157h6v6h-6zM920 163h12v6h-12zM932 169h6v6h-6zM938 175h6v6h-6zM944 181h6v6h-6zM956 187h6v6h-6zM962 193h6v6h-6zM968 199h6v6h-6zM974 205h6v6h-6zM980 211h6v6h-6zM986 217h6v6h-6zM992 223h6v6h-6zM998 229h6v6h-6zM1004 235h6v6h-6zM1004 241h6v6h-6zM1010 247h6v6h-6zM1016 253h12v6h-12zM1028 259h6v6h-6zM1034 265h6v6h-6z"/><path fill="#63cb5f" d="M854 -5h6v6h-6zM848 13h6v6h-6zM848 19h6v6h-6zM842 25h6v6h-6zM842 31h6v6h-6zM842 37h6v6h-6zM836 43h6v6h-6zM836 49h6v6h-6zM836 55h6v6h-6zM836 61h6v6h-6zM836 67h6v6h-6zM842 79h6v6h-6zM842 85h6v6h-6zM848 91h6v6h-6zM848 97h6v6h-6zM854 103h6v6h-6zM860 109h6v6h-6zM860 115h6v6h-6zM866 121h6v6h-6zM872 127h6v6h-6zM878 133h6v6h-6zM884 139h6v6h-6zM890 145h12v6h-12zM902 151h6v6h-6zM908 157h6v6h-6zM914 163h6v6h-6zM920 169h12v6h-12zM932 175h6v6h-6zM938 181h6v6h-6zM944 187h12v6h-12zM956 193h6v6h-6zM962 199h6v6h-6zM968 205h6v6h-6zM974 211h6v6h-6zM980 217h6v6h-6zM986 223h6v6h-6zM992 229h6v6h-6zM998 235h6v6h-6zM998 241h6v6h-6zM1004 247h6v6h-6zM1010 253h6v6h-6zM1016 259h12v6h-12zM1028 265h6v6h-6z"/><path fill="#67cc5c" d="M848 1h6v6h-6zM848 7h6v6h-6zM842 19h6v6h-6zM836 31h6v6h-6zM836 37h6v6h-6zM830 43h6v6h-6zM830 49h6v6h-6zM830 55h6v6h-6zM830 61h6v6h-6zM830 67h6v6h-6zM836 73h6v6h-6zM836 79h6v6h-6zM836 85h6v6h-6zM842 91h6v6h-6zM842 97h6v6h-6zM848 103h6v6h-6zM854 109h6v6h-6zM860 121h6v6h-6zM866 127h6v6h-6zM872 133h6v6h-6zM878 139h6v6h-6zM884 145h6v6h-6zM896 151h6v6h-6zM902 157h6v6h-6zM908 163h6v6h-6zM914 169h6v6h-6zM926 175h6v6h-6zM932 181h6v6h-6zM938 187h6v6h-6zM944 193h12v6h-12zM956 199h6v6h-6zM962 205h6v6h-6zM968 211h6v6h-6zM974 217h6v6h-6zM980 223h6v6h-6zM986 229h6v6h-6zM992 235h6v6h-6zM992 241h6v6h-6zM998 247h6v6h-6zM1004 253h6v6h-6zM1010 259h6v6h-6zM1022 265h6v6h-6z"/><path fill="#6ece58" d="M848 -5h6v6h-6zM842 13h6v6h-6zM836 25h6v6h-6zM830 31h6v6h-6zM830 37h6v6h-6zM824 49h6v6h-6zM824 55h6v6h-6zM824 61h6v6h-6zM830 73h6v6h-6zM830 79h6v6h-6zM836 91h6v6h-6zM842 103h6v6h-6zM848 109h6v6h-6zM854 115h6v6h-6zM854 121h6v6h-6zM860 127h6v6h-6zM866 133h6v6h-6zM872 139h6v6h-6zM878 145h6v6h-6zM884 151h12v6h-12zM896 157h6v6h-6zM902 163h6v6h-6zM908 169h6v6h-6zM914 175h12v6h-12zM926 181h6v6h-6zM932 187h6v6h-6zM938 193h6v6h-6zM944 199h12v6h-12zM950 205h12v6h-12zM962 211h6v6h-6zM968 217h6v6h-6zM974 223h6v6h-6zM980 229h6v6h-6zM986 235h6v6h-6zM986 241h6v6h-6zM992 247h6v6h-6zM998 253h6v6h-6zM1004 259h6v6h-6zM1010 265h12v6h-12z"/><path fill="#75d054" d="M842 1h6v6h-6zM842 7h6v6h-6zM836 13h6v6h-6zM836 19h6v6h-6zM830 25h6v6h-6zM824 31h6v6h-6zM824 37h6v6h-6zM824 43h6v6h-6zM824 67h6v6h-6zM824 73h6v6h-6zM824 79h6v6h-6zM830 85h6v6h-6zM830 91h6v6h-6zM836 97h6v6h-6zM836 103h6v6h-6zM842 109h6v6h-6zM848 115h6v6h-6zM854 127h6v6h-6zM860 133h6v6h-6zM866 139h6v6h-6zM872 145h6v6h-6zM878 151h6v6h-6zM890 157h6v6h-6zM896 163h6v6h-6zM902 169h6v6h-6zM908 175h6v6h-6zM914 181h12v6h-12zM926 187h6v6h-6zM932 193h6v6h-6zM938 199h6v6h-6zM944 205h6v6h-6zM950 211h12v6h-12zM962 217h6v6h-6zM968 223h6v6h-6zM974 229h6v6h-6zM974 235h12v6h-12zM980 241h6v6h-6zM986 247h6v6h-6zM992 253h6v6h-6zM998 259h6v6h-6zM1004 265h6v6h-6z"/><path fill="#7ad151" d="M842 -5h6v6h-6zM836 7h6v6h-6zM830 19h6v6h-6zM824 25h6v6h-6zM818 37h6v6h-6zM818 43h6v6h-6zM818 49h6v6h-6zM818 55h6v6h-6zM818 61h6v6h-6zM818 67h6v6h-6zM818 73h6v6h-6zM824 85h6v6h-6zM830 97h6v6h-6zM836 109h6v6h-6zM842 115h6v6h-6zM848 121h6v6h-6zM848 127h6v6h-6zM854 133h6v6h-6zM860 139h6v6h-6zM866 145h6v6h-6zM872 151h6v6h-6zM878 157h12v6h-12zM890 163h6v6h-6zM896 169h6v6h-6zM902 175h6v6h-6zM908 181h6v6h-6zM920 187h6v6h-6zM926 193h6v6h-6zM932 199h6v6h-6zM938 205h6v6h-6zM944 211h6v6h-6zM950 217h12v6h-12zM956 223h12v6h-12zM962 229h12v6h-12zM968 235h6v6h-6zM974 241h6v6h-6zM980 247h6v6h-6zM986 253h6v6h-6zM992 259h6v6h-6zM998 265h6v6h-6z"/><path fill="#81d34d" d="M836 1h6v6h-6zM830 13h6v6h-6zM824 19h6v6h-6zM818 31h6v6h-6zM812 37h6v6h-6zM812 43h6v6h-6zM812 49h6v6h-6zM812 55h6v6h-6zM812 61h6v6h-6zM812 67h6v6h-6zM818 79h6v6h-6zM818 85h6v6h-6zM824 91h6v6h-6zM824 97h6v6h-6zM830 103h6v6h-6zM830 109h6v6h-6zM836 115h6v6h-6zM842 121h6v6h-6zM848 133h6v6h-6zM854 139h6v6h-6zM860 145h6v6h-6zM866 151h6v6h-6zM872 157h6v6h-6zM884 163h6v6h-6zM890 169h6v6h-6zM896 175h6v6h-6zM902 181h6v6h-6zM908 187h12v6h-12zM920 193h6v6h-6zM926 199h6v6h-6zM932 205h6v6h-6zM938 211h6v6h-6zM944 217h6v6h-6zM950 223h6v6h-6zM956 229h6v6h-6zM962 235h6v6h-6zM968 241h6v6h-6zM974 247h6v6h-6zM980 253h6v6h-6zM986 259h6v6h-6zM992 265h6v6h-6z"/><path fill="#89d548" d="M836 -5h6v6h-6zM830 7h6v6h-6zM818 25h6v6h-6zM812 31h6v6h-6zM812 73h6v6h-6zM812 79h6v6h-6zM818 91h6v6h-6zM818 97h6v6h-6zM824 103h6v6h-6zM830 115h6v6h-6zM836 121h6v6h-6zM842 127h6v6h-6zM842 133h6v6h-6zM848 139h6v6h-6zM854 145h6v6h-6zM860 151h6v6h-6zM866 157h6v6h-6zM872 163h12v6h-12zM884 169h6v6h-6zM890 175h6v6h-6zM896 181h6v6h-6zM902 187h6v6h-6zM908 193h12v6h-12zM920 199h6v6h-6zM926 205h6v6h-6zM932 211h6v6h-6zM938 217h6v6h-6zM944 223h6v6h-6zM950 229h6v6h-6zM956 235h6v6h-6zM962 241h6v6h-6zM968 247h6v6h-6zM974 253h6v6h-6zM980 259h6v6h-6zM986 265h6v6h-6z"/><path fill="#8ed645" d="M830 1h6v6h-6zM824 13h6v6h-6zM818 19h6v6h-6zM812 25h6v6h-6zM806 37h6v6h-6zM806 43h6v6h-6zM806 49h6v6h-6zM806 55h6v6h-6zM806 61h6v6h-6zM806 67h6v6h-6zM806 73h6v6h-6zM812 85h6v6h-6zM812 91h6v6h-6zM818 103h6v6h-6zM824 109h6v6h-6zM824 115h6v6h-6zM830 121h6v6h-6zM836 127h6v6h-6zM842 139h6v6h-6zM848 145h6v6h-6zM854 151h6v6h-6zM860 157h6v6h-6zM866 163h6v6h-6zM878 169h6v6h-6zM884 175h6v6h-6zM890 181h6v6h-6zM896 187h6v6h-6zM902 193h6v6h-6zM908 199h12v6h-12zM920 205h6v6h-6zM926 211h6v6h-6zM932 217h6v6h-6zM938 223h6v6h-6zM944 229h6v6h-6zM950 235h6v6h-6zM956 241h6v6h-6zM962 247h6v6h-6zM968 253h6v6h-6zM974 259h6v6h-6zM980 265h6v6h-6z"/><path fill="#95d840" d="M824 7h6v6h-6zM818 13h6v6h-6zM812 19h6v6h-6zM806 25h6v6h-6zM806 31h6v6h-6zM800 43h6v6h-6zM800 49h6v6h-6zM800 55h6v6h-6zM800 61h6v6h-6zM806 79h6v6h-6zM806 85h6v6h-6zM812 97h6v6h-6zM818 109h6v6h-6zM824 121h6v6h-6zM830 127h6v6h-6zM836 133h6v6h-6zM842 145h6v6h-6zM848 151h6v6h-6zM854 157h6v6h-6zM860 163h6v6h-6zM866 169h12v6h-12zM878 175h6v6h-6zM884 181h6v6h-6zM890 187h6v6h-6zM896 193h6v6h-6zM902 199h6v6h-6zM914 205h6v6h-6zM920 211h6v6h-6zM926 217h6v6h-6zM932 223h6v6h-6zM938 229h6v6h-6zM944 235h6v6h-6zM950 241h6v6h-6zM956 247h6v6h-6zM962 253h6v6h-6zM968 259h6v6h-6zM974 265h6v6h-6z"/><path fill="#9dd93b" d="M830 -5h6v6h-6zM824 1h6v6h-6zM800 31h6v6h-6zM800 37h6v6h-6zM800 67h6v6h-6zM800 73h6v6h-6zM800 79h6v6h-6zM806 91h6v6h-6zM806 97h6v6h-6zM812 103h6v6h-6zM812 109h6v6h-6zM818 115h6v6h-6zM824 127h6v6h-6zM830 133h6v6h-6zM836 139h6v6h-6zM842 151h6v6h-6zM848 157h6v6h-6zM854 163h6v6h-6zM860 169h6v6h-6zM872 175h6v6h-6zM878 181h6v6h-6zM884 187h6v6h-6zM890 193h6v6h-6zM896 199h6v6h-6zM902 205h12v6h-12zM914 211h6v6h-6zM920 217h6v6h-6zM926 223h6v6h-6zM932 229h6v6h-6zM938 235h6v6h-6zM944 241h6v6h-6zM950 247h6v6h-6zM956 253h6v6h-6zM962 259h6v6h-6zM968 265h6v6h-6z"/><path fill="#a2da37" d="M818 7h6v6h-6zM812 13h6v6h-6zM806 19h6v6h-6zM800 85h6v6h-6zM800 91h6v6h-6zM806 103h6v6h-6zM812 115h6v6h-6zM818 121h6v6h-6zM818 127h6v6h-6zM824 133h6v6h-6zM830 139h6v6h-6zM836 145h6v6h-6zM842 157h6v6h-6zM848 163h6v6h-6zM854 169h6v6h-6zM866 175h6v6h-6zM872 181h6v6h-6zM878 187h6v6h-6zM884 193h6v6h-6zM890 199h6v6h-6zM896 205h6v6h-6zM902 211h12v6h-12zM914 217h6v6h-6zM920 223h6v6h-6zM926 229h6v6h-6zM932 235h6v6h-6zM938 241h6v6h-6zM944 247h6v6h-6zM950 253h6v6h-6zM956 259h6v6h-6zM962 265h6v6h-6z"/><path fill="#aadc32" d="M824 -5h6v6h-6zM800 25h6v6h-6zM800 97h6v6h-6zM806 109h6v6h-6zM812 121h6v6h-6zM818 133h6v6h-6zM824 139h6v6h-6zM830 145h6v6h-6zM836 151h6v6h-6zM860 175h6v6h-6zM866 181h6v6h-6zM872 187h6v6h-6zM878 193h6v6h-6zM884 199h6v6h-6zM890 205h6v6h-6zM896 211h6v6h-6zM902 217h12v6h-12zM914 223h6v6h-6zM920 229h6v6h-6zM926 235h6v6h-6zM932 241h6v6h-6zM938 247h6v6h-6zM944 253h6v6h-6zM950 259h6v6h-6zM956 265h6v6h-6z"/><path fill="#b2dd2d" d="M818 1h6v6h-6zM812 7h6v6h-6zM806 13h6v6h-6zM800 19h6v6h-6zM800 103h6v6h-6zM800 109h6v6h-6zM806 115h6v6h-6zM806 121h6v6h-6zM812 127h6v6h-6zM818 139h6v6h-6zM824 145h6v6h-6zM830 151h6v6h-6zM836 157h6v6h-6zM842 163h6v6h-6zM848 169h6v6h-6zM854 175h6v6h-6zM860 181h6v6h-6zM866 187h6v6h-6zM872 193h6v6h-6zM878 199h6v6h-6zM884 205h6v6h-6zM890 211h6v6h-6zM896 217h6v6h-6zM902 223h12v6h-12zM914 229h6v6h-6zM920 235h6v6h-6zM926 241h6v6h-6zM932 247h6v6h-6zM938 253h6v6h-6zM944 259h6v6h-6zM950 265h6v6h-6z"/><path fill="#bade28" d="M818 -5h6v6h-6zM800 115h6v6h-6zM806 127h6v6h-6zM812 133h6v6h-6zM818 145h6v6h-6zM824 151h6v6h-6zM830 157h6v6h-6zM836 163h6v6h-6zM842 169h6v6h-6zM848 175h6v6h-6zM854 181h6v6h-6zM860 187h6v6h-6zM866 193h6v6h-6zM872 199h6v6h-6zM878 205h6v6h-6zM884 211h6v6h-6zM890 217h6v6h-6zM896 223h6v6h-6zM902 229h12v6h-12zM914 235h6v6h-6zM920 241h6v6h-6zM926 247h6v6h-6zM932 253h6v6h-6zM938 259h6v6h-6zM944 265h6v6h-6z"/><path fill="#c0df25" d="M812 1h6v6h-6zM806 7h6v6h-6zM800 13h6v6h-6zM800 121h6v6h-6zM806 133h6v6h-6zM812 139h6v6h-6zM818 151h6v6h-6zM824 157h6v6h-6zM830 163h6v6h-6zM836 169h6v6h-6zM842 175h6v6h-6zM848 181h6v6h-6zM854 187h6v6h-6zM860 193h6v6h-6zM866 199h6v6h-6zM872 205h6v6h-6zM878 211h6v6h-6zM884 217h6v6h-6zM890 223h6v6h-6zM896 229h6v6h-6zM908 235h6v6h-6zM914 241h6v6h-6zM920 247h6v6h-6zM926 253h6v6h-6zM932 259h6v6h-6zM938 265h6v6h-6z"/><path fill="#c8e020" d="M800 127h6v6h-6zM800 133h6v6h-6zM806 139h6v6h-6zM812 145h6v6h-6zM812 151h6v6h-6zM818 157h6v6h-6zM824 163h6v6h-6zM830 169h6v6h-6zM836 175h6v6h-6zM842 181h6v6h-6zM848 187h6v6h-6zM854 193h6v6h-6zM860 199h6v6h-6zM866 205h6v6h-6zM872 211h6v6h-6zM878 217h6v6h-6zM884 223h6v6h-6zM890 229h6v6h-6zM896 235h12v6h-12zM908 241h6v6h-6zM914 247h6v6h-6zM920 253h6v6h-6zM926 259h6v6h-6zM932 265h6v6h-6z"/><path fill="#d0e11c" d="M812 -5h6v6h-6zM806 1h6v6h-6zM800 7h6v6h-6zM800 139h6v6h-6zM806 145h6v6h-6zM812 157h6v6h-6zM818 163h6v6h-6zM824 169h6v6h-6zM830 175h6v6h-6zM836 181h6v6h-6zM842 187h6v6h-6zM848 193h6v6h-6zM854 199h6v6h-6zM860 205h6v6h-6zM866 211h6v6h-6zM872 217h6v6h-6zM878 223h6v6h-6zM884 229h6v6h-6zM890 235h6v6h-6zM896 241h12v6h-12zM908 247h6v6h-6zM914 253h6v6h-6zM920 259h6v6h-6zM926 265h6v6h-6z"/><path fill="#d5e21a" d="M800 145h6v6h-6zM806 151h6v6h-6zM812 163h6v6h-6zM818 169h6v6h-6zM824 175h6v6h-6zM830 181h6v6h-6zM836 187h6v6h-6zM842 193h6v6h-6zM848 199h6v6h-6zM854 205h6v6h-6zM860 211h6v6h-6zM866 217h6v6h-6zM872 223h6v6h-6zM878 229h6v6h-6zM884 235h6v6h-6zM890 241h6v6h-6zM896 247h12v6h-12zM908 253h6v6h-6zM914 259h6v6h-6zM920 265h6v6h-6z"/><path fill="#dde318" d="M806 -5h6v6h-6zM800 1h6v6h-6zM800 151h6v6h-6zM806 157h6v6h-6zM812 169h6v6h-6zM818 175h6v6h-6zM824 181h6v6h-6zM830 187h6v6h-6zM836 193h6v6h-6zM842 199h6v6h-6zM848 205h6v6h-6zM854 211h6v6h-6zM860 217h6v6h-6zM866 223h6v6h-6zM872 229h6v6h-6zM878 235h6v6h-6zM884 241h6v6h-6zM890 247h6v6h-6zM902 253h6v6h-6zM908 259h6v6h-6zM914 265h6v6h-6z"/><path fill="#e5e419" d="M800 157h6v6h-6zM806 163h6v6h-6zM812 175h6v6h-6zM818 181h6v6h-6zM824 187h6v6h-6zM830 193h6v6h-6zM836 199h6v6h-6zM842 205h6v6h-6zM848 211h6v6h-6zM854 217h6v6h-6zM860 223h6v6h-6zM866 229h6v6h-6zM872 235h6v6h-6zM878 241h6v6h-6zM884 247h6v6h-6zM890 253h12v6h-12zM902 259h6v6h-6zM908 265h6v6h-6z"/><path fill="#eae51a" d="M800 -5h6v6h-6zM800 163h6v6h-6zM806 169h6v6h-6zM818 187h6v6h-6zM824 193h6v6h-6zM830 199h6v6h-6zM836 205h6v6h-6zM842 211h6v6h-6zM848 217h6v6h-6zM854 223h6v6h-6zM860 229h6v6h-6zM866 235h6v6h-6zM872 241h6v6h-6zM878 247h6v6h-6zM884 253h6v6h-6zM890 259h12v6h-12zM902 265h6v6h-6z"/><path fill="#f1e51d" d="M800 169h6v6h-6zM806 175h6v6h-6zM812 181h6v6h-6zM818 193h6v6h-6zM824 199h6v6h-6zM830 205h6v6h-6zM836 211h6v6h-6zM842 217h6v6h-6zM848 223h6v6h-6zM854 229h6v6h-6zM860 235h6v6h-6zM866 241h6v6h-6zM872 247h6v6h-6zM878 253h6v6h-6zM884 259h6v6h-6zM896 265h6v6h-6z"/><path fill="#f8e621" d="M800 175h6v6h-6zM806 181h6v6h-6zM812 187h6v6h-6zM818 199h6v6h-6zM824 205h6v6h-6zM830 211h6v6h-6zM836 217h6v6h-6zM842 223h6v6h-6zM848 229h6v6h-6zM854 235h6v6h-6zM860 241h6v6h-6zM866 247h6v6h-6zM872 253h6v6h-6zM878 259h6v6h-6zM890 265h6v6h-6z"/><path fill="#fde725" d="M800 181h6v6h-6zM800 187h12v6h-12zM800 193h18v6h-18zM800 199h18v6h-18zM800 205h24v6h-24zM800 211h30v6h-30zM800 217h36v6h-36zM800 223h42v6h-42zM800 229h48v6h-48zM800 235h54v6h-54zM800 241h60v6h-60zM800 247h66v6h-66zM800 253h72v6h-72zM800 259h78v6h-78zM800 265h90v6h-90z"/></g><rect x="806" y="1" width="316" height="256" fill="#fff" opacity="0.08"/></g>
<g clip-path="url(#rc)"><line x1="809.0" y1="1.0" x2="1122.0" y2="256.0" stroke="#cc2020" stroke-width="2" stroke-dasharray="3.0 3.4" stroke-linecap="round" opacity="0.92"/><line x1="884.5" y1="1.0" x2="1123.0" y2="188.0" stroke="#cc2020" stroke-width="2" stroke-dasharray="3.0 3.4" stroke-linecap="round" opacity="0.92"/><line x1="962.0" y1="2.0" x2="1123.0" y2="118.0" stroke="#cc2020" stroke-width="2" stroke-dasharray="3.0 3.4" stroke-linecap="round" opacity="0.92"/><polyline points="831.0,1.2 825.6,8.9 816.7,19.6 809.6,25.8" fill="none" stroke="#000" stroke-width="2" stroke-linejoin="round" stroke-linecap="butt"/><polyline points="870.1,1.2 869.3,10.7" fill="none" stroke="#000" stroke-width="2" stroke-linejoin="round" stroke-linecap="butt"/><polyline points="867.5,57.0 868.4,70.4" fill="none" stroke="#000" stroke-width="2" stroke-linejoin="round" stroke-linecap="butt"/><polyline points="902.2,1.2 904.0,14.3 907.6,30.3 916.5,51.7 927.2,69.5 937.8,83.7 945.8,97.8" fill="none" stroke="#000" stroke-width="2" stroke-linejoin="round" stroke-linecap="butt"/><polyline points="981.4,127.3 998.6,138.7 1021.8,151.2 1043.2,161.9 1062.8,170.8 1082.4,179.7 1102.0,186.8 1122.0,193.0" fill="none" stroke="#000" stroke-width="2" stroke-linejoin="round" stroke-linecap="butt"/><polyline points="932.5,1.2 936.0,16.0 943.2,30.3 953.9,46.3 963.0,57.0 980.8,82.0 998.6,99.8 1016.5,112.2 1034.3,121.2" fill="none" stroke="#000" stroke-width="2" stroke-linejoin="round" stroke-linecap="butt"/><polyline points="1084.2,144.9 1105.5,151.2 1122.0,156.5" fill="none" stroke="#000" stroke-width="2" stroke-linejoin="round" stroke-linecap="butt"/><polyline points="966.6,1.2 970.0,8.0" fill="none" stroke="#000" stroke-width="2" stroke-linejoin="round" stroke-linecap="butt"/><polyline points="1000.4,46.3 1016.5,57.0 1034.3,73.0 1052.1,87.3 1069.9,99.8 1091.3,112.2 1122.0,126.5" fill="none" stroke="#000" stroke-width="2" stroke-linejoin="round" stroke-linecap="butt"/><polyline points="1027.0,19.6 1039.6,26.7 1055.6,44.5" fill="none" stroke="#000" stroke-width="2" stroke-linejoin="round" stroke-linecap="butt"/><polyline points="1094.8,78.4 1122.0,92.7" fill="none" stroke="#000" stroke-width="2" stroke-linejoin="round" stroke-linecap="butt"/><text x="0" y="0" font-size="18" text-anchor="middle" dominant-baseline="central" stroke="#000" stroke-width="0.3" transform="translate(867.5 34.7) rotate(-90) scale(1.06 1)">0.70</text><text x="0" y="0" font-size="18" text-anchor="middle" dominant-baseline="central" stroke="#000" stroke-width="0.3" transform="translate(964.2 111.5) rotate(40) scale(1.06 1)">0.60</text><text x="0" y="0" font-size="18" text-anchor="middle" dominant-baseline="central" stroke="#000" stroke-width="0.3" transform="translate(1063.5 136) rotate(25) scale(1.06 1)">0.50</text><text x="0" y="0" font-size="18" text-anchor="middle" dominant-baseline="central" stroke="#000" stroke-width="0.3" transform="translate(984.4 28) rotate(52) scale(1.06 1)">0.40</text><text x="0" y="0" font-size="18" text-anchor="middle" dominant-baseline="central" stroke="#000" stroke-width="0.3" transform="translate(1075.2 62) rotate(41) scale(1.06 1)">0.30</text></g>
<rect x="806.5" y="1.5" width="315.8" height="255.9" fill="none" stroke="#000" stroke-width="1.15"/>
<line x1="822.6" y1="257.4" x2="822.6" y2="261.4" stroke="#000" stroke-width="1"/><text x="0" y="0" font-size="19.5" text-anchor="middle" stroke="#000" stroke-width="0.25" transform="translate(822.6 280.4) scale(1.1 1)">1</text><line x1="873.3" y1="257.4" x2="873.3" y2="261.4" stroke="#000" stroke-width="1"/><text x="0" y="0" font-size="19.5" text-anchor="middle" stroke="#000" stroke-width="0.25" transform="translate(873.3 280.4) scale(1.1 1)">2</text><line x1="924.0" y1="257.4" x2="924.0" y2="261.4" stroke="#000" stroke-width="1"/><text x="0" y="0" font-size="19.5" text-anchor="middle" stroke="#000" stroke-width="0.25" transform="translate(924.0 280.4) scale(1.1 1)">3</text><line x1="974.7" y1="257.4" x2="974.7" y2="261.4" stroke="#000" stroke-width="1"/><text x="0" y="0" font-size="19.5" text-anchor="middle" stroke="#000" stroke-width="0.25" transform="translate(974.7 280.4) scale(1.1 1)">4</text><line x1="1025.4" y1="257.4" x2="1025.4" y2="261.4" stroke="#000" stroke-width="1"/><text x="0" y="0" font-size="19.5" text-anchor="middle" stroke="#000" stroke-width="0.25" transform="translate(1025.4 280.4) scale(1.1 1)">5</text><line x1="1076.1" y1="257.4" x2="1076.1" y2="261.4" stroke="#000" stroke-width="1"/><text x="0" y="0" font-size="19.5" text-anchor="middle" stroke="#000" stroke-width="0.25" transform="translate(1076.1 280.4) scale(1.1 1)">6</text><line x1="802" y1="257.4" x2="806" y2="257.4" stroke="#000" stroke-width="1"/><text x="0" y="0" font-size="19.5" text-anchor="end" stroke="#000" stroke-width="0.25" transform="translate(799.4 264.8) scale(1.1 1)">0</text><line x1="802" y1="220.4" x2="806" y2="220.4" stroke="#000" stroke-width="1"/><text x="0" y="0" font-size="19.5" text-anchor="end" stroke="#000" stroke-width="0.25" transform="translate(799.4 227.8) scale(1.1 1)">1</text><line x1="802" y1="183.4" x2="806" y2="183.4" stroke="#000" stroke-width="1"/><text x="0" y="0" font-size="19.5" text-anchor="end" stroke="#000" stroke-width="0.25" transform="translate(799.4 190.8) scale(1.1 1)">2</text><line x1="802" y1="146.4" x2="806" y2="146.4" stroke="#000" stroke-width="1"/><text x="0" y="0" font-size="19.5" text-anchor="end" stroke="#000" stroke-width="0.25" transform="translate(799.4 153.8) scale(1.1 1)">3</text><line x1="802" y1="109.4" x2="806" y2="109.4" stroke="#000" stroke-width="1"/><text x="0" y="0" font-size="19.5" text-anchor="end" stroke="#000" stroke-width="0.25" transform="translate(799.4 116.8) scale(1.1 1)">4</text><line x1="802" y1="72.4" x2="806" y2="72.4" stroke="#000" stroke-width="1"/><text x="0" y="0" font-size="19.5" text-anchor="end" stroke="#000" stroke-width="0.25" transform="translate(799.4 79.8) scale(1.1 1)">5</text><line x1="802" y1="35.4" x2="806" y2="35.4" stroke="#000" stroke-width="1"/><text x="0" y="0" font-size="19.5" text-anchor="end" stroke="#000" stroke-width="0.25" transform="translate(799.4 42.8) scale(1.1 1)">6</text><text x="0" y="0" font-size="19.5" text-anchor="middle" stroke="#000" stroke-width="0.25" transform="translate(964.5 302.0) scale(1.1 1)">log(<tspan font-style="italic">K</tspan>)</text><text x="0" y="0" font-size="19.5" text-anchor="middle" stroke="#000" stroke-width="0.25" transform="translate(777.5 129.7) rotate(-90) scale(1.1 1)">log(<tspan font-style="italic">n</tspan>)</text><text class="cap" x="942" y="353" font-size="26.8" text-anchor="middle">(c) Flowers102</text>
<g clip-path="url(#dd)"><g filter="url(#bl)"><path fill="#440154" d="M283 366h90v6h-90zM289 372h84v6h-84zM295 378h78v6h-78zM301 384h72v6h-72zM313 390h60v6h-60zM319 396h54v6h-54zM325 402h48v6h-48zM337 408h36v6h-36zM349 414h24v6h-24zM361 420h12v6h-12z"/><path fill="#450457" d="M277 366h6v6h-6zM283 372h6v6h-6zM289 378h6v6h-6zM307 390h6v6h-6zM313 396h6v6h-6zM319 402h6v6h-6zM331 408h6v6h-6zM343 414h6v6h-6zM355 420h6v6h-6zM367 426h6v6h-6z"/><path fill="#46085c" d="M271 366h6v6h-6zM295 384h6v6h-6zM301 390h6v6h-6zM307 396h6v6h-6zM325 408h6v6h-6zM337 414h6v6h-6zM343 420h12v6h-12zM361 426h6v6h-6z"/><path fill="#470d60" d="M277 372h6v6h-6zM283 378h6v6h-6zM289 384h6v6h-6zM295 390h6v6h-6zM313 402h6v6h-6zM319 408h6v6h-6zM331 414h6v6h-6zM337 420h6v6h-6zM349 426h12v6h-12zM367 432h6v6h-6z"/><path fill="#471063" d="M265 366h6v6h-6zM271 372h6v6h-6zM277 378h6v6h-6zM283 384h6v6h-6zM301 396h6v6h-6zM307 402h6v6h-6zM313 408h6v6h-6zM325 414h6v6h-6zM331 420h6v6h-6zM343 426h6v6h-6zM361 432h6v6h-6z"/><path fill="#481467" d="M259 366h6v6h-6zM265 372h6v6h-6zM271 378h6v6h-6zM289 390h6v6h-6zM295 396h6v6h-6zM301 402h6v6h-6zM307 408h6v6h-6zM319 414h6v6h-6zM325 420h6v6h-6zM337 426h6v6h-6zM349 432h12v6h-12zM367 438h6v6h-6z"/><path fill="#48186a" d="M253 366h6v6h-6zM277 384h6v6h-6zM283 390h6v6h-6zM289 396h6v6h-6zM295 402h6v6h-6zM313 414h6v6h-6zM319 420h6v6h-6zM331 426h6v6h-6zM343 432h6v6h-6zM361 438h6v6h-6z"/><path fill="#481b6d" d="M259 372h6v6h-6zM265 378h6v6h-6zM271 384h6v6h-6zM277 390h6v6h-6zM301 408h6v6h-6zM307 414h6v6h-6zM313 420h6v6h-6zM325 426h6v6h-6zM337 432h6v6h-6zM349 438h12v6h-12z"/><path fill="#481f70" d="M247 366h6v6h-6zM253 372h6v6h-6zM259 378h6v6h-6zM265 384h6v6h-6zM283 396h6v6h-6zM289 402h6v6h-6zM295 408h6v6h-6zM301 414h6v6h-6zM319 426h6v6h-6zM331 432h6v6h-6zM343 438h6v6h-6zM361 444h12v6h-12z"/><path fill="#482374" d="M241 366h6v6h-6zM247 372h6v6h-6zM253 378h6v6h-6zM271 390h6v6h-6zM277 396h6v6h-6zM283 402h6v6h-6zM289 408h6v6h-6zM307 420h6v6h-6zM313 426h6v6h-6zM325 432h6v6h-6zM337 438h6v6h-6zM349 444h12v6h-12z"/><path fill="#482576" d="M235 366h6v6h-6zM241 372h6v6h-6zM259 384h6v6h-6zM265 390h6v6h-6zM271 396h6v6h-6zM295 414h6v6h-6zM301 420h6v6h-6zM307 426h6v6h-6zM319 432h6v6h-6zM325 438h12v6h-12zM343 444h6v6h-6zM361 450h12v6h-12z"/><path fill="#482979" d="M247 378h6v6h-6zM253 384h6v6h-6zM259 390h6v6h-6zM277 402h6v6h-6zM283 408h6v6h-6zM289 414h6v6h-6zM295 420h6v6h-6zM313 432h6v6h-6zM319 438h6v6h-6zM337 444h6v6h-6zM355 450h6v6h-6z"/><path fill="#472d7b" d="M229 366h6v6h-6zM235 372h6v6h-6zM241 378h6v6h-6zM247 384h6v6h-6zM265 396h6v6h-6zM271 402h6v6h-6zM277 408h6v6h-6zM301 426h6v6h-6zM307 432h6v6h-6zM313 438h6v6h-6zM325 444h12v6h-12zM343 450h12v6h-12zM367 456h6v6h-6z"/><path fill="#46307e" d="M223 366h6v6h-6zM229 372h6v6h-6zM235 378h6v6h-6zM253 390h6v6h-6zM259 396h6v6h-6zM265 402h6v6h-6zM283 414h6v6h-6zM289 420h6v6h-6zM295 426h6v6h-6zM301 432h6v6h-6zM319 444h6v6h-6zM337 450h6v6h-6zM355 456h12v6h-12z"/><path fill="#46337f" d="M217 366h6v6h-6zM223 372h6v6h-6zM241 384h6v6h-6zM247 390h6v6h-6zM253 396h6v6h-6zM271 408h6v6h-6zM277 414h6v6h-6zM283 420h6v6h-6zM289 426h6v6h-6zM307 438h6v6h-6zM313 444h6v6h-6zM325 450h12v6h-12zM349 456h6v6h-6z"/><path fill="#453781" d="M229 378h6v6h-6zM235 384h6v6h-6zM241 390h6v6h-6zM259 402h6v6h-6zM265 408h6v6h-6zM271 414h6v6h-6zM295 432h6v6h-6zM301 438h6v6h-6zM307 444h6v6h-6zM319 450h6v6h-6zM337 456h12v6h-12zM361 462h12v6h-12z"/><path fill="#443a83" d="M211 366h6v6h-6zM217 372h6v6h-6zM223 378h6v6h-6zM229 384h6v6h-6zM235 390h6v6h-6zM247 396h6v6h-6zM253 402h6v6h-6zM277 420h6v6h-6zM283 426h6v6h-6zM289 432h6v6h-6zM295 438h6v6h-6zM313 450h6v6h-6zM331 456h6v6h-6zM349 462h12v6h-12z"/><path fill="#433d84" d="M205 366h6v6h-6zM211 372h6v6h-6zM217 378h6v6h-6zM223 384h6v6h-6zM241 396h6v6h-6zM247 402h6v6h-6zM259 408h6v6h-6zM265 414h6v6h-6zM271 420h6v6h-6zM277 426h6v6h-6zM283 432h6v6h-6zM301 444h6v6h-6zM307 450h6v6h-6zM319 456h12v6h-12zM337 462h12v6h-12zM367 468h6v6h-6z"/><path fill="#424086" d="M199 366h6v6h-6zM229 390h6v6h-6zM235 396h6v6h-6zM253 408h6v6h-6zM259 414h6v6h-6zM289 438h6v6h-6zM295 444h6v6h-6zM313 456h6v6h-6zM331 462h6v6h-6zM355 468h12v6h-12z"/><path fill="#414487" d="M205 372h6v6h-6zM211 378h6v6h-6zM217 384h6v6h-6zM223 390h6v6h-6zM229 396h6v6h-6zM241 402h6v6h-6zM247 408h6v6h-6zM265 420h6v6h-6zM271 426h6v6h-6zM277 432h6v6h-6zM283 438h6v6h-6zM289 444h6v6h-6zM301 450h6v6h-6zM307 456h6v6h-6zM325 462h6v6h-6zM343 468h12v6h-12z"/><path fill="#404688" d="M193 366h6v6h-6zM199 372h6v6h-6zM205 378h6v6h-6zM211 384h6v6h-6zM217 390h6v6h-6zM223 396h6v6h-6zM235 402h6v6h-6zM241 408h6v6h-6zM253 414h6v6h-6zM259 420h6v6h-6zM265 426h6v6h-6zM271 432h6v6h-6zM295 450h6v6h-6zM313 462h12v6h-12zM331 468h12v6h-12zM361 474h12v6h-12z"/><path fill="#3e4989" d="M193 372h6v6h-6zM199 378h6v6h-6zM229 402h6v6h-6zM235 408h6v6h-6zM247 414h6v6h-6zM253 420h6v6h-6zM277 438h6v6h-6zM283 444h6v6h-6zM289 450h6v6h-6zM301 456h6v6h-6zM325 468h6v6h-6zM349 474h12v6h-12z"/><path fill="#3d4d8a" d="M187 366h6v6h-6zM205 384h6v6h-6zM211 390h6v6h-6zM217 396h6v6h-6zM223 402h6v6h-6zM241 414h6v6h-6zM247 420h6v6h-6zM259 426h6v6h-6zM265 432h6v6h-6zM271 438h6v6h-6zM277 444h6v6h-6zM295 456h6v6h-6zM307 462h6v6h-6zM319 468h6v6h-6zM337 474h12v6h-12zM367 480h6v6h-6z"/><path fill="#3c4f8a" d="M187 372h6v6h-6zM193 378h6v6h-6zM199 384h6v6h-6zM205 390h6v6h-6zM211 396h6v6h-6zM217 402h6v6h-6zM229 408h6v6h-6zM235 414h6v6h-6zM253 426h6v6h-6zM259 432h6v6h-6zM283 450h6v6h-6zM289 456h6v6h-6zM301 462h6v6h-6zM313 468h6v6h-6zM331 474h6v6h-6zM355 480h12v6h-12z"/><path fill="#3b528b" d="M181 366h6v6h-6zM187 378h6v6h-6zM193 384h6v6h-6zM223 408h6v6h-6zM229 414h6v6h-6zM241 420h6v6h-6zM247 426h6v6h-6zM265 438h6v6h-6zM271 444h6v6h-6zM277 450h6v6h-6zM295 462h6v6h-6zM307 468h6v6h-6zM325 474h6v6h-6zM349 480h6v6h-6z"/><path fill="#39558c" d="M181 372h6v6h-6zM199 390h6v6h-6zM205 396h6v6h-6zM211 402h6v6h-6zM217 408h6v6h-6zM223 414h6v6h-6zM235 420h6v6h-6zM241 426h6v6h-6zM253 432h6v6h-6zM259 438h6v6h-6zM265 444h6v6h-6zM283 456h6v6h-6zM289 462h6v6h-6zM301 468h6v6h-6zM319 474h6v6h-6zM337 480h12v6h-12zM361 486h12v6h-12z"/><path fill="#38598c" d="M175 366h6v6h-6zM181 378h6v6h-6zM187 384h6v6h-6zM193 390h6v6h-6zM199 396h6v6h-6zM205 402h6v6h-6zM211 408h6v6h-6zM229 420h6v6h-6zM247 432h6v6h-6zM253 438h6v6h-6zM271 450h6v6h-6zM277 456h6v6h-6zM313 474h6v6h-6zM331 480h6v6h-6zM355 486h6v6h-6z"/><path fill="#375b8d" d="M175 372h6v6h-6zM217 414h6v6h-6zM223 420h6v6h-6zM235 426h6v6h-6zM241 432h6v6h-6zM259 444h6v6h-6zM265 450h6v6h-6zM271 456h6v6h-6zM283 462h6v6h-6zM295 468h6v6h-6zM307 474h6v6h-6zM325 480h6v6h-6zM343 486h12v6h-12z"/><path fill="#355e8d" d="M169 366h6v6h-6zM175 378h6v6h-6zM181 384h6v6h-6zM187 390h6v6h-6zM193 396h6v6h-6zM199 402h6v6h-6zM205 408h6v6h-6zM211 414h6v6h-6zM217 420h6v6h-6zM229 426h6v6h-6zM235 432h6v6h-6zM247 438h6v6h-6zM253 444h6v6h-6zM277 462h6v6h-6zM289 468h6v6h-6zM301 474h6v6h-6zM319 480h6v6h-6zM337 486h6v6h-6zM361 492h12v6h-12z"/><path fill="#34618d" d="M169 372h6v6h-6zM181 390h6v6h-6zM187 396h6v6h-6zM193 402h6v6h-6zM199 408h6v6h-6zM205 414h6v6h-6zM211 420h6v6h-6zM223 426h6v6h-6zM241 438h6v6h-6zM259 450h6v6h-6zM265 456h6v6h-6zM271 462h6v6h-6zM283 468h6v6h-6zM295 474h6v6h-6zM313 480h6v6h-6zM331 486h6v6h-6zM349 492h12v6h-12z"/><path fill="#33638d" d="M163 366h6v6h-6zM169 378h6v6h-6zM175 384h6v6h-6zM217 426h6v6h-6zM229 432h6v6h-6zM235 438h6v6h-6zM247 444h6v6h-6zM253 450h6v6h-6zM259 456h6v6h-6zM277 468h6v6h-6zM289 474h6v6h-6zM307 480h6v6h-6zM319 486h12v6h-12zM343 492h6v6h-6zM367 498h6v6h-6z"/><path fill="#31668e" d="M163 372h6v6h-6zM175 390h6v6h-6zM181 396h6v6h-6zM187 402h6v6h-6zM193 408h6v6h-6zM199 414h6v6h-6zM205 420h6v6h-6zM211 426h6v6h-6zM223 432h6v6h-6zM229 438h6v6h-6zM241 444h6v6h-6zM265 462h6v6h-6zM301 480h6v6h-6zM313 486h6v6h-6zM337 492h6v6h-6zM361 498h6v6h-6z"/><path fill="#30698e" d="M163 378h6v6h-6zM169 384h6v6h-6zM181 402h6v6h-6zM187 408h6v6h-6zM193 414h6v6h-6zM199 420h6v6h-6zM205 426h6v6h-6zM217 432h6v6h-6zM223 438h6v6h-6zM235 444h6v6h-6zM247 450h6v6h-6zM253 456h6v6h-6zM259 462h6v6h-6zM271 468h6v6h-6zM283 474h6v6h-6zM295 480h6v6h-6zM325 492h12v6h-12zM349 498h12v6h-12z"/><path fill="#2f6b8e" d="M157 366h6v6h-6zM169 390h6v6h-6zM175 396h6v6h-6zM211 432h6v6h-6zM217 438h6v6h-6zM241 450h6v6h-6zM247 456h6v6h-6zM265 468h6v6h-6zM277 474h6v6h-6zM289 480h6v6h-6zM307 486h6v6h-6zM319 492h6v6h-6zM343 498h6v6h-6zM367 504h6v6h-6z"/><path fill="#2e6e8e" d="M157 372h6v6h-6zM163 384h6v6h-6zM169 396h6v6h-6zM175 402h6v6h-6zM181 408h6v6h-6zM187 414h6v6h-6zM193 420h6v6h-6zM199 426h6v6h-6zM205 432h6v6h-6zM211 438h6v6h-6zM229 444h6v6h-6zM235 450h6v6h-6zM253 462h6v6h-6zM259 468h6v6h-6zM271 474h6v6h-6zM283 480h6v6h-6zM301 486h6v6h-6zM313 492h6v6h-6zM337 498h6v6h-6zM355 504h12v6h-12z"/><path fill="#2d718e" d="M157 378h6v6h-6zM163 390h6v6h-6zM199 432h6v6h-6zM217 444h12v6h-12zM241 456h6v6h-6zM247 462h6v6h-6zM265 474h6v6h-6zM277 480h6v6h-6zM295 486h6v6h-6zM325 498h12v6h-12zM349 504h6v6h-6z"/><path fill="#2c738e" d="M151 366h6v6h-6zM151 372h6v6h-6zM157 384h6v6h-6zM163 396h6v6h-6zM169 402h6v6h-6zM175 408h6v6h-6zM181 414h6v6h-6zM187 420h6v6h-6zM193 426h6v6h-6zM205 438h6v6h-6zM211 444h6v6h-6zM229 450h6v6h-6zM253 468h6v6h-6zM259 474h6v6h-6zM271 480h6v6h-6zM289 486h6v6h-6zM307 492h6v6h-6zM319 498h6v6h-6zM343 504h6v6h-6zM367 510h6v6h-6z"/><path fill="#2b758e" d="M151 378h6v6h-6zM157 390h6v6h-6zM163 402h6v6h-6zM169 408h6v6h-6zM175 414h6v6h-6zM181 420h6v6h-6zM187 426h6v6h-6zM193 432h6v6h-6zM199 438h6v6h-6zM223 450h6v6h-6zM235 456h6v6h-6zM241 462h6v6h-6zM247 468h6v6h-6zM265 480h6v6h-6zM283 486h6v6h-6zM301 492h6v6h-6zM313 498h6v6h-6zM337 504h6v6h-6zM355 510h12v6h-12z"/><path fill="#2a788e" d="M145 366h6v6h-6zM151 384h6v6h-6zM157 396h6v6h-6zM205 444h6v6h-6zM217 450h6v6h-6zM229 456h6v6h-6zM253 474h6v6h-6zM277 486h6v6h-6zM295 492h6v6h-6zM307 498h6v6h-6zM325 504h12v6h-12zM349 510h6v6h-6z"/><path fill="#297b8e" d="M145 372h6v6h-6zM151 390h6v6h-6zM157 402h6v6h-6zM163 408h6v6h-6zM169 414h6v6h-6zM175 420h6v6h-6zM181 426h6v6h-6zM187 432h6v6h-6zM193 438h6v6h-6zM199 444h6v6h-6zM211 450h6v6h-6zM223 456h6v6h-6zM235 462h6v6h-6zM241 468h6v6h-6zM259 480h6v6h-6zM271 486h6v6h-6zM289 492h6v6h-6zM319 504h6v6h-6zM343 510h6v6h-6z"/><path fill="#287d8e" d="M145 378h6v6h-6zM151 396h6v6h-6zM157 408h6v6h-6zM163 414h6v6h-6zM169 420h6v6h-6zM175 426h6v6h-6zM181 432h6v6h-6zM187 438h6v6h-6zM193 444h6v6h-6zM205 450h6v6h-6zM217 456h6v6h-6zM229 462h6v6h-6zM247 474h6v6h-6zM253 480h6v6h-6zM265 486h6v6h-6zM283 492h6v6h-6zM301 498h6v6h-6zM313 504h6v6h-6zM337 510h6v6h-6zM361 516h12v6h-12z"/><path fill="#27808e" d="M145 384h6v6h-6zM145 390h6v6h-6zM151 402h6v6h-6zM199 450h6v6h-6zM211 456h6v6h-6zM223 462h6v6h-6zM235 468h6v6h-6zM241 474h6v6h-6zM259 486h6v6h-6zM271 492h12v6h-12zM295 498h6v6h-6zM307 504h6v6h-6zM325 510h12v6h-12zM349 516h12v6h-12z"/><path fill="#26828e" d="M139 366h6v6h-6zM139 372h6v6h-6zM145 396h6v6h-6zM151 408h6v6h-6zM157 414h6v6h-6zM163 420h6v6h-6zM169 426h6v6h-6zM175 432h6v6h-6zM181 438h6v6h-6zM187 444h6v6h-6zM205 456h6v6h-6zM229 468h6v6h-6zM247 480h6v6h-6zM289 498h6v6h-6zM319 510h6v6h-6zM343 516h6v6h-6z"/><path fill="#25848e" d="M139 378h6v6h-6zM139 384h6v6h-6zM145 402h6v6h-6zM157 420h6v6h-6zM163 426h6v6h-6zM169 432h6v6h-6zM193 450h6v6h-6zM217 462h6v6h-6zM235 474h6v6h-6zM253 486h6v6h-6zM265 492h6v6h-6zM277 498h12v6h-12zM301 504h6v6h-6zM313 510h6v6h-6zM337 516h6v6h-6zM361 522h12v6h-12z"/><path fill="#24878e" d="M139 390h6v6h-6zM145 408h6v6h-6zM151 414h6v6h-6zM175 438h6v6h-6zM181 444h6v6h-6zM187 450h6v6h-6zM199 456h6v6h-6zM211 462h6v6h-6zM223 468h6v6h-6zM241 480h6v6h-6zM247 486h6v6h-6zM259 492h6v6h-6zM271 498h6v6h-6zM295 504h6v6h-6zM307 510h6v6h-6zM325 516h12v6h-12zM355 522h6v6h-6z"/><path fill="#238a8d" d="M133 366h6v6h-6zM133 372h6v6h-6zM139 396h6v6h-6zM139 402h6v6h-6zM145 414h6v6h-6zM151 420h6v6h-6zM157 426h6v6h-6zM163 432h6v6h-6zM169 438h6v6h-6zM175 444h6v6h-6zM193 456h6v6h-6zM205 462h6v6h-6zM217 468h6v6h-6zM229 474h6v6h-6zM235 480h6v6h-6zM253 492h6v6h-6zM265 498h6v6h-6zM289 504h6v6h-6zM319 516h6v6h-6zM343 522h12v6h-12z"/><path fill="#228c8d" d="M133 378h6v6h-6zM133 384h6v6h-6zM133 390h6v6h-6zM139 408h6v6h-6zM151 426h6v6h-6zM157 432h6v6h-6zM181 450h6v6h-6zM199 462h6v6h-6zM211 468h6v6h-6zM223 474h6v6h-6zM241 486h6v6h-6zM277 504h12v6h-12zM301 510h6v6h-6zM313 516h6v6h-6zM337 522h6v6h-6zM367 528h6v6h-6z"/><path fill="#218f8d" d="M133 396h6v6h-6zM139 414h6v6h-6zM145 420h6v6h-6zM163 438h6v6h-6zM169 444h6v6h-6zM175 450h6v6h-6zM187 456h6v6h-6zM229 480h6v6h-6zM247 492h6v6h-6zM259 498h6v6h-6zM271 504h6v6h-6zM295 510h6v6h-6zM331 522h6v6h-6zM361 528h6v6h-6z"/><path fill="#20928c" d="M133 402h6v6h-6zM145 426h6v6h-6zM151 432h6v6h-6zM157 438h6v6h-6zM163 444h6v6h-6zM181 456h6v6h-6zM193 462h6v6h-6zM205 468h6v6h-6zM217 474h6v6h-6zM235 486h6v6h-6zM241 492h6v6h-6zM253 498h6v6h-6zM265 504h6v6h-6zM289 510h6v6h-6zM307 516h6v6h-6zM325 522h6v6h-6zM349 528h12v6h-12z"/><path fill="#1f948c" d="M127 366h6v6h-6zM127 372h6v6h-6zM127 378h6v6h-6zM127 384h6v6h-6zM127 390h6v6h-6zM133 408h6v6h-6zM139 420h6v6h-6zM169 450h6v6h-6zM175 456h6v6h-6zM187 462h6v6h-6zM199 468h6v6h-6zM211 474h6v6h-6zM223 480h6v6h-6zM229 486h6v6h-6zM283 510h6v6h-6zM301 516h6v6h-6zM319 522h6v6h-6zM337 528h12v6h-12z"/><path fill="#1f968b" d="M127 396h6v6h-6zM127 402h6v6h-6zM133 414h6v6h-6zM139 426h6v6h-6zM145 432h6v6h-6zM151 438h6v6h-6zM157 444h6v6h-6zM163 450h6v6h-6zM181 462h6v6h-6zM193 468h6v6h-6zM217 480h6v6h-6zM235 492h6v6h-6zM247 498h6v6h-6zM259 504h6v6h-6zM277 510h6v6h-6zM295 516h6v6h-6zM313 522h6v6h-6zM331 528h6v6h-6zM367 534h6v6h-6z"/><path fill="#1f998a" d="M127 408h6v6h-6zM133 420h6v6h-6zM139 432h6v6h-6zM145 438h6v6h-6zM151 444h6v6h-6zM169 456h6v6h-6zM205 474h6v6h-6zM223 486h6v6h-6zM241 498h6v6h-6zM253 504h6v6h-6zM271 510h6v6h-6zM289 516h6v6h-6zM307 522h6v6h-6zM325 528h6v6h-6zM355 534h12v6h-12z"/><path fill="#1e9c89" d="M121 366h6v6h-6zM121 372h6v6h-6zM121 378h6v6h-6zM121 384h6v6h-6zM121 390h6v6h-6zM121 396h6v6h-6zM121 402h6v6h-6zM127 414h6v6h-6zM133 426h6v6h-6zM157 450h6v6h-6zM163 456h6v6h-6zM175 462h6v6h-6zM187 468h6v6h-6zM199 474h6v6h-6zM211 480h6v6h-6zM229 492h6v6h-6zM247 504h6v6h-6zM265 510h6v6h-6zM283 516h6v6h-6zM301 522h6v6h-6zM319 528h6v6h-6zM343 534h12v6h-12z"/><path fill="#1f9e89" d="M121 408h6v6h-6zM127 420h6v6h-6zM133 432h6v6h-6zM139 438h6v6h-6zM145 444h6v6h-6zM151 450h6v6h-6zM157 456h6v6h-6zM169 462h6v6h-6zM181 468h6v6h-6zM193 474h6v6h-6zM205 480h6v6h-6zM217 486h6v6h-6zM235 498h6v6h-6zM259 510h6v6h-6zM277 516h6v6h-6zM295 522h6v6h-6zM313 528h6v6h-6zM331 534h12v6h-12z"/><path fill="#1fa188" d="M115 384h6v6h-6zM115 390h6v6h-6zM121 414h6v6h-6zM127 426h6v6h-6zM133 438h6v6h-6zM139 444h6v6h-6zM145 450h6v6h-6zM163 462h6v6h-6zM175 468h6v6h-6zM187 474h6v6h-6zM211 486h6v6h-6zM223 492h6v6h-6zM229 498h6v6h-6zM241 504h6v6h-6zM253 510h6v6h-6zM271 516h6v6h-6zM289 522h6v6h-6zM325 534h6v6h-6zM361 540h12v6h-12z"/><path fill="#20a386" d="M115 372h6v6h-6zM115 378h6v6h-6zM115 396h6v6h-6zM115 402h6v6h-6zM115 408h6v6h-6zM121 420h6v6h-6zM121 426h6v6h-6zM127 432h6v6h-6zM133 444h6v6h-6zM151 456h6v6h-6zM157 462h6v6h-6zM169 468h6v6h-6zM181 474h6v6h-6zM199 480h6v6h-6zM217 492h6v6h-6zM235 504h6v6h-6zM247 510h6v6h-6zM265 516h6v6h-6zM283 522h6v6h-6zM307 528h6v6h-6zM349 540h12v6h-12z"/><path fill="#21a585" d="M115 366h6v6h-6zM115 414h6v6h-6zM127 438h6v6h-6zM139 450h6v6h-6zM145 456h6v6h-6zM163 468h6v6h-6zM175 474h6v6h-6zM193 480h6v6h-6zM205 486h6v6h-6zM223 498h6v6h-6zM259 516h6v6h-6zM277 522h6v6h-6zM301 528h6v6h-6zM319 534h6v6h-6zM337 540h12v6h-12z"/><path fill="#22a884" d="M109 384h6v6h-6zM109 390h6v6h-6zM109 396h6v6h-6zM109 402h6v6h-6zM115 420h6v6h-6zM115 426h6v6h-6zM121 432h6v6h-6zM127 444h6v6h-6zM133 450h6v6h-6zM139 456h6v6h-6zM151 462h6v6h-6zM187 480h6v6h-6zM199 486h6v6h-6zM211 492h6v6h-6zM229 504h6v6h-6zM241 510h6v6h-6zM253 516h6v6h-6zM271 522h6v6h-6zM295 528h6v6h-6zM313 534h6v6h-6zM331 540h6v6h-6zM367 546h6v6h-6z"/><path fill="#25ab82" d="M109 372h6v6h-6zM109 378h6v6h-6zM109 408h6v6h-6zM109 414h6v6h-6zM115 432h6v6h-6zM121 438h6v6h-6zM145 462h6v6h-6zM157 468h6v6h-6zM169 474h6v6h-6zM181 480h6v6h-6zM193 486h6v6h-6zM205 492h6v6h-6zM217 498h6v6h-6zM235 510h6v6h-6zM265 522h6v6h-6zM289 528h6v6h-6zM307 534h6v6h-6zM325 540h6v6h-6zM355 546h12v6h-12z"/><path fill="#26ad81" d="M109 366h6v6h-6zM109 420h6v6h-6zM121 444h6v6h-6zM127 450h6v6h-6zM133 456h6v6h-6zM139 462h6v6h-6zM151 468h6v6h-6zM163 474h6v6h-6zM175 480h6v6h-6zM187 486h6v6h-6zM211 498h6v6h-6zM223 504h6v6h-6zM247 516h6v6h-6zM259 522h6v6h-6zM283 528h6v6h-6zM301 534h6v6h-6zM319 540h6v6h-6zM343 546h12v6h-12z"/><path fill="#29af7f" d="M103 384h6v6h-6zM103 390h6v6h-6zM103 396h6v6h-6zM103 402h6v6h-6zM103 408h6v6h-6zM109 426h6v6h-6zM115 438h6v6h-6zM121 450h6v6h-6zM127 456h6v6h-6zM145 468h6v6h-6zM157 474h6v6h-6zM169 480h6v6h-6zM181 486h6v6h-6zM199 492h6v6h-6zM217 504h6v6h-6zM229 510h6v6h-6zM241 516h6v6h-6zM277 528h6v6h-6zM295 534h6v6h-6zM337 546h6v6h-6zM367 552h6v6h-6z"/><path fill="#2db27d" d="M103 372h6v6h-6zM103 378h6v6h-6zM103 414h6v6h-6zM103 420h6v6h-6zM109 432h6v6h-6zM115 444h6v6h-6zM133 462h6v6h-6zM139 468h6v6h-6zM151 474h6v6h-6zM163 480h6v6h-6zM175 486h6v6h-6zM193 492h6v6h-6zM205 498h6v6h-6zM223 510h6v6h-6zM235 516h6v6h-6zM253 522h6v6h-6zM271 528h6v6h-6zM289 534h6v6h-6zM313 540h6v6h-6zM331 546h6v6h-6zM361 552h6v6h-6z"/><path fill="#31b57b" d="M103 366h6v6h-6zM103 426h6v6h-6zM109 438h6v6h-6zM115 450h6v6h-6zM121 456h6v6h-6zM127 462h6v6h-6zM133 468h6v6h-6zM145 474h6v6h-6zM157 480h6v6h-6zM169 486h6v6h-6zM187 492h6v6h-6zM199 498h6v6h-6zM211 504h6v6h-6zM229 516h6v6h-6zM247 522h6v6h-6zM265 528h6v6h-6zM283 534h6v6h-6zM307 540h6v6h-6zM325 546h6v6h-6zM349 552h12v6h-12z"/><path fill="#34b679" d="M97 384h6v6h-6zM97 390h6v6h-6zM97 396h6v6h-6zM97 402h6v6h-6zM97 408h6v6h-6zM97 414h6v6h-6zM103 432h6v6h-6zM109 444h6v6h-6zM139 474h6v6h-6zM151 480h6v6h-6zM163 486h6v6h-6zM181 492h6v6h-6zM193 498h6v6h-6zM205 504h6v6h-6zM217 510h6v6h-6zM241 522h6v6h-6zM259 528h6v6h-6zM277 534h6v6h-6zM301 540h6v6h-6zM319 546h6v6h-6zM343 552h6v6h-6zM367 558h6v6h-6z"/><path fill="#38b977" d="M97 366h6v6h-6zM97 372h6v6h-6zM97 378h6v6h-6zM97 420h6v6h-6zM97 426h6v6h-6zM103 438h6v6h-6zM109 450h6v6h-6zM115 456h6v6h-6zM121 462h6v6h-6zM127 468h6v6h-6zM133 474h6v6h-6zM145 480h6v6h-6zM157 486h6v6h-6zM175 492h6v6h-6zM187 498h6v6h-6zM199 504h6v6h-6zM211 510h6v6h-6zM223 516h6v6h-6zM235 522h6v6h-6zM253 528h6v6h-6zM271 534h6v6h-6zM295 540h6v6h-6zM337 552h6v6h-6zM361 558h6v6h-6z"/><path fill="#3dbc74" d="M97 432h6v6h-6zM103 444h6v6h-6zM109 456h6v6h-6zM115 462h6v6h-6zM121 468h6v6h-6zM139 480h6v6h-6zM151 486h6v6h-6zM169 492h6v6h-6zM181 498h6v6h-6zM193 504h6v6h-6zM205 510h6v6h-6zM217 516h6v6h-6zM229 522h6v6h-6zM247 528h6v6h-6zM265 534h6v6h-6zM289 540h6v6h-6zM313 546h6v6h-6zM331 552h6v6h-6zM355 558h6v6h-6z"/><path fill="#40bd72" d="M91 384h6v6h-6zM91 390h6v6h-6zM91 396h6v6h-6zM91 402h6v6h-6zM91 408h6v6h-6zM91 414h6v6h-6zM91 420h6v6h-6zM91 426h6v6h-6zM97 438h6v6h-6zM103 450h6v6h-6zM127 474h6v6h-6zM145 486h6v6h-6zM157 492h12v6h-12zM175 498h6v6h-6zM187 504h6v6h-6zM211 516h6v6h-6zM241 528h6v6h-6zM259 534h6v6h-6zM283 540h6v6h-6zM307 546h6v6h-6zM325 552h6v6h-6zM349 558h6v6h-6zM367 564h6v6h-6z"/><path fill="#46c06f" d="M91 366h6v6h-6zM91 372h6v6h-6zM91 378h6v6h-6zM91 432h6v6h-6zM97 444h6v6h-6zM103 456h6v6h-6zM109 462h6v6h-6zM115 468h6v6h-6zM121 474h6v6h-6zM133 480h6v6h-6zM139 486h6v6h-6zM151 492h6v6h-6zM169 498h6v6h-6zM181 504h6v6h-6zM199 510h6v6h-6zM223 522h6v6h-6zM235 528h6v6h-6zM253 534h6v6h-6zM277 540h6v6h-6zM301 546h6v6h-6zM319 552h6v6h-6zM343 558h6v6h-6zM361 564h6v6h-6z"/><path fill="#4cc26c" d="M85 402h6v6h-6zM85 408h6v6h-6zM85 414h6v6h-6zM85 420h6v6h-6zM91 438h6v6h-6zM97 450h6v6h-6zM127 480h6v6h-6zM163 498h6v6h-6zM175 504h6v6h-6zM193 510h6v6h-6zM205 516h6v6h-6zM217 522h6v6h-6zM229 528h6v6h-6zM247 534h6v6h-6zM271 540h6v6h-6zM295 546h6v6h-6zM313 552h6v6h-6zM337 558h6v6h-6zM355 564h6v6h-6z"/><path fill="#50c46a" d="M85 384h6v6h-6zM85 390h6v6h-6zM85 396h6v6h-6zM85 426h6v6h-6zM85 432h6v6h-6zM91 444h6v6h-6zM97 456h6v6h-6zM103 462h6v6h-6zM109 468h6v6h-6zM115 474h6v6h-6zM121 480h6v6h-6zM133 486h6v6h-6zM145 492h6v6h-6zM157 498h6v6h-6zM169 504h6v6h-6zM187 510h6v6h-6zM199 516h6v6h-6zM211 522h6v6h-6zM223 528h6v6h-6zM241 534h6v6h-6zM265 540h6v6h-6zM283 546h12v6h-12zM307 552h6v6h-6zM331 558h6v6h-6zM349 564h6v6h-6zM367 570h6v6h-6z"/><path fill="#56c667" d="M85 366h6v6h-6zM85 372h6v6h-6zM85 378h6v6h-6zM85 438h6v6h-6zM91 450h6v6h-6zM103 468h6v6h-6zM109 474h6v6h-6zM127 486h6v6h-6zM139 492h6v6h-6zM151 498h6v6h-6zM163 504h6v6h-6zM181 510h6v6h-6zM193 516h6v6h-6zM205 522h6v6h-6zM217 528h6v6h-6zM235 534h6v6h-6zM259 540h6v6h-6zM277 546h6v6h-6zM301 552h6v6h-6zM325 558h6v6h-6zM343 564h6v6h-6zM361 570h6v6h-6z"/><path fill="#5cc863" d="M79 396h6v6h-6zM79 402h6v6h-6zM79 408h6v6h-6zM79 414h6v6h-6zM79 420h6v6h-6zM79 426h6v6h-6zM79 432h6v6h-6zM85 444h6v6h-6zM91 456h6v6h-6zM97 462h6v6h-6zM115 480h6v6h-6zM121 486h6v6h-6zM133 492h6v6h-6zM145 498h6v6h-6zM157 504h6v6h-6zM169 510h12v6h-12zM187 516h6v6h-6zM199 522h6v6h-6zM211 528h6v6h-6zM229 534h6v6h-6zM247 540h12v6h-12zM271 546h6v6h-6zM295 552h6v6h-6zM319 558h6v6h-6zM337 564h6v6h-6zM355 570h6v6h-6zM367 576h6v6h-6z"/><path fill="#63cb5f" d="M79 378h6v6h-6zM79 384h6v6h-6zM79 390h6v6h-6zM79 438h6v6h-6zM85 450h6v6h-6zM91 462h6v6h-6zM97 468h6v6h-6zM103 474h6v6h-6zM109 480h6v6h-6zM127 492h6v6h-6zM139 498h6v6h-6zM151 504h6v6h-6zM163 510h6v6h-6zM181 516h6v6h-6zM193 522h6v6h-6zM223 534h6v6h-6zM241 540h6v6h-6zM265 546h6v6h-6zM289 552h6v6h-6zM313 558h6v6h-6zM331 564h6v6h-6zM349 570h6v6h-6zM361 576h6v6h-6z"/><path fill="#67cc5c" d="M79 366h6v6h-6zM79 372h6v6h-6zM73 408h6v6h-6zM73 414h6v6h-6zM73 420h6v6h-6zM73 426h6v6h-6zM79 444h6v6h-6zM85 456h6v6h-6zM115 486h6v6h-6zM121 492h6v6h-6zM133 498h6v6h-6zM145 504h6v6h-6zM157 510h6v6h-6zM175 516h6v6h-6zM187 522h6v6h-6zM205 528h6v6h-6zM217 534h6v6h-6zM235 540h6v6h-6zM259 546h6v6h-6zM277 552h12v6h-12zM307 558h6v6h-6zM325 564h6v6h-6zM343 570h6v6h-6zM355 576h6v6h-6z"/><path fill="#6ece58" d="M73 384h6v6h-6zM73 390h6v6h-6zM73 396h6v6h-6zM73 402h6v6h-6zM73 432h6v6h-6zM73 438h6v6h-6zM79 450h6v6h-6zM85 462h6v6h-6zM91 468h6v6h-6zM97 474h6v6h-6zM103 480h6v6h-6zM109 486h6v6h-6zM127 498h6v6h-6zM139 504h6v6h-6zM151 510h6v6h-6zM169 516h6v6h-6zM181 522h6v6h-6zM199 528h6v6h-6zM211 534h6v6h-6zM229 540h6v6h-6zM247 546h12v6h-12zM271 552h6v6h-6zM295 558h12v6h-12zM319 564h6v6h-6zM337 570h6v6h-6zM349 576h6v6h-6zM367 582h6v6h-6z"/><path fill="#75d054" d="M73 366h6v6h-6zM73 372h6v6h-6zM73 378h6v6h-6zM67 414h6v6h-6zM67 420h6v6h-6zM67 426h6v6h-6zM73 444h6v6h-6zM79 456h6v6h-6zM91 474h6v6h-6zM97 480h6v6h-6zM115 492h6v6h-6zM121 498h6v6h-6zM133 504h6v6h-6zM145 510h6v6h-6zM157 516h12v6h-12zM175 522h6v6h-6zM187 528h12v6h-12zM205 534h6v6h-6zM223 540h6v6h-6zM241 546h6v6h-6zM265 552h6v6h-6zM283 558h12v6h-12zM307 564h12v6h-12zM325 570h12v6h-12zM343 576h6v6h-6zM361 582h6v6h-6z"/><path fill="#7ad151" d="M67 396h6v6h-6zM67 402h6v6h-6zM67 408h6v6h-6zM67 432h6v6h-6zM73 450h6v6h-6zM79 462h6v6h-6zM85 468h6v6h-6zM103 486h6v6h-6zM109 492h6v6h-6zM127 504h6v6h-6zM139 510h6v6h-6zM151 516h6v6h-6zM169 522h6v6h-6zM181 528h6v6h-6zM199 534h6v6h-6zM211 540h12v6h-12zM235 546h6v6h-6zM253 552h12v6h-12zM277 558h6v6h-6zM301 564h6v6h-6zM319 570h6v6h-6zM331 576h12v6h-12zM355 582h6v6h-6zM367 588h6v6h-6z"/><path fill="#81d34d" d="M67 366h6v6h-6zM67 372h6v6h-6zM67 378h6v6h-6zM67 384h6v6h-6zM67 390h6v6h-6zM61 420h6v6h-6zM67 438h6v6h-6zM67 444h6v6h-6zM73 456h6v6h-6zM85 474h6v6h-6zM91 480h6v6h-6zM97 486h6v6h-6zM103 492h6v6h-6zM115 498h6v6h-6zM121 504h6v6h-6zM133 510h6v6h-6zM145 516h6v6h-6zM163 522h6v6h-6zM175 528h6v6h-6zM193 534h6v6h-6zM205 540h6v6h-6zM223 546h12v6h-12zM247 552h6v6h-6zM265 558h12v6h-12zM289 564h12v6h-12zM307 570h12v6h-12zM319 576h12v6h-12zM337 582h18v6h-18zM361 588h6v6h-6zM367 594h6v6h-6z"/><path fill="#89d548" d="M61 396h6v6h-6zM61 402h6v6h-6zM61 408h6v6h-6zM61 414h6v6h-6zM61 426h6v6h-6zM61 432h6v6h-6zM67 450h6v6h-6zM73 462h6v6h-6zM79 468h6v6h-6zM109 498h6v6h-6zM127 510h6v6h-6zM139 516h6v6h-6zM157 522h6v6h-6zM169 528h6v6h-6zM187 534h6v6h-6zM199 540h6v6h-6zM217 546h6v6h-6zM235 552h12v6h-12zM259 558h6v6h-6zM277 564h12v6h-12zM295 570h12v6h-12zM307 576h12v6h-12zM319 582h18v6h-18zM319 588h18v6h-18zM355 588h6v6h-6zM367 600h6v6h-6z"/><path fill="#8ed645" d="M61 366h6v6h-6zM61 372h6v6h-6zM61 378h6v6h-6zM61 384h6v6h-6zM61 390h6v6h-6zM61 438h6v6h-6zM67 456h6v6h-6zM79 474h6v6h-6zM85 480h6v6h-6zM91 486h6v6h-6zM97 492h6v6h-6zM103 498h6v6h-6zM115 504h6v6h-6zM121 510h6v6h-6zM133 516h6v6h-6zM145 522h12v6h-12zM163 528h6v6h-6zM175 534h12v6h-12zM193 540h6v6h-6zM211 546h6v6h-6zM229 552h6v6h-6zM253 558h6v6h-6zM271 564h6v6h-6zM289 570h6v6h-6zM301 576h6v6h-6zM307 582h12v6h-12zM313 588h6v6h-6zM337 588h18v6h-18zM313 594h30v6h-30zM355 594h12v6h-12zM319 600h12v6h-12zM361 600h6v6h-6zM367 606h6v6h-6z"/><path fill="#95d840" d="M55 402h6v6h-6zM55 408h6v6h-6zM55 414h6v6h-6zM55 420h6v6h-6zM55 426h6v6h-6zM61 444h6v6h-6zM61 450h6v6h-6zM67 462h6v6h-6zM73 468h6v6h-6zM109 504h6v6h-6zM127 516h6v6h-6zM139 522h6v6h-6zM157 528h6v6h-6zM169 534h6v6h-6zM187 540h6v6h-6zM199 546h12v6h-12zM217 552h12v6h-12zM241 558h12v6h-12zM259 564h12v6h-12zM277 570h12v6h-12zM289 576h12v6h-12zM301 582h6v6h-6zM301 588h12v6h-12zM307 594h6v6h-6zM343 594h12v6h-12zM313 600h6v6h-6zM331 600h30v6h-30zM319 606h18v6h-18zM355 606h12v6h-12zM361 612h12v6h-12zM367 618h6v6h-6zM367 624h6v6h-6z"/><path fill="#9dd93b" d="M55 366h6v6h-6zM55 372h6v6h-6zM55 378h6v6h-6zM55 384h6v6h-6zM55 390h6v6h-6zM55 396h6v6h-6zM55 432h6v6h-6zM55 438h6v6h-6zM61 456h6v6h-6zM73 474h6v6h-6zM79 480h6v6h-6zM85 486h6v6h-6zM91 492h6v6h-6zM97 498h6v6h-6zM103 504h6v6h-6zM115 510h6v6h-6zM121 516h6v6h-6zM133 522h6v6h-6zM151 528h6v6h-6zM163 534h6v6h-6zM181 540h6v6h-6zM193 546h6v6h-6zM211 552h6v6h-6zM229 558h12v6h-12zM253 564h6v6h-6zM271 570h6v6h-6zM283 576h6v6h-6zM289 582h12v6h-12zM295 588h6v6h-6zM301 594h6v6h-6zM307 600h6v6h-6zM307 606h12v6h-12zM337 606h18v6h-18zM319 612h42v6h-42zM349 618h18v6h-18zM355 624h12v6h-12zM367 630h6v6h-6z"/><path fill="#a2da37" d="M49 408h6v6h-6zM49 414h6v6h-6zM49 420h6v6h-6zM55 444h6v6h-6zM67 468h6v6h-6zM79 486h6v6h-6zM85 492h6v6h-6zM91 498h6v6h-6zM109 510h6v6h-6zM127 522h6v6h-6zM145 528h6v6h-6zM157 534h6v6h-6zM169 540h12v6h-12zM187 546h6v6h-6zM205 552h6v6h-6zM223 558h6v6h-6zM241 564h12v6h-12zM259 570h12v6h-12zM277 576h6v6h-6zM283 582h6v6h-6zM289 588h6v6h-6zM295 594h6v6h-6zM301 600h6v6h-6zM313 612h6v6h-6zM319 618h30v6h-30zM337 624h18v6h-18zM349 630h18v6h-18zM361 636h12v6h-12z"/><path fill="#aadc32" d="M49 366h6v6h-6zM49 372h6v6h-6zM49 378h6v6h-6zM49 384h6v6h-6zM49 390h6v6h-6zM49 396h6v6h-6zM49 402h6v6h-6zM49 426h6v6h-6zM49 432h6v6h-6zM49 438h6v6h-6zM55 450h6v6h-6zM61 462h6v6h-6zM67 474h6v6h-6zM73 480h6v6h-6zM97 504h6v6h-6zM103 510h6v6h-6zM115 516h6v6h-6zM133 528h12v6h-12zM151 534h6v6h-6zM163 540h6v6h-6zM181 546h6v6h-6zM193 552h12v6h-12zM211 558h12v6h-12zM235 564h6v6h-6zM253 570h6v6h-6zM265 576h12v6h-12zM277 582h6v6h-6zM283 588h6v6h-6zM289 594h6v6h-6zM295 600h6v6h-6zM301 606h6v6h-6zM307 612h6v6h-6zM313 618h6v6h-6zM319 624h18v6h-18zM337 630h12v6h-12zM349 636h12v6h-12z"/><path fill="#b2dd2d" d="M49 444h6v6h-6zM55 456h6v6h-6zM61 468h6v6h-6zM73 486h6v6h-6zM79 492h6v6h-6zM85 498h6v6h-6zM91 504h6v6h-6zM109 516h6v6h-6zM121 522h6v6h-6zM145 534h6v6h-6zM157 540h6v6h-6zM169 546h12v6h-12zM187 552h6v6h-6zM205 558h6v6h-6zM223 564h12v6h-12zM241 570h12v6h-12zM259 576h6v6h-6zM271 582h6v6h-6zM277 588h6v6h-6zM283 594h6v6h-6zM289 600h6v6h-6zM295 606h6v6h-6zM301 612h6v6h-6zM307 618h6v6h-6zM313 624h6v6h-6zM325 630h12v6h-12zM337 636h12v6h-12z"/><path fill="#bade28" d="M43 366h6v6h-6zM43 372h6v6h-6zM43 378h6v6h-6zM43 384h6v6h-6zM43 390h6v6h-6zM43 396h6v6h-6zM43 402h6v6h-6zM43 408h6v6h-6zM43 414h6v6h-6zM43 420h6v6h-6zM43 426h6v6h-6zM43 432h6v6h-6zM49 450h6v6h-6zM55 462h6v6h-6zM61 474h6v6h-6zM67 480h6v6h-6zM97 510h6v6h-6zM103 516h6v6h-6zM115 522h6v6h-6zM127 528h6v6h-6zM139 534h6v6h-6zM151 540h6v6h-6zM163 546h6v6h-6zM181 552h6v6h-6zM199 558h6v6h-6zM211 564h12v6h-12zM235 570h6v6h-6zM247 576h12v6h-12zM265 582h6v6h-6zM271 588h6v6h-6zM277 594h6v6h-6zM283 600h6v6h-6zM289 606h6v6h-6zM295 612h6v6h-6zM301 618h6v6h-6zM307 624h6v6h-6zM313 630h12v6h-12zM325 636h12v6h-12z"/><path fill="#c0df25" d="M43 438h6v6h-6zM43 444h6v6h-6zM49 456h6v6h-6zM55 468h6v6h-6zM61 480h6v6h-6zM67 486h6v6h-6zM73 492h6v6h-6zM79 498h6v6h-6zM85 504h6v6h-6zM91 510h6v6h-6zM109 522h6v6h-6zM121 528h6v6h-6zM133 534h6v6h-6zM145 540h6v6h-6zM157 546h6v6h-6zM175 552h6v6h-6zM187 558h12v6h-12zM205 564h6v6h-6zM223 570h12v6h-12zM241 576h6v6h-6zM253 582h12v6h-12zM265 588h6v6h-6zM271 594h6v6h-6zM277 600h6v6h-6zM283 606h6v6h-6zM289 612h6v6h-6zM295 618h6v6h-6zM301 624h6v6h-6zM307 630h6v6h-6zM319 636h6v6h-6z"/><path fill="#c8e020" d="M37 366h6v6h-6zM37 372h6v6h-6zM37 378h6v6h-6zM37 384h6v6h-6zM37 390h6v6h-6zM37 396h6v6h-6zM37 402h6v6h-6zM37 408h6v6h-6zM37 414h6v6h-6zM37 420h6v6h-6zM37 426h6v6h-6zM43 450h6v6h-6zM49 462h6v6h-6zM55 474h6v6h-6zM73 498h6v6h-6zM79 504h6v6h-6zM97 516h6v6h-6zM103 522h6v6h-6zM115 528h6v6h-6zM127 534h6v6h-6zM139 540h6v6h-6zM151 546h6v6h-6zM163 552h12v6h-12zM181 558h6v6h-6zM199 564h6v6h-6zM211 570h12v6h-12zM229 576h12v6h-12zM247 582h6v6h-6zM259 588h6v6h-6zM265 594h6v6h-6zM271 600h6v6h-6zM277 606h6v6h-6zM283 612h6v6h-6zM289 618h6v6h-6zM295 624h6v6h-6zM301 630h6v6h-6zM307 636h12v6h-12z"/><path fill="#d0e11c" d="M37 432h6v6h-6zM37 438h6v6h-6zM43 456h6v6h-6zM49 468h6v6h-6zM55 480h6v6h-6zM61 486h6v6h-6zM67 492h6v6h-6zM85 510h6v6h-6zM91 516h6v6h-6zM109 528h6v6h-6zM121 534h6v6h-6zM133 540h6v6h-6zM145 546h6v6h-6zM157 552h6v6h-6zM175 558h6v6h-6zM187 564h12v6h-12zM205 570h6v6h-6zM223 576h6v6h-6zM235 582h12v6h-12zM247 588h12v6h-12zM259 594h6v6h-6zM265 600h6v6h-6zM271 606h6v6h-6zM277 612h6v6h-6zM283 618h6v6h-6zM289 624h6v6h-6zM295 630h6v6h-6zM301 636h6v6h-6z"/><path fill="#d5e21a" d="M37 444h6v6h-6zM43 462h6v6h-6zM49 474h6v6h-6zM61 492h6v6h-6zM67 498h6v6h-6zM73 504h6v6h-6zM79 510h6v6h-6zM85 516h6v6h-6zM97 522h6v6h-6zM103 528h6v6h-6zM115 534h6v6h-6zM127 540h6v6h-6zM139 546h6v6h-6zM151 552h6v6h-6zM163 558h12v6h-12zM181 564h6v6h-6zM199 570h6v6h-6zM211 576h12v6h-12zM229 582h6v6h-6zM241 588h6v6h-6zM253 594h6v6h-6zM259 600h6v6h-6zM265 606h6v6h-6zM271 612h6v6h-6zM277 618h6v6h-6zM283 624h6v6h-6zM289 630h6v6h-6zM295 636h6v6h-6z"/><path fill="#dde318" d="M37 450h6v6h-6zM37 456h6v6h-6zM43 468h6v6h-6zM55 486h6v6h-6zM91 522h6v6h-6zM97 528h6v6h-6zM109 534h6v6h-6zM121 540h6v6h-6zM133 546h6v6h-6zM145 552h6v6h-6zM157 558h6v6h-6zM175 564h6v6h-6zM187 570h12v6h-12zM205 576h6v6h-6zM217 582h12v6h-12zM235 588h6v6h-6zM247 594h6v6h-6zM253 600h6v6h-6zM259 606h6v6h-6zM265 612h6v6h-6zM271 618h6v6h-6zM277 624h6v6h-6zM283 630h6v6h-6zM289 636h6v6h-6z"/><path fill="#e5e419" d="M37 462h6v6h-6zM43 474h6v6h-6zM49 480h6v6h-6zM55 492h6v6h-6zM61 498h6v6h-6zM67 504h6v6h-6zM73 510h6v6h-6zM79 516h6v6h-6zM85 522h6v6h-6zM103 534h6v6h-6zM115 540h6v6h-6zM127 546h6v6h-6zM139 552h6v6h-6zM151 558h6v6h-6zM163 564h12v6h-12zM181 570h6v6h-6zM193 576h12v6h-12zM211 582h6v6h-6zM223 588h12v6h-12zM235 594h12v6h-12zM247 600h6v6h-6zM253 606h6v6h-6zM259 612h6v6h-6zM265 618h6v6h-6zM271 624h6v6h-6zM277 630h6v6h-6zM283 636h6v6h-6z"/><path fill="#eae51a" d="M37 468h6v6h-6zM49 486h6v6h-6zM91 528h6v6h-6zM97 534h6v6h-6zM109 540h6v6h-6zM121 546h6v6h-6zM133 552h6v6h-6zM145 558h6v6h-6zM157 564h6v6h-6zM169 570h12v6h-12zM187 576h6v6h-6zM205 582h6v6h-6zM217 588h6v6h-6zM229 594h6v6h-6zM241 600h6v6h-6zM247 606h6v6h-6z"/><path fill="#f1e51d" d="M37 474h6v6h-6zM43 480h6v6h-6zM49 492h6v6h-6zM55 498h6v6h-6zM61 504h6v6h-6zM67 510h6v6h-6zM73 516h6v6h-6zM79 522h6v6h-6zM85 528h6v6h-6zM103 540h6v6h-6zM115 546h6v6h-6zM127 552h6v6h-6zM139 558h6v6h-6zM151 564h6v6h-6zM163 570h6v6h-6zM181 576h6v6h-6zM193 582h12v6h-12zM211 588h6v6h-6zM223 594h6v6h-6zM235 600h6v6h-6zM241 606h6v6h-6zM253 612h6v6h-6zM259 618h6v6h-6zM265 624h6v6h-6zM271 630h6v6h-6zM277 636h6v6h-6z"/><path fill="#f8e621" d="M43 486h6v6h-6zM55 504h6v6h-6zM61 510h6v6h-6zM67 516h6v6h-6zM73 522h6v6h-6zM91 534h6v6h-6zM97 540h6v6h-6zM109 546h6v6h-6zM121 552h6v6h-6zM133 558h6v6h-6zM145 564h6v6h-6zM157 570h6v6h-6zM169 576h12v6h-12zM187 582h6v6h-6zM199 588h12v6h-12zM211 594h12v6h-12zM223 600h12v6h-12zM235 606h6v6h-6zM241 612h12v6h-12zM253 618h6v6h-6zM259 624h6v6h-6zM265 630h6v6h-6zM271 636h6v6h-6z"/><path fill="#fde725" d="M37 480h6v6h-6zM37 486h6v6h-6zM37 492h12v6h-12zM37 498h18v6h-18zM37 504h18v6h-18zM37 510h24v6h-24zM37 516h30v6h-30zM37 522h36v6h-36zM37 528h48v6h-48zM37 534h54v6h-54zM37 540h60v6h-60zM37 546h72v6h-72zM37 552h84v6h-84zM37 558h96v6h-96zM37 564h108v6h-108zM37 570h120v6h-120zM37 576h132v6h-132zM37 582h150v6h-150zM37 588h162v6h-162zM37 594h174v6h-174zM37 600h186v6h-186zM37 606h198v6h-198zM37 612h204v6h-204zM37 618h216v6h-216zM37 624h222v6h-222zM37 630h228v6h-228zM37 636h234v6h-234z"/></g><rect x="43" y="372" width="316" height="256" fill="#fff" opacity="0.08"/></g>
<g clip-path="url(#rd)"><line x1="46.0" y1="372.0" x2="359.0" y2="627.0" stroke="#cc2020" stroke-width="2" stroke-dasharray="3.0 3.4" stroke-linecap="round" opacity="0.92"/><line x1="121.5" y1="372.0" x2="360.0" y2="559.0" stroke="#cc2020" stroke-width="2" stroke-dasharray="3.0 3.4" stroke-linecap="round" opacity="0.92"/><line x1="199.0" y1="373.0" x2="360.0" y2="489.0" stroke="#cc2020" stroke-width="2" stroke-dasharray="3.0 3.4" stroke-linecap="round" opacity="0.92"/><polyline points="72.4,415.5 72.4,418.5" fill="none" stroke="#000" stroke-width="2" stroke-linejoin="round" stroke-linecap="butt"/><polyline points="117.0,372.2 114.3,388.8 115.2,406.6 121.4,428.0 132.1,445.8 146.3,458.3 160.6,467.2" fill="none" stroke="#000" stroke-width="2" stroke-linejoin="round" stroke-linecap="butt"/><polyline points="203.6,486.8 223.2,499.3 239.2,509.7 262.4,519.5 289.1,527.5 310.5,533.7 328.3,540.0 342.5,543.5 360.0,545.3" fill="none" stroke="#000" stroke-width="2" stroke-linejoin="round" stroke-linecap="butt"/><polyline points="149.9,372.2 153.5,383.5 162.4,403.1 176.6,417.3 189.1,429.8 200.0,442.3 210.7,449.4 232.1,458.3 246.3,469.0 260.6,479.7 274.8,487.7" fill="none" stroke="#000" stroke-width="2" stroke-linejoin="round" stroke-linecap="butt"/><polyline points="319.4,503.5 339.0,508.8 360.0,514.1" fill="none" stroke="#000" stroke-width="2" stroke-linejoin="round" stroke-linecap="butt"/><polyline points="228.5,397.7 244.5,408.4 264.1,422.7 280.2,436.9 294.4,449.4 314.0,461.9 335.4,469.0 360.0,474.3" fill="none" stroke="#000" stroke-width="2" stroke-linejoin="round" stroke-linecap="butt"/><polyline points="253.5,549.8 282.0,557.8" fill="none" stroke="#000" stroke-width="2" stroke-linejoin="round" stroke-linecap="butt"/><polyline points="328.3,570.3 360.0,582.7" fill="none" stroke="#000" stroke-width="2" stroke-linejoin="round" stroke-linecap="butt"/><text x="0" y="0" font-size="18" text-anchor="middle" dominant-baseline="central" stroke="#000" stroke-width="0.3" transform="translate(75.5 395) rotate(-81) scale(1.06 1)">0.80</text><text x="0" y="0" font-size="18" text-anchor="middle" dominant-baseline="central" stroke="#000" stroke-width="0.3" transform="translate(180.5 477.5) rotate(28) scale(1.06 1)">0.72</text><text x="0" y="0" font-size="18" text-anchor="middle" dominant-baseline="central" stroke="#000" stroke-width="0.3" transform="translate(297 494) rotate(19) scale(1.06 1)">0.64</text><text x="0" y="0" font-size="18" text-anchor="middle" dominant-baseline="central" stroke="#000" stroke-width="0.3" transform="translate(212 382) rotate(40) scale(1.06 1)">0.56</text><text x="0" y="0" font-size="18" text-anchor="middle" dominant-baseline="central" stroke="#000" stroke-width="0.3" transform="translate(305.1 563.5) rotate(12) scale(1.06 1)">0.80</text></g>
<rect x="43.5" y="372.5" width="315.8" height="255.9" fill="none" stroke="#000" stroke-width="1.15"/>
<line x1="59.6" y1="628.4" x2="59.6" y2="632.4" stroke="#000" stroke-width="1"/><text x="0" y="0" font-size="19.5" text-anchor="middle" stroke="#000" stroke-width="0.25" transform="translate(59.6 651.4) scale(1.1 1)">1</text><line x1="110.3" y1="628.4" x2="110.3" y2="632.4" stroke="#000" stroke-width="1"/><text x="0" y="0" font-size="19.5" text-anchor="middle" stroke="#000" stroke-width="0.25" transform="translate(110.3 651.4) scale(1.1 1)">2</text><line x1="161.0" y1="628.4" x2="161.0" y2="632.4" stroke="#000" stroke-width="1"/><text x="0" y="0" font-size="19.5" text-anchor="middle" stroke="#000" stroke-width="0.25" transform="translate(161.0 651.4) scale(1.1 1)">3</text><line x1="211.7" y1="628.4" x2="211.7" y2="632.4" stroke="#000" stroke-width="1"/><text x="0" y="0" font-size="19.5" text-anchor="middle" stroke="#000" stroke-width="0.25" transform="translate(211.7 651.4) scale(1.1 1)">4</text><line x1="262.4" y1="628.4" x2="262.4" y2="632.4" stroke="#000" stroke-width="1"/><text x="0" y="0" font-size="19.5" text-anchor="middle" stroke="#000" stroke-width="0.25" transform="translate(262.4 651.4) scale(1.1 1)">5</text><line x1="313.1" y1="628.4" x2="313.1" y2="632.4" stroke="#000" stroke-width="1"/><text x="0" y="0" font-size="19.5" text-anchor="middle" stroke="#000" stroke-width="0.25" transform="translate(313.1 651.4) scale(1.1 1)">6</text><line x1="39" y1="628.4" x2="43" y2="628.4" stroke="#000" stroke-width="1"/><text x="0" y="0" font-size="19.5" text-anchor="end" stroke="#000" stroke-width="0.25" transform="translate(36.4 635.8) scale(1.1 1)">0</text><line x1="39" y1="591.4" x2="43" y2="591.4" stroke="#000" stroke-width="1"/><text x="0" y="0" font-size="19.5" text-anchor="end" stroke="#000" stroke-width="0.25" transform="translate(36.4 598.8) scale(1.1 1)">1</text><line x1="39" y1="554.4" x2="43" y2="554.4" stroke="#000" stroke-width="1"/><text x="0" y="0" font-size="19.5" text-anchor="end" stroke="#000" stroke-width="0.25" transform="translate(36.4 561.8) scale(1.1 1)">2</text><line x1="39" y1="517.4" x2="43" y2="517.4" stroke="#000" stroke-width="1"/><text x="0" y="0" font-size="19.5" text-anchor="end" stroke="#000" stroke-width="0.25" transform="translate(36.4 524.8) scale(1.1 1)">3</text><line x1="39" y1="480.4" x2="43" y2="480.4" stroke="#000" stroke-width="1"/><text x="0" y="0" font-size="19.5" text-anchor="end" stroke="#000" stroke-width="0.25" transform="translate(36.4 487.8) scale(1.1 1)">4</text><line x1="39" y1="443.4" x2="43" y2="443.4" stroke="#000" stroke-width="1"/><text x="0" y="0" font-size="19.5" text-anchor="end" stroke="#000" stroke-width="0.25" transform="translate(36.4 450.8) scale(1.1 1)">5</text><line x1="39" y1="406.4" x2="43" y2="406.4" stroke="#000" stroke-width="1"/><text x="0" y="0" font-size="19.5" text-anchor="end" stroke="#000" stroke-width="0.25" transform="translate(36.4 413.8) scale(1.1 1)">6</text><text x="0" y="0" font-size="19.5" text-anchor="middle" stroke="#000" stroke-width="0.25" transform="translate(201.5 673.0) scale(1.1 1)">log(<tspan font-style="italic">K</tspan>)</text><text x="0" y="0" font-size="19.5" text-anchor="middle" stroke="#000" stroke-width="0.25" transform="translate(14.5 500.7) rotate(-90) scale(1.1 1)">log(<tspan font-style="italic">n</tspan>)</text><text class="cap" x="179" y="724" font-size="26.8" text-anchor="middle">(d) MIT67</text>
<g clip-path="url(#de)"><g filter="url(#bl)"><path fill="#440154" d="M659 366h96v6h-96zM665 372h90v6h-90zM677 378h78v6h-78zM683 384h72v6h-72zM689 390h66v6h-66zM701 396h54v6h-54zM707 402h48v6h-48zM719 408h36v6h-36zM725 414h30v6h-30zM731 420h24v6h-24zM743 426h12v6h-12z"/><path fill="#450457" d="M653 366h6v6h-6zM671 378h6v6h-6zM677 384h6v6h-6zM695 396h6v6h-6zM713 408h6v6h-6zM719 414h6v6h-6zM737 426h6v6h-6zM749 432h6v6h-6z"/><path fill="#46085c" d="M659 372h6v6h-6zM665 378h6v6h-6zM683 390h6v6h-6zM701 402h6v6h-6zM707 408h6v6h-6zM725 420h6v6h-6z"/><path fill="#470d60" d="M647 366h6v6h-6zM671 384h6v6h-6zM689 396h6v6h-6zM713 414h6v6h-6zM731 426h6v6h-6zM743 432h6v6h-6z"/><path fill="#471063" d="M653 372h6v6h-6zM659 378h6v6h-6zM677 390h6v6h-6zM695 402h6v6h-6zM701 408h6v6h-6zM719 420h6v6h-6zM737 432h6v6h-6zM749 438h6v6h-6z"/><path fill="#481467" d="M641 366h6v6h-6zM647 372h6v6h-6zM665 384h6v6h-6zM683 396h6v6h-6zM707 414h6v6h-6zM725 426h6v6h-6z"/><path fill="#48186a" d="M653 378h6v6h-6zM671 390h6v6h-6zM689 402h6v6h-6zM695 408h6v6h-6zM713 420h6v6h-6zM719 426h6v6h-6zM731 432h6v6h-6zM743 438h6v6h-6z"/><path fill="#481b6d" d="M635 366h6v6h-6zM641 372h6v6h-6zM659 384h6v6h-6zM665 390h6v6h-6zM677 396h6v6h-6zM683 402h6v6h-6zM701 414h6v6h-6zM725 432h6v6h-6zM737 438h6v6h-6zM749 444h6v6h-6z"/><path fill="#481f70" d="M647 378h6v6h-6zM653 384h6v6h-6zM671 396h6v6h-6zM689 408h6v6h-6zM707 420h6v6h-6zM713 426h6v6h-6zM731 438h6v6h-6z"/><path fill="#482374" d="M629 366h6v6h-6zM635 372h6v6h-6zM659 390h6v6h-6zM677 402h6v6h-6zM695 414h6v6h-6zM719 432h6v6h-6zM743 444h6v6h-6z"/><path fill="#482576" d="M641 378h6v6h-6zM647 384h6v6h-6zM665 396h6v6h-6zM683 408h6v6h-6zM701 420h6v6h-6zM707 426h6v6h-6zM725 438h6v6h-6zM737 444h6v6h-6z"/><path fill="#482979" d="M623 366h6v6h-6zM629 372h6v6h-6zM635 378h6v6h-6zM653 390h6v6h-6zM671 402h6v6h-6zM689 414h6v6h-6zM713 432h6v6h-6zM731 444h6v6h-6zM749 450h6v6h-6z"/><path fill="#472d7b" d="M641 384h6v6h-6zM659 396h6v6h-6zM677 408h6v6h-6zM695 420h6v6h-6zM701 426h6v6h-6zM719 438h6v6h-6zM743 450h6v6h-6z"/><path fill="#46307e" d="M617 366h6v6h-6zM623 372h6v6h-6zM629 378h6v6h-6zM647 390h6v6h-6zM653 396h6v6h-6zM665 402h6v6h-6zM683 414h6v6h-6zM707 432h6v6h-6zM725 444h6v6h-6zM737 450h6v6h-6z"/><path fill="#46337f" d="M635 384h6v6h-6zM641 390h6v6h-6zM659 402h6v6h-6zM671 408h6v6h-6zM689 420h6v6h-6zM713 438h6v6h-6zM749 456h6v6h-6z"/><path fill="#453781" d="M611 366h6v6h-6zM617 372h6v6h-6zM623 378h6v6h-6zM647 396h6v6h-6zM677 414h6v6h-6zM695 426h6v6h-6zM701 432h6v6h-6zM719 444h6v6h-6zM731 450h6v6h-6zM743 456h6v6h-6z"/><path fill="#443a83" d="M629 384h6v6h-6zM635 390h6v6h-6zM653 402h6v6h-6zM665 408h6v6h-6zM683 420h6v6h-6zM707 438h6v6h-6zM713 444h6v6h-6zM725 450h6v6h-6z"/><path fill="#433d84" d="M605 366h6v6h-6zM611 372h6v6h-6zM617 378h6v6h-6zM641 396h6v6h-6zM659 408h6v6h-6zM671 414h6v6h-6zM689 426h6v6h-6zM695 432h6v6h-6zM737 456h6v6h-6z"/><path fill="#424086" d="M623 384h6v6h-6zM629 390h6v6h-6zM647 402h6v6h-6zM665 414h6v6h-6zM677 420h6v6h-6zM701 438h6v6h-6zM707 444h6v6h-6zM719 450h6v6h-6zM731 456h6v6h-6zM749 462h6v6h-6z"/><path fill="#414487" d="M599 366h6v6h-6zM605 372h6v6h-6zM611 378h6v6h-6zM617 384h6v6h-6zM635 396h6v6h-6zM653 408h6v6h-6zM683 426h6v6h-6zM689 432h6v6h-6zM713 450h6v6h-6zM743 462h6v6h-6z"/><path fill="#404688" d="M623 390h6v6h-6zM641 402h6v6h-6zM659 414h6v6h-6zM671 420h6v6h-6zM695 438h6v6h-6zM701 444h6v6h-6zM725 456h6v6h-6zM737 462h6v6h-6z"/><path fill="#3e4989" d="M593 366h6v6h-6zM599 372h6v6h-6zM605 378h6v6h-6zM611 384h6v6h-6zM629 396h6v6h-6zM647 408h6v6h-6zM665 420h6v6h-6zM677 426h6v6h-6zM683 432h6v6h-6zM707 450h6v6h-6z"/><path fill="#3d4d8a" d="M617 390h6v6h-6zM635 402h6v6h-6zM653 414h6v6h-6zM671 426h6v6h-6zM689 438h6v6h-6zM719 456h6v6h-6zM731 462h6v6h-6zM749 468h6v6h-6z"/><path fill="#3c4f8a" d="M587 366h6v6h-6zM593 372h6v6h-6zM599 378h6v6h-6zM605 384h6v6h-6zM623 396h6v6h-6zM641 408h6v6h-6zM659 420h6v6h-6zM677 432h6v6h-6zM695 444h6v6h-6zM701 450h6v6h-6zM713 456h6v6h-6zM743 468h6v6h-6z"/><path fill="#3b528b" d="M611 390h6v6h-6zM629 402h6v6h-6zM647 414h6v6h-6zM665 426h6v6h-6zM683 438h6v6h-6zM725 462h6v6h-6z"/><path fill="#39558c" d="M581 366h6v6h-6zM587 372h6v6h-6zM593 378h6v6h-6zM599 384h6v6h-6zM617 396h6v6h-6zM623 402h6v6h-6zM635 408h6v6h-6zM653 420h6v6h-6zM671 432h6v6h-6zM689 444h6v6h-6zM695 450h6v6h-6zM707 456h6v6h-6zM719 462h6v6h-6zM737 468h6v6h-6z"/><path fill="#38598c" d="M605 390h6v6h-6zM611 396h6v6h-6zM641 414h6v6h-6zM659 426h6v6h-6zM677 438h6v6h-6zM731 468h6v6h-6z"/><path fill="#375b8d" d="M575 366h6v6h-6zM581 372h6v6h-6zM587 378h6v6h-6zM593 384h6v6h-6zM599 390h6v6h-6zM617 402h6v6h-6zM629 408h6v6h-6zM647 420h6v6h-6zM665 432h6v6h-6zM683 444h6v6h-6zM689 450h6v6h-6zM701 456h6v6h-6zM713 462h6v6h-6zM749 474h6v6h-6z"/><path fill="#355e8d" d="M605 396h6v6h-6zM623 408h6v6h-6zM635 414h6v6h-6zM653 426h6v6h-6zM671 438h6v6h-6zM677 444h6v6h-6zM707 462h6v6h-6zM725 468h6v6h-6zM743 474h6v6h-6z"/><path fill="#34618d" d="M569 366h6v6h-6zM575 372h6v6h-6zM581 378h6v6h-6zM587 384h6v6h-6zM593 390h6v6h-6zM611 402h6v6h-6zM641 420h6v6h-6zM659 432h6v6h-6zM683 450h6v6h-6zM695 456h6v6h-6zM719 468h6v6h-6zM737 474h6v6h-6z"/><path fill="#33638d" d="M599 396h6v6h-6zM617 408h6v6h-6zM629 414h6v6h-6zM647 426h6v6h-6zM665 438h6v6h-6zM671 444h6v6h-6zM689 456h6v6h-6zM701 462h6v6h-6z"/><path fill="#31668e" d="M563 366h6v6h-6zM569 372h6v6h-6zM575 378h6v6h-6zM581 384h6v6h-6zM587 390h6v6h-6zM593 396h6v6h-6zM605 402h6v6h-6zM623 414h6v6h-6zM635 420h6v6h-6zM653 432h6v6h-6zM659 438h6v6h-6zM677 450h6v6h-6zM713 468h6v6h-6zM731 474h6v6h-6zM749 480h6v6h-6z"/><path fill="#30698e" d="M599 402h6v6h-6zM611 408h6v6h-6zM641 426h6v6h-6zM665 444h6v6h-6zM683 456h6v6h-6zM695 462h6v6h-6zM707 468h6v6h-6zM725 474h6v6h-6z"/><path fill="#2f6b8e" d="M563 372h6v6h-6zM569 378h6v6h-6zM575 384h6v6h-6zM581 390h6v6h-6zM587 396h6v6h-6zM605 408h6v6h-6zM617 414h6v6h-6zM629 420h6v6h-6zM647 432h6v6h-6zM653 438h6v6h-6zM671 450h6v6h-6zM689 462h6v6h-6zM743 480h6v6h-6z"/><path fill="#2e6e8e" d="M557 366h6v6h-6zM581 396h6v6h-6zM593 402h6v6h-6zM611 414h6v6h-6zM623 420h6v6h-6zM635 426h6v6h-6zM659 444h6v6h-6zM665 450h6v6h-6zM677 456h6v6h-6zM701 468h6v6h-6zM719 474h6v6h-6zM737 480h6v6h-6z"/><path fill="#2d718e" d="M557 372h6v6h-6zM563 378h6v6h-6zM569 384h6v6h-6zM575 390h6v6h-6zM587 402h6v6h-6zM599 408h6v6h-6zM629 426h6v6h-6zM641 432h6v6h-6zM647 438h6v6h-6zM671 456h6v6h-6zM683 462h6v6h-6zM695 468h6v6h-6zM713 474h6v6h-6zM731 480h6v6h-6zM749 486h6v6h-6z"/><path fill="#2c738e" d="M551 366h6v6h-6zM575 396h6v6h-6zM581 402h6v6h-6zM593 408h6v6h-6zM605 414h6v6h-6zM617 420h6v6h-6zM635 432h6v6h-6zM653 444h6v6h-6zM659 450h6v6h-6zM707 474h6v6h-6zM725 480h6v6h-6z"/><path fill="#2b758e" d="M557 378h6v6h-6zM563 384h6v6h-6zM569 390h6v6h-6zM587 408h6v6h-6zM599 414h6v6h-6zM611 420h6v6h-6zM623 426h6v6h-6zM641 438h6v6h-6zM665 456h6v6h-6zM677 462h6v6h-6zM689 468h6v6h-6zM701 474h6v6h-6zM743 486h6v6h-6z"/><path fill="#2a788e" d="M545 366h6v6h-6zM551 372h6v6h-6zM557 384h6v6h-6zM563 390h6v6h-6zM569 396h6v6h-6zM575 402h6v6h-6zM581 408h6v6h-6zM593 414h6v6h-6zM605 420h6v6h-6zM617 426h6v6h-6zM629 432h6v6h-6zM647 444h6v6h-6zM653 450h6v6h-6zM659 456h6v6h-6zM671 462h6v6h-6zM683 468h6v6h-6zM719 480h6v6h-6zM737 486h6v6h-6z"/><path fill="#297b8e" d="M551 378h6v6h-6zM635 438h6v6h-6zM665 462h6v6h-6zM677 468h6v6h-6zM695 474h6v6h-6zM713 480h6v6h-6zM731 486h6v6h-6zM749 492h6v6h-6z"/><path fill="#287d8e" d="M545 372h6v6h-6zM557 390h6v6h-6zM563 396h6v6h-6zM569 402h6v6h-6zM575 408h6v6h-6zM587 414h6v6h-6zM599 420h6v6h-6zM611 426h6v6h-6zM623 432h6v6h-6zM629 438h6v6h-6zM641 444h6v6h-6zM647 450h6v6h-6zM653 456h6v6h-6zM689 474h6v6h-6zM707 480h6v6h-6zM725 486h6v6h-6z"/><path fill="#27808e" d="M539 366h6v6h-6zM545 378h6v6h-6zM551 384h6v6h-6zM581 414h6v6h-6zM593 420h6v6h-6zM605 426h6v6h-6zM617 432h6v6h-6zM635 444h6v6h-6zM659 462h6v6h-6zM671 468h6v6h-6zM683 474h6v6h-6zM701 480h6v6h-6zM719 486h6v6h-6zM743 492h6v6h-6z"/><path fill="#26828e" d="M539 372h6v6h-6zM551 390h6v6h-6zM557 396h6v6h-6zM563 402h6v6h-6zM569 408h6v6h-6zM575 414h6v6h-6zM587 420h6v6h-6zM599 426h6v6h-6zM611 432h6v6h-6zM623 438h6v6h-6zM641 450h6v6h-6zM647 456h6v6h-6zM653 462h6v6h-6zM665 468h6v6h-6zM677 474h6v6h-6zM695 480h6v6h-6zM713 486h6v6h-6zM737 492h6v6h-6z"/><path fill="#25848e" d="M545 384h6v6h-6zM581 420h6v6h-6zM593 426h6v6h-6zM605 432h6v6h-6zM617 438h6v6h-6zM629 444h6v6h-6zM635 450h6v6h-6zM659 468h6v6h-6zM671 474h6v6h-6zM689 480h6v6h-6zM707 486h6v6h-6zM731 492h6v6h-6zM749 498h6v6h-6z"/><path fill="#24878e" d="M533 366h6v6h-6zM539 378h6v6h-6zM551 396h6v6h-6zM557 402h6v6h-6zM563 408h6v6h-6zM569 414h6v6h-6zM587 426h6v6h-6zM599 432h6v6h-6zM611 438h6v6h-6zM623 444h6v6h-6zM641 456h6v6h-6zM647 462h6v6h-6zM683 480h6v6h-6zM701 486h6v6h-6zM725 492h6v6h-6zM743 498h6v6h-6z"/><path fill="#238a8d" d="M533 372h6v6h-6zM539 384h6v6h-6zM545 390h6v6h-6zM575 420h6v6h-6zM593 432h6v6h-6zM605 438h6v6h-6zM617 444h6v6h-6zM629 450h6v6h-6zM635 456h6v6h-6zM653 468h6v6h-6zM665 474h6v6h-6zM677 480h6v6h-6zM695 486h6v6h-6zM719 492h6v6h-6z"/><path fill="#228c8d" d="M527 366h6v6h-6zM533 378h6v6h-6zM545 396h6v6h-6zM551 402h6v6h-6zM557 408h6v6h-6zM563 414h6v6h-6zM569 420h6v6h-6zM581 426h6v6h-6zM587 432h6v6h-6zM599 438h6v6h-6zM611 444h6v6h-6zM623 450h6v6h-6zM629 456h6v6h-6zM641 462h6v6h-6zM647 468h6v6h-6zM659 474h6v6h-6zM671 480h6v6h-6zM689 486h6v6h-6zM707 492h12v6h-12zM731 498h12v6h-12z"/><path fill="#218f8d" d="M527 372h6v6h-6zM539 390h6v6h-6zM575 426h6v6h-6zM593 438h6v6h-6zM605 444h6v6h-6zM617 450h6v6h-6zM635 462h6v6h-6zM653 474h6v6h-6zM665 480h6v6h-6zM683 486h6v6h-6zM701 492h6v6h-6zM725 498h6v6h-6zM749 504h6v6h-6z"/><path fill="#20928c" d="M533 384h6v6h-6zM539 396h6v6h-6zM545 402h6v6h-6zM551 408h6v6h-6zM557 414h6v6h-6zM563 420h6v6h-6zM569 426h6v6h-6zM581 432h6v6h-6zM599 444h6v6h-6zM611 450h6v6h-6zM623 456h6v6h-6zM629 462h6v6h-6zM641 468h6v6h-6zM677 486h6v6h-6zM695 492h6v6h-6zM719 498h6v6h-6zM743 504h6v6h-6z"/><path fill="#1f948c" d="M521 366h6v6h-6zM527 378h6v6h-6zM533 390h6v6h-6zM575 432h6v6h-6zM587 438h6v6h-6zM593 444h6v6h-6zM605 450h6v6h-6zM617 456h6v6h-6zM635 468h6v6h-6zM647 474h6v6h-6zM659 480h6v6h-6zM671 486h6v6h-6zM689 492h6v6h-6zM713 498h6v6h-6zM737 504h6v6h-6z"/><path fill="#1f968b" d="M521 372h6v6h-6zM527 384h6v6h-6zM539 402h6v6h-6zM545 408h6v6h-6zM551 414h6v6h-6zM557 420h6v6h-6zM563 426h6v6h-6zM581 438h6v6h-6zM599 450h6v6h-6zM611 456h6v6h-6zM623 462h6v6h-6zM641 474h6v6h-6zM653 480h6v6h-6zM665 486h6v6h-6zM683 492h6v6h-6zM701 498h12v6h-12zM725 504h12v6h-12zM749 510h6v6h-6z"/><path fill="#1f998a" d="M521 378h6v6h-6zM527 390h6v6h-6zM533 396h6v6h-6zM569 432h6v6h-6zM575 438h6v6h-6zM587 444h6v6h-6zM593 450h6v6h-6zM605 456h6v6h-6zM617 462h6v6h-6zM629 468h6v6h-6zM647 480h6v6h-6zM659 486h6v6h-6zM677 492h6v6h-6zM695 498h6v6h-6zM719 504h6v6h-6zM743 510h6v6h-6z"/><path fill="#1e9c89" d="M515 366h6v6h-6zM521 384h6v6h-6zM533 402h6v6h-6zM539 408h6v6h-6zM545 414h6v6h-6zM551 420h6v6h-6zM557 426h6v6h-6zM563 432h6v6h-6zM581 444h6v6h-6zM587 450h6v6h-6zM599 456h6v6h-6zM611 462h6v6h-6zM623 468h6v6h-6zM635 474h6v6h-6zM653 486h6v6h-6zM671 492h6v6h-6zM689 498h6v6h-6zM713 504h6v6h-6zM737 510h6v6h-6z"/><path fill="#1f9e89" d="M515 372h6v6h-6zM527 396h6v6h-6zM569 438h6v6h-6zM575 444h6v6h-6zM593 456h6v6h-6zM605 462h6v6h-6zM617 468h6v6h-6zM629 474h6v6h-6zM641 480h6v6h-6zM665 492h6v6h-6zM683 498h6v6h-6zM701 504h12v6h-12zM731 510h6v6h-6zM749 516h6v6h-6z"/><path fill="#1fa188" d="M515 378h6v6h-6zM521 390h6v6h-6zM527 402h6v6h-6zM533 408h6v6h-6zM539 414h6v6h-6zM545 420h6v6h-6zM551 426h6v6h-6zM557 432h6v6h-6zM563 438h6v6h-6zM581 450h6v6h-6zM587 456h6v6h-6zM599 462h6v6h-6zM611 468h6v6h-6zM623 474h6v6h-6zM635 480h6v6h-6zM647 486h6v6h-6zM659 492h6v6h-6zM677 498h6v6h-6zM695 504h6v6h-6zM719 510h12v6h-12zM743 516h6v6h-6z"/><path fill="#20a386" d="M509 366h6v6h-6zM509 372h6v6h-6zM515 384h6v6h-6zM521 396h6v6h-6zM533 414h6v6h-6zM539 420h6v6h-6zM545 426h6v6h-6zM569 444h6v6h-6zM575 450h6v6h-6zM593 462h6v6h-6zM605 468h6v6h-6zM617 474h6v6h-6zM629 480h6v6h-6zM641 486h6v6h-6zM653 492h6v6h-6zM671 498h6v6h-6zM689 504h6v6h-6zM713 510h6v6h-6zM737 516h6v6h-6z"/><path fill="#21a585" d="M509 378h6v6h-6zM515 390h6v6h-6zM521 402h6v6h-6zM527 408h6v6h-6zM551 432h6v6h-6zM557 438h6v6h-6zM563 444h6v6h-6zM581 456h6v6h-6zM587 462h6v6h-6zM599 468h6v6h-6zM611 474h6v6h-6zM623 480h6v6h-6zM635 486h6v6h-6zM647 492h6v6h-6zM659 498h12v6h-12zM683 504h6v6h-6zM701 510h12v6h-12zM725 516h12v6h-12zM749 522h6v6h-6z"/><path fill="#22a884" d="M503 366h6v6h-6zM509 384h6v6h-6zM515 396h6v6h-6zM521 408h6v6h-6zM527 414h6v6h-6zM533 420h6v6h-6zM539 426h6v6h-6zM545 432h6v6h-6zM551 438h6v6h-6zM569 450h6v6h-6zM575 456h6v6h-6zM593 468h6v6h-6zM605 474h6v6h-6zM617 480h6v6h-6zM671 504h12v6h-12zM695 510h6v6h-6zM719 516h6v6h-6zM743 522h6v6h-6z"/><path fill="#25ab82" d="M503 372h6v6h-6zM509 390h6v6h-6zM515 402h6v6h-6zM557 444h6v6h-6zM563 450h6v6h-6zM581 462h6v6h-6zM599 474h6v6h-6zM629 486h6v6h-6zM641 492h6v6h-6zM653 498h6v6h-6zM665 504h6v6h-6zM689 510h6v6h-6zM707 516h12v6h-12zM737 522h6v6h-6z"/><path fill="#26ad81" d="M503 378h6v6h-6zM509 396h6v6h-6zM515 408h6v6h-6zM521 414h6v6h-6zM527 420h6v6h-6zM533 426h6v6h-6zM539 432h6v6h-6zM545 438h6v6h-6zM551 444h6v6h-6zM569 456h6v6h-6zM575 462h6v6h-6zM587 468h6v6h-6zM611 480h6v6h-6zM623 486h6v6h-6zM635 492h6v6h-6zM647 498h6v6h-6zM659 504h6v6h-6zM677 510h12v6h-12zM701 516h6v6h-6zM725 522h12v6h-12zM749 528h6v6h-6z"/><path fill="#29af7f" d="M497 366h6v6h-6zM503 384h6v6h-6zM503 390h6v6h-6zM509 402h6v6h-6zM515 414h6v6h-6zM521 420h6v6h-6zM527 426h6v6h-6zM533 432h6v6h-6zM539 438h6v6h-6zM557 450h6v6h-6zM563 456h6v6h-6zM569 462h6v6h-6zM581 468h6v6h-6zM593 474h6v6h-6zM605 480h6v6h-6zM617 486h6v6h-6zM629 492h6v6h-6zM641 498h6v6h-6zM653 504h6v6h-6zM671 510h6v6h-6zM695 516h6v6h-6zM719 522h6v6h-6zM743 528h6v6h-6z"/><path fill="#2db27d" d="M497 372h6v6h-6zM503 396h6v6h-6zM509 408h6v6h-6zM521 426h6v6h-6zM527 432h6v6h-6zM545 444h6v6h-6zM551 450h6v6h-6zM557 456h6v6h-6zM575 468h6v6h-6zM587 474h6v6h-6zM599 480h6v6h-6zM611 486h6v6h-6zM623 492h6v6h-6zM635 498h6v6h-6zM665 510h6v6h-6zM683 516h12v6h-12zM707 522h12v6h-12zM737 528h6v6h-6z"/><path fill="#31b57b" d="M497 378h6v6h-6zM497 384h6v6h-6zM503 402h6v6h-6zM509 414h6v6h-6zM515 420h6v6h-6zM533 438h6v6h-6zM539 444h6v6h-6zM545 450h6v6h-6zM563 462h6v6h-6zM569 468h6v6h-6zM581 474h6v6h-6zM593 480h6v6h-6zM605 486h6v6h-6zM617 492h6v6h-6zM647 504h6v6h-6zM659 510h6v6h-6zM677 516h6v6h-6zM701 522h6v6h-6zM725 528h12v6h-12zM749 534h6v6h-6z"/><path fill="#34b679" d="M491 366h6v6h-6zM497 390h6v6h-6zM497 396h6v6h-6zM503 408h6v6h-6zM509 420h6v6h-6zM515 426h6v6h-6zM521 432h6v6h-6zM527 438h6v6h-6zM533 444h6v6h-6zM551 456h6v6h-6zM557 462h6v6h-6zM575 474h6v6h-6zM587 480h6v6h-6zM599 486h6v6h-6zM629 498h6v6h-6zM641 504h6v6h-6zM653 510h6v6h-6zM671 516h6v6h-6zM689 522h12v6h-12zM713 528h12v6h-12zM743 534h6v6h-6z"/><path fill="#38b977" d="M491 372h6v6h-6zM491 378h6v6h-6zM497 402h6v6h-6zM503 414h6v6h-6zM509 426h6v6h-6zM515 432h6v6h-6zM521 438h6v6h-6zM527 444h6v6h-6zM539 450h6v6h-6zM545 456h6v6h-6zM551 462h6v6h-6zM563 468h6v6h-6zM569 474h6v6h-6zM581 480h6v6h-6zM593 486h6v6h-6zM611 492h6v6h-6zM623 498h6v6h-6zM635 504h6v6h-6zM647 510h6v6h-6zM665 516h6v6h-6zM683 522h6v6h-6zM707 528h6v6h-6zM731 534h12v6h-12z"/><path fill="#3dbc74" d="M491 384h6v6h-6zM491 390h6v6h-6zM497 408h6v6h-6zM503 420h6v6h-6zM533 450h6v6h-6zM539 456h6v6h-6zM557 468h6v6h-6zM575 480h6v6h-6zM605 492h6v6h-6zM617 498h6v6h-6zM629 504h6v6h-6zM641 510h6v6h-6zM659 516h6v6h-6zM677 522h6v6h-6zM695 528h12v6h-12zM725 534h6v6h-6zM749 540h6v6h-6z"/><path fill="#40bd72" d="M485 366h6v6h-6zM491 396h6v6h-6zM491 402h6v6h-6zM497 414h6v6h-6zM497 420h6v6h-6zM503 426h6v6h-6zM509 432h6v6h-6zM515 438h6v6h-6zM521 444h6v6h-6zM527 450h6v6h-6zM533 456h6v6h-6zM545 462h6v6h-6zM551 468h6v6h-6zM563 474h6v6h-6zM587 486h6v6h-6zM599 492h6v6h-6zM611 498h6v6h-6zM623 504h6v6h-6zM653 516h6v6h-6zM671 522h6v6h-6zM689 528h6v6h-6zM713 534h12v6h-12zM743 540h6v6h-6z"/><path fill="#46c06f" d="M485 372h6v6h-6zM485 378h6v6h-6zM485 384h6v6h-6zM491 408h6v6h-6zM491 414h6v6h-6zM497 426h6v6h-6zM503 432h6v6h-6zM509 438h6v6h-6zM515 444h6v6h-6zM521 450h6v6h-6zM539 462h6v6h-6zM545 468h6v6h-6zM557 474h6v6h-6zM569 480h6v6h-6zM581 486h6v6h-6zM593 492h6v6h-6zM605 498h6v6h-6zM635 510h6v6h-6zM647 516h6v6h-6zM665 522h6v6h-6zM677 528h12v6h-12zM701 534h12v6h-12zM731 540h12v6h-12z"/><path fill="#4cc26c" d="M485 390h6v6h-6zM485 396h6v6h-6zM485 402h6v6h-6zM491 420h6v6h-6zM497 432h6v6h-6zM503 438h6v6h-6zM509 444h6v6h-6zM515 450h6v6h-6zM527 456h6v6h-6zM533 462h6v6h-6zM551 474h6v6h-6zM563 480h6v6h-6zM575 486h6v6h-6zM587 492h6v6h-6zM599 498h6v6h-6zM617 504h6v6h-6zM629 510h6v6h-6zM641 516h6v6h-6zM659 522h6v6h-6zM671 528h6v6h-6zM689 534h12v6h-12zM719 540h12v6h-12zM749 546h6v6h-6z"/><path fill="#50c46a" d="M479 366h6v6h-6zM479 372h6v6h-6zM479 378h6v6h-6zM485 408h6v6h-6zM485 414h6v6h-6zM491 426h6v6h-6zM521 456h6v6h-6zM527 462h6v6h-6zM539 468h6v6h-6zM545 474h6v6h-6zM557 480h6v6h-6zM569 486h6v6h-6zM581 492h6v6h-6zM611 504h6v6h-6zM623 510h6v6h-6zM635 516h6v6h-6zM653 522h6v6h-6zM665 528h6v6h-6zM683 534h6v6h-6zM707 540h12v6h-12zM737 546h12v6h-12z"/><path fill="#56c667" d="M479 384h6v6h-6zM479 390h6v6h-6zM479 396h6v6h-6zM479 402h6v6h-6zM485 420h6v6h-6zM485 426h6v6h-6zM491 432h6v6h-6zM497 438h6v6h-6zM503 444h6v6h-6zM509 450h6v6h-6zM515 456h6v6h-6zM521 462h6v6h-6zM533 468h6v6h-6zM539 474h6v6h-6zM551 480h6v6h-6zM563 486h6v6h-6zM575 492h6v6h-6zM593 498h6v6h-6zM605 504h6v6h-6zM617 510h6v6h-6zM629 516h6v6h-6zM647 522h6v6h-6zM659 528h6v6h-6zM677 534h6v6h-6zM695 540h12v6h-12zM725 546h12v6h-12zM749 552h6v6h-6z"/><path fill="#5cc863" d="M479 408h6v6h-6zM479 414h6v6h-6zM485 432h6v6h-6zM491 438h6v6h-6zM497 444h6v6h-6zM503 450h6v6h-6zM509 456h6v6h-6zM527 468h6v6h-6zM545 480h6v6h-6zM557 486h6v6h-6zM569 492h6v6h-6zM587 498h6v6h-6zM599 504h6v6h-6zM611 510h6v6h-6zM623 516h6v6h-6zM641 522h6v6h-6zM653 528h6v6h-6zM671 534h6v6h-6zM683 540h12v6h-12zM713 546h12v6h-12zM743 552h6v6h-6z"/><path fill="#63cb5f" d="M473 366h6v6h-6zM473 372h6v6h-6zM473 378h6v6h-6zM473 384h6v6h-6zM473 390h6v6h-6zM473 396h6v6h-6zM479 420h6v6h-6zM479 426h6v6h-6zM485 438h6v6h-6zM491 444h6v6h-6zM497 450h6v6h-6zM503 456h6v6h-6zM515 462h6v6h-6zM521 468h6v6h-6zM533 474h6v6h-6zM539 480h6v6h-6zM551 486h6v6h-6zM563 492h6v6h-6zM581 498h6v6h-6zM593 504h6v6h-6zM605 510h6v6h-6zM635 522h6v6h-6zM647 528h6v6h-6zM665 534h6v6h-6zM677 540h6v6h-6zM701 546h12v6h-12zM731 552h12v6h-12z"/><path fill="#67cc5c" d="M473 402h6v6h-6zM473 408h6v6h-6zM473 414h6v6h-6zM473 420h6v6h-6zM479 432h6v6h-6zM509 462h6v6h-6zM515 468h6v6h-6zM527 474h6v6h-6zM533 480h6v6h-6zM545 486h6v6h-6zM557 492h6v6h-6zM569 498h12v6h-12zM587 504h6v6h-6zM599 510h6v6h-6zM617 516h6v6h-6zM629 522h6v6h-6zM641 528h6v6h-6zM659 534h6v6h-6zM671 540h6v6h-6zM683 546h18v6h-18zM719 552h12v6h-12zM749 558h6v6h-6z"/><path fill="#6ece58" d="M467 378h6v6h-6zM467 384h6v6h-6zM473 426h6v6h-6zM479 438h6v6h-6zM485 444h6v6h-6zM491 450h6v6h-6zM497 456h6v6h-6zM503 462h6v6h-6zM509 468h6v6h-6zM521 474h6v6h-6zM527 480h6v6h-6zM539 486h6v6h-6zM551 492h6v6h-6zM563 498h6v6h-6zM581 504h6v6h-6zM593 510h6v6h-6zM611 516h6v6h-6zM623 522h6v6h-6zM635 528h6v6h-6zM653 534h6v6h-6zM665 540h6v6h-6zM677 546h6v6h-6zM701 552h18v6h-18zM737 558h12v6h-12z"/><path fill="#75d054" d="M467 366h6v6h-6zM467 372h6v6h-6zM467 390h6v6h-6zM467 396h6v6h-6zM467 402h6v6h-6zM467 408h6v6h-6zM467 414h6v6h-6zM467 420h6v6h-6zM473 432h6v6h-6zM479 444h6v6h-6zM485 450h6v6h-6zM491 456h6v6h-6zM497 462h6v6h-6zM515 474h6v6h-6zM533 486h6v6h-6zM545 492h6v6h-6zM557 498h6v6h-6zM575 504h6v6h-6zM587 510h6v6h-6zM605 516h6v6h-6zM617 522h6v6h-6zM629 528h6v6h-6zM641 534h12v6h-12zM659 540h6v6h-6zM671 546h6v6h-6zM689 552h12v6h-12zM719 558h18v6h-18z"/><path fill="#7ad151" d="M467 426h6v6h-6zM473 438h6v6h-6zM485 456h6v6h-6zM503 468h6v6h-6zM509 474h6v6h-6zM521 480h6v6h-6zM527 486h6v6h-6zM539 492h6v6h-6zM551 498h6v6h-6zM563 504h12v6h-12zM581 510h6v6h-6zM599 516h6v6h-6zM611 522h6v6h-6zM623 528h6v6h-6zM635 534h6v6h-6zM653 540h6v6h-6zM665 546h6v6h-6zM677 552h12v6h-12zM701 558h18v6h-18zM743 564h12v6h-12z"/><path fill="#81d34d" d="M461 366h6v6h-6zM461 372h6v6h-6zM461 378h6v6h-6zM461 384h6v6h-6zM461 390h6v6h-6zM461 396h6v6h-6zM461 402h6v6h-6zM461 408h6v6h-6zM461 414h6v6h-6zM467 432h6v6h-6zM473 444h6v6h-6zM479 450h6v6h-6zM491 462h6v6h-6zM497 468h6v6h-6zM503 474h6v6h-6zM515 480h6v6h-6zM521 486h6v6h-6zM533 492h6v6h-6zM545 498h6v6h-6zM557 504h6v6h-6zM575 510h6v6h-6zM593 516h6v6h-6zM605 522h6v6h-6zM617 528h6v6h-6zM629 534h6v6h-6zM647 540h6v6h-6zM659 546h6v6h-6zM671 552h6v6h-6zM683 558h18v6h-18zM731 564h12v6h-12z"/><path fill="#89d548" d="M461 420h6v6h-6zM461 426h6v6h-6zM467 438h6v6h-6zM473 450h6v6h-6zM479 456h6v6h-6zM485 462h6v6h-6zM491 468h6v6h-6zM509 480h6v6h-6zM527 492h6v6h-6zM539 498h6v6h-6zM551 504h6v6h-6zM569 510h6v6h-6zM581 516h12v6h-12zM599 522h6v6h-6zM611 528h6v6h-6zM623 534h6v6h-6zM635 540h12v6h-12zM653 546h6v6h-6zM665 552h6v6h-6zM677 558h6v6h-6zM695 564h36v6h-36zM749 570h6v6h-6z"/><path fill="#8ed645" d="M455 378h6v6h-6zM455 384h6v6h-6zM455 390h6v6h-6zM455 396h6v6h-6zM461 432h6v6h-6zM467 444h6v6h-6zM497 474h6v6h-6zM503 480h6v6h-6zM515 486h6v6h-6zM521 492h6v6h-6zM533 498h6v6h-6zM545 504h6v6h-6zM557 510h12v6h-12zM575 516h6v6h-6zM593 522h6v6h-6zM605 528h6v6h-6zM617 534h6v6h-6zM629 540h6v6h-6zM647 546h6v6h-6zM659 552h6v6h-6zM671 558h6v6h-6zM683 564h12v6h-12zM737 570h12v6h-12z"/><path fill="#95d840" d="M455 366h6v6h-6zM455 372h6v6h-6zM455 402h6v6h-6zM455 408h6v6h-6zM455 414h6v6h-6zM455 420h6v6h-6zM455 426h6v6h-6zM461 438h6v6h-6zM467 450h6v6h-6zM473 456h6v6h-6zM479 462h6v6h-6zM485 468h6v6h-6zM491 474h6v6h-6zM497 480h6v6h-6zM509 486h6v6h-6zM515 492h6v6h-6zM527 498h6v6h-6zM539 504h6v6h-6zM551 510h6v6h-6zM569 516h6v6h-6zM587 522h6v6h-6zM599 528h6v6h-6zM611 534h6v6h-6zM623 540h6v6h-6zM635 546h12v6h-12zM653 552h6v6h-6zM659 558h12v6h-12zM671 564h12v6h-12zM689 570h48v6h-48zM749 576h6v6h-6z"/><path fill="#9dd93b" d="M455 432h6v6h-6zM461 444h6v6h-6zM467 456h6v6h-6zM473 462h6v6h-6zM479 468h6v6h-6zM485 474h6v6h-6zM503 486h6v6h-6zM521 498h6v6h-6zM533 504h6v6h-6zM545 510h6v6h-6zM557 516h12v6h-12zM575 522h12v6h-12zM593 528h6v6h-6zM605 534h6v6h-6zM617 540h6v6h-6zM629 546h6v6h-6zM641 552h12v6h-12zM653 558h6v6h-6zM665 564h6v6h-6zM677 570h12v6h-12zM743 576h6v6h-6z"/><path fill="#a2da37" d="M449 366h6v6h-6zM449 372h6v6h-6zM449 378h6v6h-6zM449 384h6v6h-6zM449 390h6v6h-6zM449 396h6v6h-6zM449 402h6v6h-6zM449 408h6v6h-6zM449 414h6v6h-6zM449 420h6v6h-6zM455 438h6v6h-6zM461 450h6v6h-6zM491 480h6v6h-6zM497 486h6v6h-6zM509 492h6v6h-6zM515 498h6v6h-6zM527 504h6v6h-6zM539 510h6v6h-6zM551 516h6v6h-6zM569 522h6v6h-6zM587 528h6v6h-6zM599 534h6v6h-6zM611 540h6v6h-6zM623 546h6v6h-6zM635 552h6v6h-6zM647 558h6v6h-6zM659 564h6v6h-6zM671 570h6v6h-6zM683 576h60v6h-60zM749 582h6v6h-6z"/><path fill="#aadc32" d="M449 426h6v6h-6zM449 432h6v6h-6zM455 444h6v6h-6zM461 456h6v6h-6zM467 462h6v6h-6zM473 468h6v6h-6zM479 474h6v6h-6zM485 480h6v6h-6zM491 486h6v6h-6zM503 492h6v6h-6zM509 498h6v6h-6zM521 504h6v6h-6zM533 510h6v6h-6zM545 516h6v6h-6zM563 522h6v6h-6zM575 528h12v6h-12zM593 534h6v6h-6zM605 540h6v6h-6zM617 546h6v6h-6zM629 552h6v6h-6zM641 558h6v6h-6zM653 564h6v6h-6zM665 570h6v6h-6zM677 576h6v6h-6zM689 582h36v6h-36zM737 582h12v6h-12zM749 588h6v6h-6z"/><path fill="#b2dd2d" d="M443 384h6v6h-6zM443 390h6v6h-6zM443 396h6v6h-6zM443 402h6v6h-6zM443 408h6v6h-6zM449 438h6v6h-6zM455 450h6v6h-6zM467 468h6v6h-6zM473 474h6v6h-6zM497 492h6v6h-6zM515 504h6v6h-6zM527 510h6v6h-6zM539 516h6v6h-6zM551 522h12v6h-12zM569 528h6v6h-6zM581 534h12v6h-12zM599 540h6v6h-6zM611 546h6v6h-6zM623 552h6v6h-6zM635 558h6v6h-6zM647 564h6v6h-6zM659 570h6v6h-6zM665 576h12v6h-12zM677 582h12v6h-12zM725 582h12v6h-12zM695 588h24v6h-24zM743 588h6v6h-6zM749 594h6v6h-6z"/><path fill="#bade28" d="M443 366h6v6h-6zM443 372h6v6h-6zM443 378h6v6h-6zM443 414h6v6h-6zM443 420h6v6h-6zM443 426h6v6h-6zM449 444h6v6h-6zM455 456h6v6h-6zM461 462h6v6h-6zM479 480h6v6h-6zM485 486h6v6h-6zM491 492h6v6h-6zM503 498h6v6h-6zM509 504h6v6h-6zM521 510h6v6h-6zM533 516h6v6h-6zM545 522h6v6h-6zM563 528h6v6h-6zM575 534h6v6h-6zM593 540h6v6h-6zM605 546h6v6h-6zM617 552h6v6h-6zM629 558h6v6h-6zM641 564h6v6h-6zM647 570h12v6h-12zM659 576h6v6h-6zM671 582h6v6h-6zM683 588h12v6h-12zM719 588h24v6h-24zM695 594h24v6h-24zM743 594h6v6h-6zM749 600h6v6h-6zM749 606h6v6h-6zM749 612h6v6h-6z"/><path fill="#c0df25" d="M443 432h6v6h-6zM449 450h6v6h-6zM461 468h6v6h-6zM467 474h6v6h-6zM473 480h6v6h-6zM479 486h6v6h-6zM497 498h6v6h-6zM503 504h6v6h-6zM515 510h6v6h-6zM527 516h6v6h-6zM539 522h6v6h-6zM551 528h12v6h-12zM569 534h6v6h-6zM581 540h12v6h-12zM599 546h6v6h-6zM611 552h6v6h-6zM623 558h6v6h-6zM635 564h6v6h-6zM641 570h6v6h-6zM653 576h6v6h-6zM665 582h6v6h-6zM671 588h12v6h-12zM683 594h12v6h-12zM719 594h24v6h-24zM701 600h48v6h-48zM737 606h12v6h-12zM743 612h6v6h-6zM743 618h12v6h-12zM749 624h6v6h-6z"/><path fill="#c8e020" d="M437 372h6v6h-6zM437 378h6v6h-6zM437 384h6v6h-6zM437 390h6v6h-6zM437 396h6v6h-6zM437 402h6v6h-6zM437 408h6v6h-6zM437 414h6v6h-6zM437 420h6v6h-6zM443 438h6v6h-6zM455 462h6v6h-6zM485 492h6v6h-6zM491 498h6v6h-6zM509 510h6v6h-6zM521 516h6v6h-6zM533 522h6v6h-6zM545 528h6v6h-6zM563 534h6v6h-6zM575 540h6v6h-6zM587 546h12v6h-12zM605 552h6v6h-6zM611 558h12v6h-12zM623 564h12v6h-12zM635 570h6v6h-6zM647 576h6v6h-6zM653 582h12v6h-12zM665 588h6v6h-6zM677 594h6v6h-6zM683 600h18v6h-18zM701 606h36v6h-36zM725 612h18v6h-18zM731 618h12v6h-12zM737 624h12v6h-12zM743 630h12v6h-12zM749 636h6v6h-6z"/><path fill="#d0e11c" d="M437 366h6v6h-6zM437 426h6v6h-6zM437 432h6v6h-6zM443 444h6v6h-6zM449 456h6v6h-6zM455 468h6v6h-6zM461 474h6v6h-6zM467 480h6v6h-6zM473 486h6v6h-6zM479 492h6v6h-6zM485 498h6v6h-6zM497 504h6v6h-6zM503 510h6v6h-6zM515 516h6v6h-6zM527 522h6v6h-6zM539 528h6v6h-6zM551 534h12v6h-12zM569 540h6v6h-6zM581 546h6v6h-6zM593 552h12v6h-12zM605 558h6v6h-6zM617 564h6v6h-6zM629 570h6v6h-6zM641 576h6v6h-6zM647 582h6v6h-6zM659 588h6v6h-6zM665 594h12v6h-12zM677 600h6v6h-6zM689 606h12v6h-12zM701 612h24v6h-24zM719 618h12v6h-12zM725 624h12v6h-12zM731 630h12v6h-12zM743 636h6v6h-6z"/><path fill="#d5e21a" d="M431 384h6v6h-6zM431 390h6v6h-6zM431 396h6v6h-6zM431 402h6v6h-6zM431 408h6v6h-6zM431 414h6v6h-6zM437 438h6v6h-6zM443 450h6v6h-6zM449 462h6v6h-6zM461 480h6v6h-6zM467 486h6v6h-6zM491 504h6v6h-6zM509 516h6v6h-6zM521 522h6v6h-6zM533 528h6v6h-6zM545 534h6v6h-6zM557 540h12v6h-12zM575 546h6v6h-6zM587 552h6v6h-6zM599 558h6v6h-6zM611 564h6v6h-6zM623 570h6v6h-6zM635 576h6v6h-6zM641 582h6v6h-6zM653 588h6v6h-6zM659 594h6v6h-6zM671 600h6v6h-6zM677 606h12v6h-12zM689 612h12v6h-12zM701 618h18v6h-18zM713 624h12v6h-12zM725 630h6v6h-6zM731 636h12v6h-12z"/><path fill="#dde318" d="M431 366h6v6h-6zM431 372h6v6h-6zM431 378h6v6h-6zM431 420h6v6h-6zM431 426h6v6h-6zM437 444h6v6h-6zM443 456h6v6h-6zM449 468h6v6h-6zM455 474h6v6h-6zM473 492h6v6h-6zM479 498h6v6h-6zM485 504h6v6h-6zM497 510h6v6h-6zM503 516h6v6h-6zM515 522h6v6h-6zM527 528h6v6h-6zM539 534h6v6h-6zM551 540h6v6h-6zM569 546h6v6h-6zM581 552h6v6h-6zM593 558h6v6h-6zM605 564h6v6h-6zM617 570h6v6h-6zM623 576h12v6h-12zM635 582h6v6h-6zM647 588h6v6h-6zM653 594h6v6h-6zM665 600h6v6h-6zM671 606h6v6h-6zM683 612h6v6h-6zM689 618h12v6h-12zM701 624h12v6h-12zM713 630h12v6h-12zM719 636h12v6h-12z"/><path fill="#e5e419" d="M425 396h6v6h-6zM431 432h6v6h-6zM431 438h6v6h-6zM437 450h6v6h-6zM443 462h6v6h-6zM455 480h6v6h-6zM461 486h6v6h-6zM467 492h6v6h-6zM473 498h6v6h-6zM491 510h6v6h-6zM497 516h6v6h-6zM509 522h6v6h-6zM521 528h6v6h-6zM533 534h6v6h-6zM545 540h6v6h-6zM557 546h12v6h-12zM575 552h6v6h-6zM587 558h6v6h-6zM599 564h6v6h-6zM611 570h6v6h-6zM617 576h6v6h-6zM629 582h6v6h-6zM641 588h6v6h-6zM647 594h6v6h-6zM653 600h12v6h-12zM665 606h6v6h-6zM671 612h12v6h-12zM683 618h6v6h-6zM695 624h6v6h-6zM701 630h12v6h-12zM713 636h6v6h-6z"/><path fill="#eae51a" d="M425 366h6v6h-6zM425 372h6v6h-6zM425 378h6v6h-6zM425 384h6v6h-6zM425 390h6v6h-6zM425 402h6v6h-6zM425 408h6v6h-6zM425 414h6v6h-6zM425 420h6v6h-6zM431 444h6v6h-6zM437 456h6v6h-6zM443 468h6v6h-6zM449 474h6v6h-6zM479 504h6v6h-6zM485 510h6v6h-6zM503 522h6v6h-6zM515 528h6v6h-6zM527 534h6v6h-6zM539 540h6v6h-6zM551 546h6v6h-6zM563 552h12v6h-12zM581 558h6v6h-6zM593 564h6v6h-6zM599 570h12v6h-12zM611 576h6v6h-6zM623 582h6v6h-6zM629 588h12v6h-12zM641 594h6v6h-6zM647 600h6v6h-6zM659 606h6v6h-6zM665 612h6v6h-6zM677 618h6v6h-6zM683 624h12v6h-12zM695 630h6v6h-6zM707 636h6v6h-6z"/><path fill="#f1e51d" d="M425 426h6v6h-6zM425 432h6v6h-6zM431 450h6v6h-6zM437 462h6v6h-6zM449 480h6v6h-6zM455 486h6v6h-6zM461 492h6v6h-6zM467 498h6v6h-6zM473 504h6v6h-6zM479 510h6v6h-6zM491 516h6v6h-6zM497 522h6v6h-6zM509 528h6v6h-6zM521 534h6v6h-6zM533 540h6v6h-6zM545 546h6v6h-6zM557 552h6v6h-6zM569 558h12v6h-12zM581 564h12v6h-12zM593 570h6v6h-6zM605 576h6v6h-6zM617 582h6v6h-6zM623 588h6v6h-6zM635 594h6v6h-6zM641 600h6v6h-6zM653 606h6v6h-6zM659 612h6v6h-6zM671 618h6v6h-6zM677 624h6v6h-6zM689 630h6v6h-6zM695 636h12v6h-12z"/><path fill="#f8e621" d="M419 372h6v6h-6zM419 378h6v6h-6zM419 384h6v6h-6zM419 390h6v6h-6zM419 396h6v6h-6zM419 402h6v6h-6zM419 408h6v6h-6zM419 414h6v6h-6zM425 438h6v6h-6zM431 456h6v6h-6zM437 468h6v6h-6zM443 474h6v6h-6zM485 516h6v6h-6zM503 528h6v6h-6zM515 534h6v6h-6zM527 540h6v6h-6zM539 546h6v6h-6zM551 552h6v6h-6zM563 558h6v6h-6zM575 564h6v6h-6zM587 570h6v6h-6zM599 576h6v6h-6zM611 582h6v6h-6zM617 588h6v6h-6zM629 594h6v6h-6zM635 600h6v6h-6zM647 606h6v6h-6zM653 612h6v6h-6zM659 618h12v6h-12zM671 624h6v6h-6zM677 630h12v6h-12zM689 636h6v6h-6z"/><path fill="#fde725" d="M419 366h6v6h-6zM419 420h6v6h-6zM419 426h6v6h-6zM419 432h6v6h-6zM419 438h6v6h-6zM419 444h12v6h-12zM419 450h12v6h-12zM419 456h12v6h-12zM419 462h18v6h-18zM419 468h18v6h-18zM419 474h24v6h-24zM419 480h30v6h-30zM419 486h36v6h-36zM419 492h42v6h-42zM419 498h48v6h-48zM419 504h54v6h-54zM419 510h60v6h-60zM419 516h66v6h-66zM419 522h78v6h-78zM419 528h84v6h-84zM419 534h96v6h-96zM419 540h108v6h-108zM419 546h120v6h-120zM419 552h132v6h-132zM419 558h144v6h-144zM419 564h156v6h-156zM419 570h168v6h-168zM419 576h180v6h-180zM419 582h192v6h-192zM419 588h198v6h-198zM419 594h210v6h-210zM419 600h216v6h-216zM419 606h228v6h-228zM419 612h234v6h-234zM419 618h240v6h-240zM419 624h252v6h-252zM419 630h258v6h-258zM419 636h270v6h-270z"/></g><rect x="425" y="372" width="316" height="256" fill="#fff" opacity="0.08"/></g>
<g clip-path="url(#re)"><line x1="428.0" y1="372.0" x2="741.0" y2="627.0" stroke="#cc2020" stroke-width="2" stroke-dasharray="3.0 3.4" stroke-linecap="round" opacity="0.92"/><line x1="503.5" y1="372.0" x2="742.0" y2="559.0" stroke="#cc2020" stroke-width="2" stroke-dasharray="3.0 3.4" stroke-linecap="round" opacity="0.92"/><line x1="581.0" y1="373.0" x2="742.0" y2="489.0" stroke="#cc2020" stroke-width="2" stroke-dasharray="3.0 3.4" stroke-linecap="round" opacity="0.92"/><polyline points="427.0,373.0 426.0,377.0" fill="none" stroke="#000" stroke-width="2" stroke-linejoin="round" stroke-linecap="butt"/><polyline points="471.3,372.2 469.5,379.9" fill="none" stroke="#000" stroke-width="2" stroke-linejoin="round" stroke-linecap="butt"/><polyline points="473.1,424.5 476.7,434.3" fill="none" stroke="#000" stroke-width="2" stroke-linejoin="round" stroke-linecap="butt"/><polyline points="509.6,372.2 514.1,385.3 521.2,401.3 531.9,415.5 549.7,433.4" fill="none" stroke="#000" stroke-width="2" stroke-linejoin="round" stroke-linecap="butt"/><polyline points="587.3,462.8 608.7,474.3 635.5,486.8 658.6,499.0 680.0,506.1 706.7,513.3 741.0,521.3" fill="none" stroke="#000" stroke-width="2" stroke-linejoin="round" stroke-linecap="butt"/><polyline points="551.5,372.2 560.4,385.3 572.9,397.7 582.0,408.4 599.8,417.3 624.8,429.8 644.4,442.3 662.2,458.3" fill="none" stroke="#000" stroke-width="2" stroke-linejoin="round" stroke-linecap="butt"/><polyline points="703.2,477.9 741.0,488.6" fill="none" stroke="#000" stroke-width="2" stroke-linejoin="round" stroke-linecap="butt"/><polyline points="603.4,373.0 617.6,385.3 639.0,401.3 662.2,415.5 685.3,429.8 712.1,451.2" fill="none" stroke="#000" stroke-width="2" stroke-linejoin="round" stroke-linecap="butt"/><polyline points="571.2,503.7 582.0,507.0 605.2,516.8 631.9,529.3 658.6,540.0 681.8,550.7 710.0,556.6" fill="none" stroke="#000" stroke-width="2" stroke-linejoin="round" stroke-linecap="butt"/><text x="0" y="0" font-size="18" text-anchor="middle" dominant-baseline="central" stroke="#000" stroke-width="0.3" transform="translate(468.7 403) rotate(90) scale(1.06 1)">0.80</text><text x="0" y="0" font-size="18" text-anchor="middle" dominant-baseline="central" stroke="#000" stroke-width="0.3" transform="translate(568 448) rotate(40) scale(1.06 1)">0.72</text><text x="0" y="0" font-size="18" text-anchor="middle" dominant-baseline="central" stroke="#000" stroke-width="0.3" transform="translate(681.5 468.5) rotate(25) scale(1.06 1)">0.64</text><text x="0" y="0" font-size="18" text-anchor="middle" dominant-baseline="central" stroke="#000" stroke-width="0.3" transform="translate(733 459) rotate(22) scale(1.06 1)">0.56</text><text x="0" y="0" font-size="18" text-anchor="middle" dominant-baseline="central" stroke="#000" stroke-width="0.3" transform="translate(735.5 557.5) rotate(3) scale(1.06 1)">0.80</text></g>
<rect x="425.5" y="372.5" width="315.8" height="255.9" fill="none" stroke="#000" stroke-width="1.15"/>
<line x1="441.6" y1="628.4" x2="441.6" y2="632.4" stroke="#000" stroke-width="1"/><text x="0" y="0" font-size="19.5" text-anchor="middle" stroke="#000" stroke-width="0.25" transform="translate(441.6 651.4) scale(1.1 1)">1</text><line x1="492.3" y1="628.4" x2="492.3" y2="632.4" stroke="#000" stroke-width="1"/><text x="0" y="0" font-size="19.5" text-anchor="middle" stroke="#000" stroke-width="0.25" transform="translate(492.3 651.4) scale(1.1 1)">2</text><line x1="543.0" y1="628.4" x2="543.0" y2="632.4" stroke="#000" stroke-width="1"/><text x="0" y="0" font-size="19.5" text-anchor="middle" stroke="#000" stroke-width="0.25" transform="translate(543.0 651.4) scale(1.1 1)">3</text><line x1="593.7" y1="628.4" x2="593.7" y2="632.4" stroke="#000" stroke-width="1"/><text x="0" y="0" font-size="19.5" text-anchor="middle" stroke="#000" stroke-width="0.25" transform="translate(593.7 651.4) scale(1.1 1)">4</text><line x1="644.4" y1="628.4" x2="644.4" y2="632.4" stroke="#000" stroke-width="1"/><text x="0" y="0" font-size="19.5" text-anchor="middle" stroke="#000" stroke-width="0.25" transform="translate(644.4 651.4) scale(1.1 1)">5</text><line x1="695.1" y1="628.4" x2="695.1" y2="632.4" stroke="#000" stroke-width="1"/><text x="0" y="0" font-size="19.5" text-anchor="middle" stroke="#000" stroke-width="0.25" transform="translate(695.1 651.4) scale(1.1 1)">6</text><line x1="421" y1="628.4" x2="425" y2="628.4" stroke="#000" stroke-width="1"/><text x="0" y="0" font-size="19.5" text-anchor="end" stroke="#000" stroke-width="0.25" transform="translate(418.4 635.8) scale(1.1 1)">0</text><line x1="421" y1="591.4" x2="425" y2="591.4" stroke="#000" stroke-width="1"/><text x="0" y="0" font-size="19.5" text-anchor="end" stroke="#000" stroke-width="0.25" transform="translate(418.4 598.8) scale(1.1 1)">1</text><line x1="421" y1="554.4" x2="425" y2="554.4" stroke="#000" stroke-width="1"/><text x="0" y="0" font-size="19.5" text-anchor="end" stroke="#000" stroke-width="0.25" transform="translate(418.4 561.8) scale(1.1 1)">2</text><line x1="421" y1="517.4" x2="425" y2="517.4" stroke="#000" stroke-width="1"/><text x="0" y="0" font-size="19.5" text-anchor="end" stroke="#000" stroke-width="0.25" transform="translate(418.4 524.8) scale(1.1 1)">3</text><line x1="421" y1="480.4" x2="425" y2="480.4" stroke="#000" stroke-width="1"/><text x="0" y="0" font-size="19.5" text-anchor="end" stroke="#000" stroke-width="0.25" transform="translate(418.4 487.8) scale(1.1 1)">4</text><line x1="421" y1="443.4" x2="425" y2="443.4" stroke="#000" stroke-width="1"/><text x="0" y="0" font-size="19.5" text-anchor="end" stroke="#000" stroke-width="0.25" transform="translate(418.4 450.8) scale(1.1 1)">5</text><line x1="421" y1="406.4" x2="425" y2="406.4" stroke="#000" stroke-width="1"/><text x="0" y="0" font-size="19.5" text-anchor="end" stroke="#000" stroke-width="0.25" transform="translate(418.4 413.8) scale(1.1 1)">6</text><text x="0" y="0" font-size="19.5" text-anchor="middle" stroke="#000" stroke-width="0.25" transform="translate(583.5 673.0) scale(1.1 1)">log(<tspan font-style="italic">K</tspan>)</text><text x="0" y="0" font-size="19.5" text-anchor="middle" stroke="#000" stroke-width="0.25" transform="translate(396.5 500.7) rotate(-90) scale(1.1 1)">log(<tspan font-style="italic">n</tspan>)</text><text class="cap" x="561" y="724" font-size="26.8" text-anchor="middle">(e) Stanford40</text>
<g clip-path="url(#df)"><g filter="url(#bl)"><path fill="#440154" d="M1028 366h108v6h-108zM1034 372h102v6h-102zM1040 378h96v6h-96zM1046 384h90v6h-90zM1052 390h84v6h-84zM1052 396h84v6h-84zM1058 402h78v6h-78zM1064 408h72v6h-72zM1076 414h60v6h-60zM1082 420h54v6h-54zM1088 426h48v6h-48zM1100 432h36v6h-36zM1112 438h24v6h-24zM1130 444h6v6h-6z"/><path fill="#450457" d="M1046 390h6v6h-6zM1070 414h6v6h-6zM1076 420h6v6h-6zM1094 432h6v6h-6zM1106 438h6v6h-6zM1124 444h6v6h-6z"/><path fill="#46085c" d="M1034 378h6v6h-6zM1040 384h6v6h-6zM1082 426h6v6h-6zM1118 444h6v6h-6z"/><path fill="#470d60" d="M1028 372h6v6h-6zM1052 402h6v6h-6zM1058 408h6v6h-6zM1064 414h6v6h-6zM1088 432h6v6h-6zM1100 438h6v6h-6z"/><path fill="#471063" d="M1022 366h6v6h-6zM1040 390h6v6h-6zM1046 396h6v6h-6zM1070 420h6v6h-6zM1112 444h6v6h-6zM1130 450h6v6h-6z"/><path fill="#481467" d="M1028 378h6v6h-6zM1034 384h6v6h-6zM1076 426h6v6h-6zM1094 438h6v6h-6zM1124 450h6v6h-6z"/><path fill="#48186a" d="M1022 372h6v6h-6zM1046 402h6v6h-6zM1052 408h6v6h-6zM1058 414h6v6h-6zM1082 432h6v6h-6zM1106 444h6v6h-6z"/><path fill="#481b6d" d="M1016 366h6v6h-6zM1040 396h6v6h-6zM1064 420h6v6h-6zM1088 438h6v6h-6zM1118 450h6v6h-6z"/><path fill="#481f70" d="M1022 378h6v6h-6zM1028 384h6v6h-6zM1034 390h6v6h-6zM1070 426h6v6h-6zM1100 444h6v6h-6z"/><path fill="#482374" d="M1016 372h6v6h-6zM1046 408h6v6h-6zM1052 414h6v6h-6zM1076 432h6v6h-6zM1112 450h6v6h-6zM1130 456h6v6h-6z"/><path fill="#482576" d="M1010 366h6v6h-6zM1034 396h6v6h-6zM1040 402h6v6h-6zM1058 420h6v6h-6zM1082 438h6v6h-6zM1094 444h6v6h-6zM1124 456h6v6h-6z"/><path fill="#482979" d="M1016 378h6v6h-6zM1022 384h6v6h-6zM1028 390h6v6h-6zM1064 426h6v6h-6zM1088 444h6v6h-6zM1106 450h6v6h-6z"/><path fill="#472d7b" d="M1046 414h6v6h-6zM1070 432h6v6h-6zM1118 456h6v6h-6z"/><path fill="#46307e" d="M1010 372h6v6h-6zM1034 402h6v6h-6zM1040 408h6v6h-6zM1052 420h6v6h-6zM1076 438h6v6h-6zM1100 450h6v6h-6z"/><path fill="#46337f" d="M1004 366h6v6h-6zM1016 384h6v6h-6zM1022 390h6v6h-6zM1028 396h6v6h-6zM1058 426h6v6h-6zM1112 456h6v6h-6zM1130 462h6v6h-6z"/><path fill="#453781" d="M1010 378h6v6h-6zM1064 432h6v6h-6zM1082 444h6v6h-6zM1094 450h6v6h-6z"/><path fill="#443a83" d="M1004 372h6v6h-6zM1034 408h6v6h-6zM1040 414h6v6h-6zM1046 420h6v6h-6zM1070 438h6v6h-6zM1106 456h6v6h-6zM1124 462h6v6h-6z"/><path fill="#433d84" d="M1010 384h6v6h-6zM1016 390h6v6h-6zM1022 396h6v6h-6zM1028 402h6v6h-6zM1052 426h6v6h-6zM1088 450h6v6h-6zM1118 462h6v6h-6z"/><path fill="#424086" d="M998 366h6v6h-6zM1058 432h6v6h-6zM1076 444h6v6h-6z"/><path fill="#414487" d="M1004 378h6v6h-6zM1040 420h6v6h-6zM1064 438h6v6h-6zM1100 456h6v6h-6zM1112 462h6v6h-6z"/><path fill="#404688" d="M998 372h6v6h-6zM1010 390h6v6h-6zM1016 396h6v6h-6zM1022 402h6v6h-6zM1028 408h6v6h-6zM1034 414h6v6h-6zM1046 426h6v6h-6zM1082 450h6v6h-6zM1130 468h6v6h-6z"/><path fill="#3e4989" d="M992 366h6v6h-6zM1004 384h6v6h-6zM1052 432h6v6h-6zM1070 444h6v6h-6zM1094 456h6v6h-6zM1124 468h6v6h-6z"/><path fill="#3d4d8a" d="M998 378h6v6h-6zM1010 396h6v6h-6zM1058 438h6v6h-6zM1106 462h6v6h-6z"/><path fill="#3c4f8a" d="M1004 390h6v6h-6zM1016 402h6v6h-6zM1022 408h6v6h-6zM1028 414h6v6h-6zM1034 420h6v6h-6zM1040 426h6v6h-6zM1076 450h6v6h-6zM1088 456h6v6h-6zM1118 468h6v6h-6z"/><path fill="#3b528b" d="M986 366h6v6h-6zM992 372h6v6h-6zM1046 432h6v6h-6zM1064 444h6v6h-6zM1100 462h6v6h-6z"/><path fill="#39558c" d="M998 384h6v6h-6zM1004 396h6v6h-6zM1010 402h6v6h-6zM1052 438h6v6h-6zM1112 468h6v6h-6zM1130 474h6v6h-6z"/><path fill="#38598c" d="M980 366h6v6h-6zM992 378h6v6h-6zM1016 408h6v6h-6zM1022 414h6v6h-6zM1028 420h6v6h-6zM1034 426h6v6h-6zM1040 432h6v6h-6zM1058 444h6v6h-6zM1070 450h6v6h-6zM1082 456h6v6h-6zM1094 462h6v6h-6z"/><path fill="#375b8d" d="M986 372h6v6h-6zM998 390h6v6h-6zM1106 468h6v6h-6zM1124 474h6v6h-6z"/><path fill="#355e8d" d="M992 384h6v6h-6zM1004 402h6v6h-6zM1046 438h6v6h-6zM1064 450h6v6h-6z"/><path fill="#34618d" d="M974 366h6v6h-6zM980 372h6v6h-6zM998 396h6v6h-6zM1010 408h6v6h-6zM1016 414h6v6h-6zM1052 444h6v6h-6zM1076 456h6v6h-6zM1088 462h6v6h-6zM1100 468h6v6h-6zM1118 474h6v6h-6z"/><path fill="#33638d" d="M986 378h6v6h-6zM992 390h6v6h-6zM1022 420h6v6h-6zM1028 426h6v6h-6zM1034 432h6v6h-6zM1040 438h6v6h-6zM1112 474h6v6h-6zM1130 480h6v6h-6z"/><path fill="#31668e" d="M998 402h6v6h-6zM1004 408h6v6h-6zM1046 444h6v6h-6zM1058 450h6v6h-6zM1070 456h6v6h-6zM1082 462h6v6h-6zM1094 468h6v6h-6z"/><path fill="#30698e" d="M968 366h6v6h-6zM974 372h6v6h-6zM980 378h6v6h-6zM986 384h6v6h-6zM1010 414h6v6h-6zM1106 474h6v6h-6zM1124 480h6v6h-6z"/><path fill="#2f6b8e" d="M992 396h6v6h-6zM1016 420h6v6h-6zM1022 426h6v6h-6zM1028 432h6v6h-6zM1034 438h6v6h-6zM1052 450h6v6h-6zM1064 456h6v6h-6z"/><path fill="#2e6e8e" d="M968 372h6v6h-6zM974 378h6v6h-6zM980 384h6v6h-6zM986 390h6v6h-6zM998 408h6v6h-6zM1040 444h6v6h-6zM1076 462h6v6h-6zM1088 468h6v6h-6zM1100 474h6v6h-6zM1118 480h6v6h-6z"/><path fill="#2d718e" d="M992 402h6v6h-6zM1004 414h6v6h-6zM1010 420h6v6h-6zM1016 426h6v6h-6zM1022 432h6v6h-6zM1028 438h6v6h-6zM1046 450h6v6h-6zM1058 456h6v6h-6zM1070 462h6v6h-6zM1112 480h6v6h-6z"/><path fill="#2c738e" d="M962 366h6v6h-6zM986 396h6v6h-6zM1034 444h6v6h-6zM1082 468h6v6h-6zM1094 474h6v6h-6zM1130 486h6v6h-6z"/><path fill="#2b758e" d="M968 378h6v6h-6zM974 384h6v6h-6zM980 390h6v6h-6zM1040 450h6v6h-6zM1052 456h6v6h-6zM1064 462h6v6h-6zM1106 480h6v6h-6zM1124 486h6v6h-6z"/><path fill="#2a788e" d="M962 372h6v6h-6zM986 402h6v6h-6zM992 408h6v6h-6zM998 414h6v6h-6zM1004 420h6v6h-6zM1010 426h6v6h-6zM1016 432h6v6h-6zM1022 438h6v6h-6zM1028 444h6v6h-6zM1076 468h6v6h-6zM1088 474h6v6h-6zM1100 480h6v6h-6z"/><path fill="#297b8e" d="M956 366h6v6h-6zM968 384h6v6h-6zM974 390h6v6h-6zM980 396h6v6h-6zM1034 450h6v6h-6zM1046 456h6v6h-6zM1058 462h6v6h-6zM1070 468h6v6h-6zM1082 474h6v6h-6zM1118 486h6v6h-6z"/><path fill="#287d8e" d="M962 378h6v6h-6zM1094 480h6v6h-6zM1112 486h6v6h-6zM1130 492h6v6h-6z"/><path fill="#27808e" d="M956 372h6v6h-6zM980 402h6v6h-6zM986 408h6v6h-6zM992 414h6v6h-6zM998 420h6v6h-6zM1004 426h6v6h-6zM1010 432h6v6h-6zM1016 438h6v6h-6zM1022 444h6v6h-6zM1028 450h6v6h-6zM1040 456h6v6h-6zM1052 462h6v6h-6zM1064 468h6v6h-6zM1076 474h6v6h-6zM1088 480h6v6h-6z"/><path fill="#26828e" d="M962 384h6v6h-6zM968 390h6v6h-6zM974 396h6v6h-6zM1034 456h6v6h-6zM1046 462h6v6h-6zM1058 468h6v6h-6zM1106 486h6v6h-6zM1124 492h6v6h-6z"/><path fill="#25848e" d="M950 366h6v6h-6zM956 378h6v6h-6zM1010 438h6v6h-6zM1016 444h6v6h-6zM1022 450h6v6h-6zM1070 474h6v6h-6zM1082 480h6v6h-6zM1100 486h6v6h-6z"/><path fill="#24878e" d="M950 372h6v6h-6zM962 390h6v6h-6zM968 396h6v6h-6zM974 402h6v6h-6zM980 408h6v6h-6zM986 414h6v6h-6zM992 420h6v6h-6zM998 426h6v6h-6zM1004 432h6v6h-6zM1028 456h6v6h-6zM1040 462h6v6h-6zM1052 468h6v6h-6zM1064 474h6v6h-6zM1094 486h6v6h-6zM1118 492h6v6h-6z"/><path fill="#238a8d" d="M950 378h6v6h-6zM956 384h6v6h-6zM1034 462h6v6h-6zM1046 468h6v6h-6zM1076 480h6v6h-6zM1088 486h6v6h-6zM1112 492h6v6h-6zM1130 498h6v6h-6z"/><path fill="#228c8d" d="M944 366h6v6h-6zM956 390h6v6h-6zM962 396h6v6h-6zM968 402h6v6h-6zM974 408h6v6h-6zM998 432h6v6h-6zM1004 438h6v6h-6zM1010 444h6v6h-6zM1016 450h6v6h-6zM1022 456h6v6h-6zM1040 468h6v6h-6zM1058 474h6v6h-6zM1070 480h6v6h-6zM1106 492h6v6h-6z"/><path fill="#218f8d" d="M944 372h6v6h-6zM950 384h6v6h-6zM980 414h6v6h-6zM986 420h6v6h-6zM992 426h6v6h-6zM1028 462h6v6h-6zM1034 468h6v6h-6zM1052 474h6v6h-6zM1082 486h6v6h-6zM1100 492h6v6h-6zM1124 498h6v6h-6z"/><path fill="#20928c" d="M938 366h6v6h-6zM944 378h6v6h-6zM950 390h6v6h-6zM956 396h6v6h-6zM962 402h6v6h-6zM968 408h6v6h-6zM998 438h6v6h-6zM1004 444h6v6h-6zM1010 450h6v6h-6zM1016 456h6v6h-6zM1022 462h6v6h-6zM1046 474h6v6h-6zM1064 480h6v6h-6zM1076 486h6v6h-6zM1094 492h6v6h-6zM1118 498h6v6h-6z"/><path fill="#1f948c" d="M938 372h6v6h-6zM944 384h6v6h-6zM974 414h6v6h-6zM980 420h6v6h-6zM986 426h6v6h-6zM992 432h6v6h-6zM1028 468h6v6h-6zM1040 474h6v6h-6zM1058 480h6v6h-6zM1112 498h6v6h-6z"/><path fill="#1f968b" d="M932 366h6v6h-6zM938 378h6v6h-6zM950 396h6v6h-6zM956 402h6v6h-6zM962 408h6v6h-6zM1004 450h6v6h-6zM1010 456h6v6h-6zM1034 474h6v6h-6zM1052 480h6v6h-6zM1070 486h6v6h-6zM1088 492h6v6h-6zM1106 498h6v6h-6zM1130 504h6v6h-6z"/><path fill="#1f998a" d="M932 372h6v6h-6zM938 384h6v6h-6zM944 390h6v6h-6zM968 414h6v6h-6zM974 420h6v6h-6zM980 426h6v6h-6zM986 432h6v6h-6zM992 438h6v6h-6zM998 444h6v6h-6zM1016 462h6v6h-6zM1022 468h6v6h-6zM1064 486h6v6h-6zM1082 492h6v6h-6zM1124 504h6v6h-6z"/><path fill="#1e9c89" d="M926 366h6v6h-6zM932 378h6v6h-6zM938 390h6v6h-6zM944 396h6v6h-6zM950 402h6v6h-6zM956 408h6v6h-6zM962 414h6v6h-6zM1028 474h6v6h-6zM1046 480h6v6h-6zM1076 492h6v6h-6zM1100 498h6v6h-6zM1118 504h6v6h-6z"/><path fill="#1f9e89" d="M926 372h6v6h-6zM932 384h6v6h-6zM944 402h6v6h-6zM968 420h6v6h-6zM974 426h6v6h-6zM980 432h6v6h-6zM986 438h6v6h-6zM992 444h6v6h-6zM998 450h6v6h-6zM1004 456h6v6h-6zM1010 462h6v6h-6zM1016 468h6v6h-6zM1040 480h6v6h-6zM1058 486h6v6h-6zM1094 498h6v6h-6z"/><path fill="#1fa188" d="M920 366h6v6h-6zM926 378h6v6h-6zM932 390h6v6h-6zM938 396h6v6h-6zM950 408h6v6h-6zM956 414h6v6h-6zM962 420h6v6h-6zM1022 474h6v6h-6zM1034 480h6v6h-6zM1052 486h6v6h-6zM1070 492h6v6h-6zM1088 498h6v6h-6zM1112 504h6v6h-6zM1130 510h6v6h-6z"/><path fill="#20a386" d="M920 372h6v6h-6zM926 384h6v6h-6zM932 396h6v6h-6zM938 402h6v6h-6zM944 408h6v6h-6zM950 414h6v6h-6zM968 426h6v6h-6zM974 432h6v6h-6zM980 438h6v6h-6zM986 444h6v6h-6zM992 450h6v6h-6zM998 456h6v6h-6zM1004 462h6v6h-6zM1010 468h6v6h-6zM1046 486h6v6h-6zM1064 492h6v6h-6zM1082 498h6v6h-6zM1106 504h6v6h-6zM1124 510h6v6h-6z"/><path fill="#21a585" d="M914 366h6v6h-6zM920 378h6v6h-6zM920 384h6v6h-6zM926 390h6v6h-6zM938 408h6v6h-6zM956 420h6v6h-6zM962 426h6v6h-6zM968 432h6v6h-6zM1016 474h6v6h-6zM1028 480h6v6h-6zM1040 486h6v6h-6zM1058 492h6v6h-6zM1076 498h6v6h-6zM1100 504h6v6h-6z"/><path fill="#22a884" d="M914 372h6v6h-6zM914 378h6v6h-6zM920 390h6v6h-6zM926 396h6v6h-6zM932 402h6v6h-6zM944 414h6v6h-6zM950 420h6v6h-6zM956 426h6v6h-6zM974 438h6v6h-6zM980 444h6v6h-6zM986 450h6v6h-6zM992 456h6v6h-6zM998 462h6v6h-6zM1004 468h6v6h-6zM1052 492h6v6h-6zM1070 498h6v6h-6zM1094 504h6v6h-6zM1118 510h6v6h-6z"/><path fill="#25ab82" d="M908 366h6v6h-6zM908 372h6v6h-6zM914 384h6v6h-6zM920 396h6v6h-6zM926 402h6v6h-6zM932 408h6v6h-6zM938 414h6v6h-6zM944 420h6v6h-6zM962 432h6v6h-6zM968 438h6v6h-6zM974 444h6v6h-6zM980 450h6v6h-6zM986 456h6v6h-6zM1010 474h6v6h-6zM1022 480h6v6h-6zM1034 486h6v6h-6zM1088 504h6v6h-6zM1112 510h6v6h-6zM1130 516h6v6h-6z"/><path fill="#26ad81" d="M908 378h6v6h-6zM914 390h6v6h-6zM920 402h6v6h-6zM926 408h6v6h-6zM932 414h6v6h-6zM938 420h6v6h-6zM950 426h6v6h-6zM956 432h6v6h-6zM962 438h6v6h-6zM992 462h6v6h-6zM998 468h6v6h-6zM1028 486h6v6h-6zM1046 492h6v6h-6zM1064 498h6v6h-6zM1082 504h6v6h-6zM1106 510h6v6h-6zM1124 516h6v6h-6z"/><path fill="#29af7f" d="M902 366h6v6h-6zM902 372h6v6h-6zM908 384h6v6h-6zM908 390h6v6h-6zM914 396h6v6h-6zM926 414h6v6h-6zM932 420h6v6h-6zM944 426h6v6h-6zM950 432h6v6h-6zM956 438h6v6h-6zM968 444h6v6h-6zM974 450h6v6h-6zM980 456h6v6h-6zM986 462h6v6h-6zM1004 474h6v6h-6zM1016 480h6v6h-6zM1040 492h6v6h-6zM1058 498h6v6h-6zM1076 504h6v6h-6zM1100 510h6v6h-6zM1118 516h6v6h-6z"/><path fill="#2db27d" d="M902 378h6v6h-6zM902 384h6v6h-6zM908 396h6v6h-6zM914 402h6v6h-6zM920 408h6v6h-6zM938 426h6v6h-6zM944 432h6v6h-6zM950 438h6v6h-6zM962 444h6v6h-6zM968 450h6v6h-6zM974 456h6v6h-6zM980 462h6v6h-6zM992 468h6v6h-6zM998 474h6v6h-6zM1010 480h6v6h-6zM1022 486h6v6h-6zM1034 492h6v6h-6zM1052 498h6v6h-6zM1070 504h6v6h-6zM1088 510h12v6h-12zM1112 516h6v6h-6zM1130 522h6v6h-6z"/><path fill="#31b57b" d="M896 366h6v6h-6zM902 390h6v6h-6zM908 402h6v6h-6zM914 408h6v6h-6zM920 414h6v6h-6zM926 420h6v6h-6zM932 426h6v6h-6zM938 432h6v6h-6zM944 438h6v6h-6zM956 444h6v6h-6zM962 450h6v6h-6zM968 456h6v6h-6zM974 462h6v6h-6zM986 468h6v6h-6zM1046 498h6v6h-6zM1064 504h6v6h-6zM1082 510h6v6h-6zM1106 516h6v6h-6z"/><path fill="#34b679" d="M896 372h6v6h-6zM896 378h6v6h-6zM896 384h6v6h-6zM902 396h6v6h-6zM914 414h6v6h-6zM920 420h6v6h-6zM926 426h6v6h-6zM932 432h6v6h-6zM938 438h6v6h-6zM950 444h6v6h-6zM956 450h6v6h-6zM962 456h6v6h-6zM968 462h6v6h-6zM980 468h6v6h-6zM992 474h6v6h-6zM1004 480h6v6h-6zM1016 486h6v6h-6zM1028 492h6v6h-6zM1040 498h6v6h-6zM1058 504h6v6h-6zM1076 510h6v6h-6zM1100 516h6v6h-6zM1124 522h6v6h-6z"/><path fill="#38b977" d="M896 390h6v6h-6zM902 402h6v6h-6zM908 408h6v6h-6zM914 420h6v6h-6zM920 426h6v6h-6zM926 432h6v6h-6zM932 438h6v6h-6zM944 444h6v6h-6zM950 450h6v6h-6zM956 456h6v6h-6zM962 462h6v6h-6zM974 468h6v6h-6zM986 474h6v6h-6zM998 480h6v6h-6zM1010 486h6v6h-6zM1022 492h6v6h-6zM1034 498h6v6h-6zM1052 504h6v6h-6zM1070 510h6v6h-6zM1094 516h6v6h-6zM1118 522h6v6h-6zM1130 528h6v6h-6z"/><path fill="#3dbc74" d="M890 366h6v6h-6zM890 372h6v6h-6zM896 396h6v6h-6zM902 408h6v6h-6zM908 414h6v6h-6zM914 426h6v6h-6zM920 432h6v6h-6zM926 438h6v6h-6zM938 444h6v6h-6zM944 450h6v6h-6zM950 456h6v6h-6zM956 462h6v6h-6zM968 468h6v6h-6zM980 474h6v6h-6zM992 480h6v6h-6zM1004 486h6v6h-6zM1016 492h6v6h-6zM1028 498h6v6h-6zM1046 504h6v6h-6zM1064 510h6v6h-6zM1088 516h6v6h-6zM1112 522h6v6h-6z"/><path fill="#40bd72" d="M890 378h6v6h-6zM890 384h6v6h-6zM896 402h6v6h-6zM902 414h6v6h-6zM908 420h6v6h-6zM932 444h6v6h-6zM938 450h6v6h-6zM944 456h6v6h-6zM950 462h6v6h-6zM962 468h6v6h-6zM968 474h12v6h-12zM986 480h6v6h-6zM998 486h6v6h-6zM1040 504h6v6h-6zM1058 510h6v6h-6zM1082 516h6v6h-6zM1100 522h12v6h-12zM1124 528h6v6h-6z"/><path fill="#46c06f" d="M890 390h6v6h-6zM890 396h6v6h-6zM896 408h6v6h-6zM902 420h6v6h-6zM908 426h6v6h-6zM914 432h6v6h-6zM920 438h6v6h-6zM926 444h6v6h-6zM932 450h6v6h-6zM938 456h6v6h-6zM944 462h6v6h-6zM956 468h6v6h-6zM962 474h6v6h-6zM980 480h6v6h-6zM992 486h6v6h-6zM1010 492h6v6h-6zM1022 498h6v6h-6zM1034 504h6v6h-6zM1052 510h6v6h-6zM1070 516h12v6h-12zM1094 522h6v6h-6zM1118 528h6v6h-6zM1130 534h6v6h-6z"/><path fill="#4cc26c" d="M884 366h6v6h-6zM884 372h6v6h-6zM884 378h6v6h-6zM890 402h6v6h-6zM896 414h6v6h-6zM902 426h6v6h-6zM908 432h6v6h-6zM914 438h6v6h-6zM920 444h6v6h-6zM926 450h6v6h-6zM932 456h6v6h-6zM938 462h6v6h-6zM950 468h6v6h-6zM956 474h6v6h-6zM968 480h12v6h-12zM986 486h6v6h-6zM998 492h12v6h-12zM1016 498h6v6h-6zM1028 504h6v6h-6zM1040 510h12v6h-12zM1064 516h6v6h-6zM1088 522h6v6h-6zM1106 528h12v6h-12zM1124 534h6v6h-6z"/><path fill="#50c46a" d="M884 384h6v6h-6zM884 390h6v6h-6zM890 408h6v6h-6zM896 420h6v6h-6zM902 432h6v6h-6zM908 438h6v6h-6zM914 444h6v6h-6zM920 450h6v6h-6zM926 456h6v6h-6zM932 462h6v6h-6zM944 468h6v6h-6zM950 474h6v6h-6zM962 480h6v6h-6zM974 486h12v6h-12zM992 492h6v6h-6zM1010 498h6v6h-6zM1022 504h6v6h-6zM1034 510h6v6h-6zM1052 516h12v6h-12zM1076 522h12v6h-12zM1100 528h6v6h-6zM1118 534h6v6h-6zM1130 540h6v6h-6z"/><path fill="#56c667" d="M884 396h6v6h-6zM884 402h6v6h-6zM890 414h6v6h-6zM896 426h6v6h-6zM902 438h6v6h-6zM908 444h6v6h-6zM914 450h6v6h-6zM920 456h6v6h-6zM926 462h6v6h-6zM938 468h6v6h-6zM944 474h6v6h-6zM956 480h6v6h-6zM968 486h6v6h-6zM986 492h6v6h-6zM998 498h12v6h-12zM1016 504h6v6h-6zM1028 510h6v6h-6zM1046 516h6v6h-6zM1070 522h6v6h-6zM1088 528h12v6h-12zM1112 534h6v6h-6zM1124 540h6v6h-6z"/><path fill="#5cc863" d="M878 366h6v6h-6zM878 372h6v6h-6zM878 378h6v6h-6zM884 408h6v6h-6zM890 420h6v6h-6zM890 426h6v6h-6zM896 432h6v6h-6zM902 444h6v6h-6zM908 450h6v6h-6zM914 456h6v6h-6zM920 462h6v6h-6zM932 468h6v6h-6zM938 474h6v6h-6zM950 480h6v6h-6zM962 486h6v6h-6zM974 492h12v6h-12zM992 498h6v6h-6zM1010 504h6v6h-6zM1022 510h6v6h-6zM1040 516h6v6h-6zM1058 522h12v6h-12zM1082 528h6v6h-6zM1100 534h12v6h-12zM1118 540h6v6h-6zM1130 546h6v6h-6z"/><path fill="#63cb5f" d="M878 384h6v6h-6zM878 390h6v6h-6zM878 396h6v6h-6zM884 414h6v6h-6zM884 420h6v6h-6zM890 432h6v6h-6zM896 438h6v6h-6zM902 450h6v6h-6zM908 456h6v6h-6zM914 462h6v6h-6zM926 468h6v6h-6zM932 474h6v6h-6zM944 480h6v6h-6zM950 486h12v6h-12zM968 492h6v6h-6zM980 498h12v6h-12zM998 504h12v6h-12zM1016 510h6v6h-6zM1028 516h12v6h-12zM1046 522h12v6h-12zM1070 528h12v6h-12zM1094 534h6v6h-6zM1112 540h6v6h-6z"/><path fill="#67cc5c" d="M878 402h6v6h-6zM878 408h6v6h-6zM884 426h6v6h-6zM890 438h6v6h-6zM896 444h6v6h-6zM902 456h6v6h-6zM920 468h6v6h-6zM926 474h6v6h-6zM932 480h12v6h-12zM944 486h6v6h-6zM956 492h12v6h-12zM974 498h6v6h-6zM992 504h6v6h-6zM1004 510h12v6h-12zM1022 516h6v6h-6zM1040 522h6v6h-6zM1058 528h12v6h-12zM1082 534h12v6h-12zM1106 540h6v6h-6zM1118 546h12v6h-12zM1130 552h6v6h-6z"/><path fill="#6ece58" d="M872 366h6v6h-6zM872 372h6v6h-6zM872 378h6v6h-6zM872 384h6v6h-6zM878 414h6v6h-6zM878 420h6v6h-6zM884 432h6v6h-6zM884 438h6v6h-6zM890 444h6v6h-6zM896 450h6v6h-6zM908 462h6v6h-6zM914 468h6v6h-6zM920 474h6v6h-6zM926 480h6v6h-6zM938 486h6v6h-6zM950 492h6v6h-6zM962 498h12v6h-12zM980 504h12v6h-12zM998 510h6v6h-6zM1016 516h6v6h-6zM1028 522h12v6h-12zM1046 528h12v6h-12zM1070 534h12v6h-12zM1094 540h12v6h-12zM1112 546h6v6h-6zM1124 552h6v6h-6z"/><path fill="#75d054" d="M872 390h6v6h-6zM872 396h6v6h-6zM872 402h6v6h-6zM872 408h6v6h-6zM878 426h6v6h-6zM878 432h6v6h-6zM884 444h6v6h-6zM890 450h6v6h-6zM896 456h6v6h-6zM902 462h6v6h-6zM908 468h6v6h-6zM914 474h6v6h-6zM920 480h6v6h-6zM932 486h6v6h-6zM944 492h6v6h-6zM956 498h6v6h-6zM968 504h12v6h-12zM986 510h12v6h-12zM1004 516h12v6h-12zM1022 522h6v6h-6zM1034 528h12v6h-12zM1058 534h12v6h-12zM1076 540h18v6h-18zM1100 546h12v6h-12zM1118 552h6v6h-6zM1130 558h6v6h-6z"/><path fill="#7ad151" d="M872 414h6v6h-6zM872 420h6v6h-6zM872 426h6v6h-6zM878 438h6v6h-6zM878 444h6v6h-6zM884 450h6v6h-6zM890 456h6v6h-6zM896 462h6v6h-6zM902 468h6v6h-6zM908 474h6v6h-6zM914 480h6v6h-6zM926 486h6v6h-6zM932 492h12v6h-12zM944 498h12v6h-12zM962 504h6v6h-6zM974 510h12v6h-12zM992 516h12v6h-12zM1010 522h12v6h-12zM1022 528h12v6h-12zM1040 534h18v6h-18zM1064 540h12v6h-12zM1088 546h12v6h-12zM1106 552h12v6h-12zM1124 558h6v6h-6z"/><path fill="#81d34d" d="M866 366h6v6h-6zM866 372h6v6h-6zM866 378h6v6h-6zM866 384h6v6h-6zM866 390h6v6h-6zM866 396h6v6h-6zM866 402h6v6h-6zM866 408h6v6h-6zM866 414h6v6h-6zM866 420h6v6h-6zM872 432h6v6h-6zM872 438h6v6h-6zM878 450h6v6h-6zM884 456h6v6h-6zM890 462h6v6h-6zM896 468h6v6h-6zM902 474h6v6h-6zM908 480h6v6h-6zM914 486h12v6h-12zM926 492h6v6h-6zM938 498h6v6h-6zM950 504h12v6h-12zM968 510h6v6h-6zM986 516h6v6h-6zM998 522h12v6h-12zM1016 528h6v6h-6zM1028 534h12v6h-12zM1046 540h18v6h-18zM1070 546h18v6h-18zM1094 552h12v6h-12zM1112 558h12v6h-12zM1130 564h6v6h-6z"/><path fill="#89d548" d="M866 426h6v6h-6zM866 432h6v6h-6zM866 438h6v6h-6zM872 444h6v6h-6zM872 450h6v6h-6zM878 456h6v6h-6zM884 462h6v6h-6zM890 468h6v6h-6zM896 474h6v6h-6zM902 480h6v6h-6zM908 486h6v6h-6zM920 492h6v6h-6zM932 498h6v6h-6zM944 504h6v6h-6zM956 510h12v6h-12zM974 516h12v6h-12zM986 522h12v6h-12zM1004 528h12v6h-12zM1016 534h12v6h-12zM1034 540h12v6h-12zM1052 546h18v6h-18zM1076 552h18v6h-18zM1094 558h18v6h-18zM1118 564h12v6h-12zM1130 570h6v6h-6z"/><path fill="#8ed645" d="M860 366h6v6h-6zM860 372h6v6h-6zM860 378h6v6h-6zM860 384h6v6h-6zM860 390h6v6h-6zM860 396h6v6h-6zM860 402h6v6h-6zM860 408h6v6h-6zM860 414h6v6h-6zM860 420h6v6h-6zM860 426h6v6h-6zM860 432h6v6h-6zM860 438h6v6h-6zM866 444h6v6h-6zM866 450h6v6h-6zM872 456h6v6h-6zM878 462h6v6h-6zM884 468h6v6h-6zM890 474h6v6h-6zM896 480h6v6h-6zM902 486h6v6h-6zM914 492h6v6h-6zM920 498h12v6h-12zM932 504h12v6h-12zM944 510h12v6h-12zM962 516h12v6h-12zM980 522h6v6h-6zM992 528h12v6h-12zM1010 534h6v6h-6zM1022 540h12v6h-12zM1040 546h12v6h-12zM1058 552h18v6h-18zM1076 558h18v6h-18zM1100 564h18v6h-18zM1124 570h6v6h-6zM1130 576h6v6h-6z"/><path fill="#95d840" d="M854 396h6v6h-6zM854 402h6v6h-6zM854 408h6v6h-6zM854 414h6v6h-6zM854 420h6v6h-6zM854 426h6v6h-6zM854 432h6v6h-6zM860 444h6v6h-6zM866 456h6v6h-6zM872 462h6v6h-6zM878 468h6v6h-6zM884 474h6v6h-6zM890 480h6v6h-6zM896 486h6v6h-6zM902 492h12v6h-12zM914 498h6v6h-6zM926 504h6v6h-6zM938 510h6v6h-6zM950 516h12v6h-12zM968 522h12v6h-12zM980 528h12v6h-12zM998 534h12v6h-12zM1010 540h12v6h-12zM1028 546h12v6h-12zM1040 552h18v6h-18zM1058 558h18v6h-18zM1070 564h30v6h-30zM1100 570h24v6h-24zM1124 576h6v6h-6zM1130 582h6v6h-6z"/><path fill="#9dd93b" d="M854 366h6v6h-6zM854 372h6v6h-6zM854 378h6v6h-6zM854 384h6v6h-6zM854 390h6v6h-6zM848 402h6v6h-6zM848 408h6v6h-6zM848 414h6v6h-6zM848 420h6v6h-6zM848 426h6v6h-6zM848 432h6v6h-6zM848 438h12v6h-12zM854 444h6v6h-6zM854 450h12v6h-12zM860 456h6v6h-6zM866 462h6v6h-6zM872 468h6v6h-6zM878 474h6v6h-6zM884 480h6v6h-6zM890 486h6v6h-6zM896 492h6v6h-6zM908 498h6v6h-6zM914 504h12v6h-12zM926 510h12v6h-12zM938 516h12v6h-12zM956 522h12v6h-12zM974 528h6v6h-6zM986 534h12v6h-12zM998 540h12v6h-12zM1016 546h12v6h-12zM1028 552h12v6h-12zM1040 558h18v6h-18zM1058 564h12v6h-12zM1070 570h30v6h-30zM1088 576h36v6h-36zM1124 582h6v6h-6zM1130 588h6v6h-6z"/><path fill="#a2da37" d="M848 366h6v6h-6zM848 372h6v6h-6zM848 378h6v6h-6zM848 384h6v6h-6zM848 390h6v6h-6zM842 396h12v6h-12zM842 402h6v6h-6zM836 408h12v6h-12zM836 414h12v6h-12zM836 420h12v6h-12zM836 426h12v6h-12zM842 432h6v6h-6zM842 438h6v6h-6zM848 444h6v6h-6zM848 450h6v6h-6zM854 456h6v6h-6zM860 462h6v6h-6zM866 468h6v6h-6zM872 474h6v6h-6zM878 480h6v6h-6zM884 486h6v6h-6zM890 492h6v6h-6zM902 498h6v6h-6zM908 504h6v6h-6zM920 510h6v6h-6zM932 516h6v6h-6zM944 522h12v6h-12zM962 528h12v6h-12zM974 534h12v6h-12zM992 540h6v6h-6zM1004 546h12v6h-12zM1016 552h12v6h-12zM1028 558h12v6h-12zM1040 564h18v6h-18zM1052 570h18v6h-18zM1064 576h24v6h-24zM1076 582h48v6h-48zM1124 588h6v6h-6zM1130 594h6v6h-6zM1130 600h6v6h-6z"/><path fill="#aadc32" d="M842 372h6v6h-6zM842 378h6v6h-6zM842 384h6v6h-6zM836 390h12v6h-12zM824 396h18v6h-18zM818 402h24v6h-24zM818 408h18v6h-18zM824 414h12v6h-12zM824 420h12v6h-12zM830 426h6v6h-6zM830 432h12v6h-12zM836 438h6v6h-6zM842 444h6v6h-6zM842 450h6v6h-6zM848 456h6v6h-6zM854 462h6v6h-6zM860 468h6v6h-6zM866 474h6v6h-6zM872 480h6v6h-6zM878 486h6v6h-6zM884 492h6v6h-6zM890 498h12v6h-12zM902 504h6v6h-6zM914 510h6v6h-6zM920 516h12v6h-12zM932 522h12v6h-12zM950 528h12v6h-12zM962 534h12v6h-12zM980 540h12v6h-12zM992 546h12v6h-12zM1004 552h12v6h-12zM1016 558h12v6h-12zM1028 564h12v6h-12zM1040 570h12v6h-12zM1052 576h12v6h-12zM1058 582h18v6h-18zM1064 588h60v6h-60zM1076 594h54v6h-54zM1118 600h12v6h-12zM1124 606h12v6h-12zM1124 612h12v6h-12zM1130 618h6v6h-6z"/><path fill="#b2dd2d" d="M842 366h6v6h-6zM836 372h6v6h-6zM836 378h6v6h-6zM824 384h18v6h-18zM812 390h24v6h-24zM806 396h18v6h-18zM806 402h12v6h-12zM806 408h12v6h-12zM812 414h12v6h-12zM812 420h12v6h-12zM818 426h12v6h-12zM824 432h6v6h-6zM824 438h12v6h-12zM830 444h12v6h-12zM836 450h6v6h-6zM842 456h6v6h-6zM848 462h6v6h-6zM854 468h6v6h-6zM860 474h6v6h-6zM866 480h6v6h-6zM872 486h6v6h-6zM878 492h6v6h-6zM884 498h6v6h-6zM896 504h6v6h-6zM902 510h12v6h-12zM914 516h6v6h-6zM926 522h6v6h-6zM938 528h12v6h-12zM950 534h12v6h-12zM968 540h12v6h-12zM980 546h12v6h-12zM992 552h12v6h-12zM1004 558h12v6h-12zM1016 564h12v6h-12zM1028 570h12v6h-12zM1040 576h12v6h-12zM1046 582h12v6h-12zM1058 588h6v6h-6zM1064 594h12v6h-12zM1070 600h48v6h-48zM1082 606h42v6h-42zM1106 612h18v6h-18zM1118 618h12v6h-12zM1124 624h12v6h-12zM1130 630h6v6h-6z"/><path fill="#bade28" d="M830 366h12v6h-12zM830 372h6v6h-6zM824 378h12v6h-12zM812 384h12v6h-12zM800 390h12v6h-12zM800 396h6v6h-6zM800 402h6v6h-6zM800 408h6v6h-6zM800 414h12v6h-12zM806 420h6v6h-6zM812 426h6v6h-6zM812 432h12v6h-12zM818 438h6v6h-6zM824 444h6v6h-6zM830 450h6v6h-6zM836 456h6v6h-6zM836 462h12v6h-12zM842 468h12v6h-12zM848 474h12v6h-12zM854 480h12v6h-12zM866 486h6v6h-6zM872 492h6v6h-6zM878 498h6v6h-6zM884 504h12v6h-12zM896 510h6v6h-6zM908 516h6v6h-6zM914 522h12v6h-12zM926 528h12v6h-12zM944 534h6v6h-6zM956 540h12v6h-12zM968 546h12v6h-12zM986 552h6v6h-6zM998 558h6v6h-6zM1010 564h6v6h-6zM1016 570h12v6h-12zM1028 576h12v6h-12zM1034 582h12v6h-12zM1046 588h12v6h-12zM1052 594h12v6h-12zM1058 600h12v6h-12zM1070 606h12v6h-12zM1076 612h30v6h-30zM1094 618h24v6h-24zM1106 624h18v6h-18zM1118 630h12v6h-12zM1124 636h12v6h-12z"/><path fill="#c0df25" d="M824 366h6v6h-6zM818 372h12v6h-12zM812 378h12v6h-12zM800 384h12v6h-12zM800 420h6v6h-6zM800 426h12v6h-12zM806 432h6v6h-6zM812 438h6v6h-6zM818 444h6v6h-6zM818 450h12v6h-12zM824 456h12v6h-12zM830 462h6v6h-6zM836 468h6v6h-6zM842 474h6v6h-6zM848 480h6v6h-6zM854 486h12v6h-12zM866 492h6v6h-6zM872 498h6v6h-6zM878 504h6v6h-6zM890 510h6v6h-6zM896 516h12v6h-12zM908 522h6v6h-6zM920 528h6v6h-6zM932 534h12v6h-12zM944 540h12v6h-12zM962 546h6v6h-6zM974 552h12v6h-12zM986 558h12v6h-12zM998 564h12v6h-12zM1010 570h6v6h-6zM1016 576h12v6h-12zM1028 582h6v6h-6zM1034 588h12v6h-12zM1040 594h12v6h-12zM1052 600h6v6h-6zM1058 606h12v6h-12zM1064 612h12v6h-12zM1076 618h18v6h-18zM1088 624h18v6h-18zM1100 630h18v6h-18zM1112 636h12v6h-12z"/><path fill="#c8e020" d="M818 366h6v6h-6zM812 372h6v6h-6zM806 378h6v6h-6zM800 432h6v6h-6zM806 438h6v6h-6zM806 444h12v6h-12zM812 450h6v6h-6zM818 456h6v6h-6zM824 462h6v6h-6zM830 468h6v6h-6zM836 474h6v6h-6zM842 480h6v6h-6zM848 486h6v6h-6zM854 492h12v6h-12zM866 498h6v6h-6zM872 504h6v6h-6zM878 510h12v6h-12zM890 516h6v6h-6zM902 522h6v6h-6zM908 528h12v6h-12zM920 534h12v6h-12zM932 540h12v6h-12zM950 546h12v6h-12zM962 552h12v6h-12zM974 558h12v6h-12zM986 564h12v6h-12zM998 570h12v6h-12zM1010 576h6v6h-6zM1016 582h12v6h-12zM1028 588h6v6h-6zM1034 594h6v6h-6zM1040 600h12v6h-12zM1046 606h12v6h-12zM1058 612h6v6h-6zM1064 618h12v6h-12zM1076 624h12v6h-12zM1088 630h12v6h-12zM1100 636h12v6h-12z"/><path fill="#d0e11c" d="M812 366h6v6h-6zM806 372h6v6h-6zM800 378h6v6h-6zM800 438h6v6h-6zM800 444h6v6h-6zM806 450h6v6h-6zM812 456h6v6h-6zM818 462h6v6h-6zM824 468h6v6h-6zM830 474h6v6h-6zM836 480h6v6h-6zM842 486h6v6h-6zM848 492h6v6h-6zM854 498h12v6h-12zM866 504h6v6h-6zM872 510h6v6h-6zM884 516h6v6h-6zM890 522h12v6h-12zM902 528h6v6h-6zM914 534h6v6h-6zM926 540h6v6h-6zM938 546h12v6h-12zM950 552h12v6h-12zM962 558h12v6h-12zM974 564h12v6h-12zM986 570h12v6h-12zM998 576h12v6h-12zM1010 582h6v6h-6zM1016 588h12v6h-12zM1022 594h12v6h-12zM1034 600h6v6h-6zM1040 606h6v6h-6zM1046 612h12v6h-12zM1052 618h12v6h-12zM1064 624h12v6h-12zM1076 630h12v6h-12zM1088 636h12v6h-12z"/><path fill="#d5e21a" d="M800 366h12v6h-12zM800 372h6v6h-6zM800 450h6v6h-6zM806 456h6v6h-6zM812 462h6v6h-6zM818 468h6v6h-6zM824 474h6v6h-6zM830 480h6v6h-6zM836 486h6v6h-6zM842 492h6v6h-6zM848 498h6v6h-6zM860 504h6v6h-6zM866 510h6v6h-6zM872 516h12v6h-12zM884 522h6v6h-6zM896 528h6v6h-6zM902 534h12v6h-12zM914 540h12v6h-12zM926 546h12v6h-12zM938 552h12v6h-12zM956 558h6v6h-6zM968 564h6v6h-6zM974 570h12v6h-12zM986 576h12v6h-12zM998 582h12v6h-12zM1004 588h12v6h-12zM1016 594h6v6h-6zM1022 600h12v6h-12zM1028 606h12v6h-12zM1040 612h6v6h-6zM1046 618h6v6h-6zM1052 624h12v6h-12zM1064 630h12v6h-12zM1076 636h12v6h-12z"/><path fill="#dde318" d="M800 456h6v6h-6zM806 462h6v6h-6zM812 468h6v6h-6zM818 474h6v6h-6zM824 480h6v6h-6zM830 486h6v6h-6zM836 492h6v6h-6zM842 498h6v6h-6zM848 504h12v6h-12zM860 510h6v6h-6zM866 516h6v6h-6zM878 522h6v6h-6zM884 528h12v6h-12zM896 534h6v6h-6zM908 540h6v6h-6zM920 546h6v6h-6zM932 552h6v6h-6zM944 558h12v6h-12zM956 564h12v6h-12zM968 570h6v6h-6zM980 576h6v6h-6zM986 582h12v6h-12zM998 588h6v6h-6zM1004 594h12v6h-12zM1016 600h6v6h-6zM1022 606h6v6h-6zM1028 612h12v6h-12zM1040 618h6v6h-6zM1046 624h6v6h-6zM1052 630h12v6h-12zM1064 636h12v6h-12z"/><path fill="#e5e419" d="M800 462h6v6h-6zM806 468h6v6h-6zM812 474h6v6h-6zM818 480h6v6h-6zM824 486h6v6h-6zM830 492h6v6h-6zM836 498h6v6h-6zM842 504h6v6h-6zM854 510h6v6h-6zM860 516h6v6h-6zM866 522h12v6h-12zM878 528h6v6h-6zM890 534h6v6h-6zM896 540h12v6h-12zM908 546h12v6h-12zM920 552h12v6h-12zM932 558h12v6h-12zM944 564h12v6h-12zM956 570h12v6h-12zM968 576h12v6h-12zM980 582h6v6h-6zM986 588h12v6h-12zM998 594h6v6h-6zM1004 600h12v6h-12zM1016 606h6v6h-6zM1022 612h6v6h-6zM1028 618h12v6h-12zM1040 624h6v6h-6zM1046 630h6v6h-6zM1052 636h12v6h-12z"/><path fill="#eae51a" d="M800 468h6v6h-6zM806 474h6v6h-6zM812 480h6v6h-6zM818 486h6v6h-6zM824 492h6v6h-6zM830 498h6v6h-6zM836 504h6v6h-6zM842 510h12v6h-12zM854 516h6v6h-6zM860 522h6v6h-6zM872 528h6v6h-6zM878 534h12v6h-12zM890 540h6v6h-6zM902 546h6v6h-6zM914 552h6v6h-6zM920 558h12v6h-12zM932 564h12v6h-12zM944 570h12v6h-12zM956 576h12v6h-12zM968 582h12v6h-12zM980 588h6v6h-6zM986 594h12v6h-12zM998 600h6v6h-6zM1004 606h12v6h-12zM1016 612h6v6h-6zM1022 618h6v6h-6zM1028 624h12v6h-12zM1040 630h6v6h-6zM1046 636h6v6h-6z"/><path fill="#f1e51d" d="M800 474h6v6h-6zM806 480h6v6h-6zM812 486h6v6h-6zM818 492h6v6h-6zM824 498h6v6h-6zM830 504h6v6h-6zM836 510h6v6h-6zM848 516h6v6h-6zM854 522h6v6h-6zM860 528h12v6h-12zM872 534h6v6h-6zM884 540h6v6h-6zM890 546h12v6h-12zM902 552h12v6h-12zM914 558h6v6h-6zM926 564h6v6h-6zM938 570h6v6h-6zM950 576h6v6h-6zM962 582h6v6h-6zM968 588h12v6h-12zM980 594h6v6h-6zM986 600h12v6h-12zM998 606h6v6h-6zM1004 612h12v6h-12zM1016 618h6v6h-6zM1022 624h6v6h-6zM1028 630h12v6h-12zM1040 636h6v6h-6z"/><path fill="#f8e621" d="M800 480h6v6h-6zM806 486h6v6h-6zM812 492h6v6h-6zM818 498h6v6h-6zM824 504h6v6h-6zM830 510h6v6h-6zM836 516h12v6h-12zM848 522h6v6h-6zM854 528h6v6h-6zM866 534h6v6h-6zM872 540h12v6h-12zM884 546h6v6h-6zM896 552h6v6h-6zM902 558h12v6h-12zM914 564h12v6h-12zM926 570h12v6h-12zM938 576h12v6h-12zM950 582h12v6h-12zM962 588h6v6h-6zM968 594h12v6h-12zM980 600h6v6h-6zM986 606h12v6h-12zM998 612h6v6h-6zM1004 618h12v6h-12zM1016 624h6v6h-6zM1022 630h6v6h-6zM1028 636h12v6h-12z"/><path fill="#fde725" d="M800 486h6v6h-6zM800 492h12v6h-12zM800 498h18v6h-18zM800 504h24v6h-24zM800 510h30v6h-30zM800 516h36v6h-36zM800 522h48v6h-48zM800 528h54v6h-54zM800 534h66v6h-66zM800 540h72v6h-72zM800 546h84v6h-84zM800 552h96v6h-96zM800 558h102v6h-102zM800 564h114v6h-114zM800 570h126v6h-126zM800 576h138v6h-138zM800 582h150v6h-150zM800 588h162v6h-162zM800 594h168v6h-168zM800 600h180v6h-180zM800 606h186v6h-186zM800 612h198v6h-198zM800 618h204v6h-204zM800 624h216v6h-216zM800 630h222v6h-222zM800 636h228v6h-228z"/></g><rect x="806" y="372" width="316" height="256" fill="#fff" opacity="0.08"/></g>
<g clip-path="url(#rf)"><line x1="809.0" y1="372.0" x2="1122.0" y2="627.0" stroke="#cc2020" stroke-width="2" stroke-dasharray="3.0 3.4" stroke-linecap="round" opacity="0.92"/><line x1="884.5" y1="372.0" x2="1123.0" y2="559.0" stroke="#cc2020" stroke-width="2" stroke-dasharray="3.0 3.4" stroke-linecap="round" opacity="0.92"/><line x1="962.0" y1="373.0" x2="1123.0" y2="489.0" stroke="#cc2020" stroke-width="2" stroke-dasharray="3.0 3.4" stroke-linecap="round" opacity="0.92"/><polyline points="863.0,372.2 862.1,383.5" fill="none" stroke="#000" stroke-width="2" stroke-linejoin="round" stroke-linecap="butt"/><polyline points="860.3,428.0 863.0,438.7" fill="none" stroke="#000" stroke-width="2" stroke-linejoin="round" stroke-linecap="butt"/><polyline points="898.6,372.2 900.4,385.3 907.6,401.3 920.0,419.1 934.3,432.5" fill="none" stroke="#000" stroke-width="2" stroke-linejoin="round" stroke-linecap="butt"/><polyline points="971.9,463.0 1000.0,479.5 1016.4,487.7 1032.9,495.9 1039.6,499.5 1061.0,506.1 1087.7,514.1 1122.0,523.0" fill="none" stroke="#000" stroke-width="2" stroke-linejoin="round" stroke-linecap="butt"/><polyline points="948.5,372.2 952.1,381.7 959.2,392.4 966.0,399.5 977.3,410.2 993.0,424.5 1005.8,440.0 1012.3,446.6 1023.0,458.0 1031.2,463.8 1041.9,470.4" fill="none" stroke="#000" stroke-width="2" stroke-linejoin="round" stroke-linecap="butt"/><polyline points="1084.2,487.7 1105.5,493.9 1122.0,498.4" fill="none" stroke="#000" stroke-width="2" stroke-linejoin="round" stroke-linecap="butt"/><polyline points="1004.0,404.9 1021.8,419.1 1041.4,438.7 1061.0,451.2 1084.2,461.9 1105.5,472.6 1122.0,477.9" fill="none" stroke="#000" stroke-width="2" stroke-linejoin="round" stroke-linecap="butt"/><polyline points="1020.0,385.3 1030.7,396.0 1041.4,408.4 1050.3,419.1" fill="none" stroke="#000" stroke-width="2" stroke-linejoin="round" stroke-linecap="butt"/><polyline points="1089.5,447.6 1105.5,453.0 1122.0,460.1" fill="none" stroke="#000" stroke-width="2" stroke-linejoin="round" stroke-linecap="butt"/><polyline points="984.4,526.6 1007.5,536.4 1036.0,547.1" fill="none" stroke="#000" stroke-width="2" stroke-linejoin="round" stroke-linecap="butt"/><polyline points="1078.8,561.4 1102.0,566.7 1122.0,572.0" fill="none" stroke="#000" stroke-width="2" stroke-linejoin="round" stroke-linecap="butt"/><text x="0" y="0" font-size="18" text-anchor="middle" dominant-baseline="central" stroke="#000" stroke-width="0.3" transform="translate(856.8 405.7) rotate(-90) scale(1.06 1)">0.88</text><text x="0" y="0" font-size="18" text-anchor="middle" dominant-baseline="central" stroke="#000" stroke-width="0.3" transform="translate(952.5 446) rotate(38) scale(1.06 1)">0.80</text><text x="0" y="0" font-size="18" text-anchor="middle" dominant-baseline="central" stroke="#000" stroke-width="0.3" transform="translate(1063 478) rotate(24) scale(1.06 1)">0.72</text><text x="0" y="0" font-size="18" text-anchor="middle" dominant-baseline="central" stroke="#000" stroke-width="0.3" transform="translate(989 379.5) rotate(45) scale(1.06 1)">0.64</text><text x="0" y="0" font-size="18" text-anchor="middle" dominant-baseline="central" stroke="#000" stroke-width="0.3" transform="translate(1070 433.5) rotate(36) scale(1.06 1)">0.56</text><text x="0" y="0" font-size="18" text-anchor="middle" dominant-baseline="central" stroke="#000" stroke-width="0.3" transform="translate(1057.5 554.5) rotate(14) scale(1.06 1)">0.88</text></g>
<rect x="806.5" y="372.5" width="315.8" height="255.9" fill="none" stroke="#000" stroke-width="1.15"/>
<line x1="822.6" y1="628.4" x2="822.6" y2="632.4" stroke="#000" stroke-width="1"/><text x="0" y="0" font-size="19.5" text-anchor="middle" stroke="#000" stroke-width="0.25" transform="translate(822.6 651.4) scale(1.1 1)">1</text><line x1="873.3" y1="628.4" x2="873.3" y2="632.4" stroke="#000" stroke-width="1"/><text x="0" y="0" font-size="19.5" text-anchor="middle" stroke="#000" stroke-width="0.25" transform="translate(873.3 651.4) scale(1.1 1)">2</text><line x1="924.0" y1="628.4" x2="924.0" y2="632.4" stroke="#000" stroke-width="1"/><text x="0" y="0" font-size="19.5" text-anchor="middle" stroke="#000" stroke-width="0.25" transform="translate(924.0 651.4) scale(1.1 1)">3</text><line x1="974.7" y1="628.4" x2="974.7" y2="632.4" stroke="#000" stroke-width="1"/><text x="0" y="0" font-size="19.5" text-anchor="middle" stroke="#000" stroke-width="0.25" transform="translate(974.7 651.4) scale(1.1 1)">4</text><line x1="1025.4" y1="628.4" x2="1025.4" y2="632.4" stroke="#000" stroke-width="1"/><text x="0" y="0" font-size="19.5" text-anchor="middle" stroke="#000" stroke-width="0.25" transform="translate(1025.4 651.4) scale(1.1 1)">5</text><line x1="1076.1" y1="628.4" x2="1076.1" y2="632.4" stroke="#000" stroke-width="1"/><text x="0" y="0" font-size="19.5" text-anchor="middle" stroke="#000" stroke-width="0.25" transform="translate(1076.1 651.4) scale(1.1 1)">6</text><line x1="802" y1="628.4" x2="806" y2="628.4" stroke="#000" stroke-width="1"/><text x="0" y="0" font-size="19.5" text-anchor="end" stroke="#000" stroke-width="0.25" transform="translate(799.4 635.8) scale(1.1 1)">0</text><line x1="802" y1="591.4" x2="806" y2="591.4" stroke="#000" stroke-width="1"/><text x="0" y="0" font-size="19.5" text-anchor="end" stroke="#000" stroke-width="0.25" transform="translate(799.4 598.8) scale(1.1 1)">1</text><line x1="802" y1="554.4" x2="806" y2="554.4" stroke="#000" stroke-width="1"/><text x="0" y="0" font-size="19.5" text-anchor="end" stroke="#000" stroke-width="0.25" transform="translate(799.4 561.8) scale(1.1 1)">2</text><line x1="802" y1="517.4" x2="806" y2="517.4" stroke="#000" stroke-width="1"/><text x="0" y="0" font-size="19.5" text-anchor="end" stroke="#000" stroke-width="0.25" transform="translate(799.4 524.8) scale(1.1 1)">3</text><line x1="802" y1="480.4" x2="806" y2="480.4" stroke="#000" stroke-width="1"/><text x="0" y="0" font-size="19.5" text-anchor="end" stroke="#000" stroke-width="0.25" transform="translate(799.4 487.8) scale(1.1 1)">4</text><line x1="802" y1="443.4" x2="806" y2="443.4" stroke="#000" stroke-width="1"/><text x="0" y="0" font-size="19.5" text-anchor="end" stroke="#000" stroke-width="0.25" transform="translate(799.4 450.8) scale(1.1 1)">5</text><line x1="802" y1="406.4" x2="806" y2="406.4" stroke="#000" stroke-width="1"/><text x="0" y="0" font-size="19.5" text-anchor="end" stroke="#000" stroke-width="0.25" transform="translate(799.4 413.8) scale(1.1 1)">6</text><text x="0" y="0" font-size="19.5" text-anchor="middle" stroke="#000" stroke-width="0.25" transform="translate(964.5 673.0) scale(1.1 1)">log(<tspan font-style="italic">K</tspan>)</text><text x="0" y="0" font-size="19.5" text-anchor="middle" stroke="#000" stroke-width="0.25" transform="translate(777.5 500.7) rotate(-90) scale(1.1 1)">log(<tspan font-style="italic">n</tspan>)</text><text class="cap" x="942" y="724" font-size="26.8" text-anchor="middle">(f) StanfordDogs</text>
</svg></body></html>
